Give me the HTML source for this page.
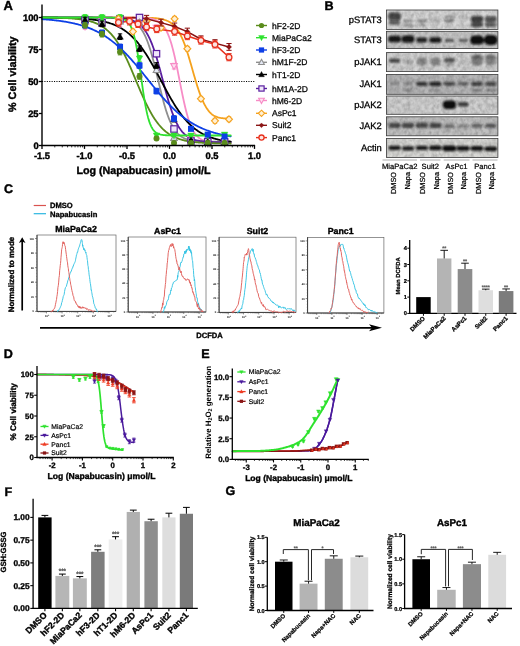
<!DOCTYPE html>
<html><head><meta charset="utf-8"><title>Figure</title>
<style>html,body{margin:0;padding:0;background:#fff}svg{display:block}text{font-family:"Liberation Sans", sans-serif;text-rendering:geometricPrecision}</style>
</head><body>
<svg width="520" height="646" viewBox="0 0 520 646">
<defs>
<filter id="bl1" x="-20%" y="-50%" width="140%" height="200%"><feGaussianBlur stdDeviation="1.0"/></filter>
<filter id="noise" x="0" y="0" width="100%" height="100%"><feTurbulence type="fractalNoise" baseFrequency="0.28 0.24" numOctaves="2" seed="7" result="n"/><feColorMatrix in="n" type="matrix" values="0 0 0 0 0  0 0 0 0 0  0 0 0 0 0  0.45 0.45 0.45 0 -0.52"/></filter>
<filter id="soft" x="0" y="0" width="520" height="646" filterUnits="userSpaceOnUse"><feGaussianBlur stdDeviation="0.32"/></filter>
<filter id="bl2" x="-20%" y="-50%" width="140%" height="200%"><feGaussianBlur stdDeviation="2"/></filter>
</defs>
<rect width="520" height="646" fill="#fff"/>
<g filter="url(#soft)">
<text x="3.60" y="9.80" font-size="13" text-anchor="start" font-weight="bold" stroke="#000" stroke-width="0.40" fill="#000">A</text>
<line x1="42.00" y1="81.50" x2="254.50" y2="81.50" stroke="#000" stroke-width="1.0" stroke-dasharray="1.1 1.3"/>
<path d="M42.00,17.50 L42.63,17.50 L43.26,17.50 L43.89,17.50 L44.52,17.50 L45.16,17.50 L45.79,17.50 L46.42,17.50 L47.05,17.50 L47.68,17.50 L48.31,17.50 L48.94,17.50 L49.57,17.50 L50.20,17.50 L50.84,17.50 L51.47,17.50 L52.10,17.50 L52.73,17.50 L53.36,17.50 L53.99,17.50 L54.62,17.50 L55.25,17.50 L55.88,17.50 L56.52,17.50 L57.15,17.50 L57.78,17.50 L58.41,17.50 L59.04,17.50 L59.67,17.50 L60.30,17.50 L60.93,17.50 L61.56,17.50 L62.20,17.50 L62.83,17.50 L63.46,17.50 L64.09,17.50 L64.72,17.50 L65.35,17.50 L65.98,17.50 L66.61,17.50 L67.24,17.50 L67.88,17.50 L68.51,17.50 L69.14,17.50 L69.77,17.50 L70.40,17.50 L71.03,17.50 L71.66,17.50 L72.29,17.50 L72.92,17.50 L73.56,17.50 L74.19,17.50 L74.82,17.50 L75.45,17.50 L76.08,17.50 L76.71,17.50 L77.34,17.50 L77.97,17.50 L78.60,17.50 L79.24,17.50 L79.87,17.50 L80.50,17.50 L81.13,17.50 L81.76,17.50 L82.39,17.50 L83.02,17.50 L83.65,17.50 L84.28,17.50 L84.92,17.50 L85.55,17.50 L86.18,17.50 L86.81,17.50 L87.44,17.50 L88.07,17.50 L88.70,17.50 L89.33,17.50 L89.96,17.50 L90.59,17.50 L91.23,17.50 L91.86,17.50 L92.49,17.50 L93.12,17.50 L93.75,17.50 L94.38,17.50 L95.01,17.50 L95.64,17.50 L96.27,17.50 L96.91,17.50 L97.54,17.50 L98.17,17.50 L98.80,17.50 L99.43,17.50 L100.06,17.50 L100.69,17.50 L101.32,17.50 L101.95,17.50 L102.59,17.50 L103.22,17.50 L103.85,17.50 L104.48,17.50 L105.11,17.50 L105.74,17.50 L106.37,17.50 L107.00,17.50 L107.63,17.50 L108.27,17.50 L108.90,17.50 L109.53,17.50 L110.16,17.50 L110.79,17.50 L111.42,17.50 L112.05,17.50 L112.68,17.50 L113.31,17.50 L113.95,17.50 L114.58,17.50 L115.21,17.50 L115.84,17.50 L116.47,17.50 L117.10,17.50 L117.73,17.50 L118.36,17.50 L118.99,17.51 L119.63,17.51 L120.26,17.51 L120.89,17.51 L121.52,17.51 L122.15,17.51 L122.78,17.51 L123.41,17.51 L124.04,17.51 L124.67,17.51 L125.31,17.51 L125.94,17.51 L126.57,17.51 L127.20,17.52 L127.83,17.52 L128.46,17.52 L129.09,17.52 L129.72,17.52 L130.35,17.52 L130.99,17.53 L131.62,17.53 L132.25,17.53 L132.88,17.53 L133.51,17.54 L134.14,17.54 L134.77,17.54 L135.40,17.55 L136.03,17.55 L136.67,17.55 L137.30,17.56 L137.93,17.57 L138.56,17.57 L139.19,17.58 L139.82,17.58 L140.45,17.59 L141.08,17.60 L141.71,17.61 L142.35,17.62 L142.98,17.63 L143.61,17.64 L144.24,17.65 L144.87,17.67 L145.50,17.68 L146.13,17.70 L146.76,17.71 L147.39,17.73 L148.03,17.75 L148.66,17.78 L149.29,17.80 L149.92,17.83 L150.55,17.86 L151.18,17.89 L151.81,17.93 L152.44,17.96 L153.07,18.00 L153.71,18.05 L154.34,18.10 L154.97,18.15 L155.60,18.21 L156.23,18.27 L156.86,18.34 L157.49,18.41 L158.12,18.49 L158.75,18.58 L159.39,18.68 L160.02,18.78 L160.65,18.89 L161.28,19.02 L161.91,19.15 L162.54,19.29 L163.17,19.45 L163.80,19.62 L164.43,19.81 L165.07,20.01 L165.70,20.23 L166.33,20.46 L166.96,20.72 L167.59,20.99 L168.22,21.30 L168.85,21.62 L169.48,21.97 L170.11,22.35 L170.75,22.76 L171.38,23.21 L172.01,23.69 L172.64,24.20 L173.27,24.76 L173.90,25.36 L174.53,26.00 L175.16,26.69 L175.79,27.44 L176.43,28.23 L177.06,29.08 L177.69,29.99 L178.32,30.96 L178.95,31.99 L179.58,33.09 L180.21,34.26 L180.84,35.49 L181.47,36.80 L182.11,38.18 L182.74,39.63 L183.37,41.16 L184.00,42.75 L184.63,44.42 L185.26,46.16 L185.89,47.97 L186.52,49.84 L187.15,51.77 L187.78,53.76 L188.42,55.80 L189.05,57.88 L189.68,60.01 L190.31,62.17 L190.94,64.35 L191.57,66.56 L192.20,68.77 L192.83,70.99 L193.46,73.19 L194.10,75.39 L194.73,77.56 L195.36,79.71 L195.99,81.81 L196.62,83.88 L197.25,85.90 L197.88,87.86 L198.51,89.76 L199.14,91.60 L199.78,93.37 L200.41,95.08 L201.04,96.71 L201.67,98.27 L202.30,99.76 L202.93,101.18 L203.56,102.52 L204.19,103.79 L204.82,105.00 L205.46,106.13 L206.09,107.20 L206.72,108.20 L207.35,109.14 L207.98,110.02 L208.61,110.84 L209.24,111.61 L209.87,112.33 L210.50,113.00 L211.14,113.62 L211.77,114.20 L212.40,114.68 L213.03,115.11 L213.66,115.49 L214.29,115.84 L214.92,116.16 L215.55,116.45 L216.18,116.72 L216.82,116.95 L217.45,117.17 L218.08,117.36 L218.71,117.53 L219.34,117.68 L219.97,117.81 L220.60,117.93 L221.23,118.03 L221.86,118.12 L222.50,118.19 L223.13,118.26 L223.76,118.31 L224.39,118.35 L225.02,118.38 L225.65,118.41 L226.28,118.42 L226.91,118.43 L227.54,118.43 L228.18,118.43 L228.81,118.42 L229.44,118.40 L230.07,118.38 L230.70,118.35" stroke="#f5a21e" stroke-width="1.8" fill="none" stroke-linejoin="round" stroke-linecap="round"/>
<path d="M42.00,17.50 L42.63,17.50 L43.26,17.50 L43.89,17.50 L44.52,17.50 L45.16,17.50 L45.79,17.50 L46.42,17.50 L47.05,17.50 L47.68,17.50 L48.31,17.50 L48.94,17.50 L49.57,17.50 L50.20,17.50 L50.84,17.50 L51.47,17.50 L52.10,17.50 L52.73,17.50 L53.36,17.50 L53.99,17.50 L54.62,17.50 L55.25,17.50 L55.88,17.50 L56.52,17.50 L57.15,17.50 L57.78,17.50 L58.41,17.50 L59.04,17.50 L59.67,17.50 L60.30,17.50 L60.93,17.50 L61.56,17.50 L62.20,17.50 L62.83,17.50 L63.46,17.50 L64.09,17.50 L64.72,17.50 L65.35,17.50 L65.98,17.50 L66.61,17.50 L67.24,17.50 L67.88,17.50 L68.51,17.50 L69.14,17.50 L69.77,17.50 L70.40,17.50 L71.03,17.50 L71.66,17.50 L72.29,17.50 L72.92,17.50 L73.56,17.50 L74.19,17.50 L74.82,17.50 L75.45,17.50 L76.08,17.50 L76.71,17.50 L77.34,17.50 L77.97,17.50 L78.60,17.50 L79.24,17.50 L79.87,17.50 L80.50,17.50 L81.13,17.50 L81.76,17.50 L82.39,17.50 L83.02,17.50 L83.65,17.50 L84.28,17.50 L84.92,17.50 L85.55,17.50 L86.18,17.50 L86.81,17.50 L87.44,17.50 L88.07,17.50 L88.70,17.50 L89.33,17.50 L89.96,17.50 L90.59,17.50 L91.23,17.50 L91.86,17.50 L92.49,17.50 L93.12,17.50 L93.75,17.50 L94.38,17.50 L95.01,17.50 L95.64,17.50 L96.27,17.50 L96.91,17.50 L97.54,17.50 L98.17,17.50 L98.80,17.50 L99.43,17.50 L100.06,17.50 L100.69,17.50 L101.32,17.50 L101.95,17.50 L102.59,17.50 L103.22,17.50 L103.85,17.50 L104.48,17.50 L105.11,17.50 L105.74,17.50 L106.37,17.50 L107.00,17.50 L107.63,17.50 L108.27,17.50 L108.90,17.50 L109.53,17.50 L110.16,17.50 L110.79,17.50 L111.42,17.50 L112.05,17.50 L112.68,17.50 L113.31,17.50 L113.95,17.50 L114.58,17.50 L115.21,17.50 L115.84,17.50 L116.47,17.50 L117.10,17.50 L117.73,17.51 L118.36,17.51 L118.99,17.51 L119.63,17.51 L120.26,17.51 L120.89,17.51 L121.52,17.51 L122.15,17.51 L122.78,17.51 L123.41,17.51 L124.04,17.52 L124.67,17.52 L125.31,17.52 L125.94,17.52 L126.57,17.52 L127.20,17.53 L127.83,17.53 L128.46,17.53 L129.09,17.53 L129.72,17.54 L130.35,17.54 L130.99,17.55 L131.62,17.55 L132.25,17.56 L132.88,17.56 L133.51,17.57 L134.14,17.58 L134.77,17.59 L135.40,17.60 L136.03,17.61 L136.67,17.62 L137.30,17.63 L137.93,17.64 L138.56,17.66 L139.19,17.68 L139.82,17.70 L140.45,17.72 L141.08,17.74 L141.71,17.77 L142.35,17.80 L142.98,17.83 L143.61,17.86 L144.24,17.90 L144.87,17.95 L145.50,18.00 L146.13,18.05 L146.76,18.11 L147.39,18.17 L148.03,18.24 L148.66,18.32 L149.29,18.41 L149.92,18.51 L150.55,18.62 L151.18,18.74 L151.81,18.87 L152.44,19.02 L153.07,19.18 L153.71,19.36 L154.34,19.56 L154.97,19.77 L155.60,20.01 L156.23,20.28 L156.86,20.57 L157.49,20.90 L158.12,21.25 L158.75,21.64 L159.39,22.07 L160.02,22.55 L160.65,23.07 L161.28,23.64 L161.91,24.27 L162.54,24.96 L163.17,25.71 L163.80,26.53 L164.43,27.43 L165.07,28.41 L165.70,29.48 L166.33,30.64 L166.96,31.89 L167.59,33.25 L168.22,34.72 L168.85,36.30 L169.48,38.00 L170.11,39.82 L170.75,41.76 L171.38,43.84 L172.01,46.03 L172.64,48.36 L173.27,50.81 L173.90,53.37 L174.53,56.06 L175.16,58.85 L175.79,61.74 L176.43,64.72 L177.06,67.78 L177.69,70.90 L178.32,74.06 L178.95,77.26 L179.58,80.48 L180.21,83.69 L180.84,86.89 L181.47,90.05 L182.11,93.16 L182.74,96.20 L183.37,99.17 L184.00,102.04 L184.63,104.82 L185.26,107.49 L185.89,110.04 L186.52,112.46 L187.15,114.77 L187.78,116.95 L188.42,119.00 L189.05,120.92 L189.68,122.72 L190.31,124.40 L190.94,125.96 L191.57,127.41 L192.20,128.76 L192.83,130.00 L193.46,131.14 L194.10,132.19 L194.73,133.16 L195.36,134.04 L195.99,134.86 L196.62,135.60 L197.25,136.28 L197.88,136.89 L198.51,137.46 L199.14,137.97 L199.78,138.44 L200.41,138.86 L201.04,139.25 L201.67,139.60 L202.30,139.92 L202.93,140.20 L203.56,140.47 L204.19,140.70 L204.82,140.92 L205.46,141.11 L206.09,141.29 L206.72,141.45 L207.35,141.59 L207.98,141.72 L208.61,141.84 L209.24,141.95 L209.87,142.04 L210.50,142.13 L211.14,142.21 L211.77,142.28 L212.40,142.34 L213.03,142.40 L213.66,142.45 L214.29,142.50 L214.92,142.54 L215.55,142.58 L216.18,142.62 L216.82,142.65 L217.45,142.68 L218.08,142.70 L218.71,142.73 L219.34,142.75 L219.97,142.76 L220.60,142.78 L221.23,142.80 L221.86,142.81 L222.50,142.82 L223.13,142.84 L223.76,142.85 L224.39,142.85 L225.02,142.86 L225.65,142.87 L226.28,142.88 L226.91,142.88 L227.54,142.89 L228.18,142.89 L228.81,142.90 L229.44,142.90 L230.07,142.91 L230.70,142.91" stroke="#f78cc6" stroke-width="1.8" fill="none" stroke-linejoin="round" stroke-linecap="round"/>
<path d="M42.00,17.50 L42.63,17.50 L43.26,17.50 L43.89,17.50 L44.52,17.50 L45.16,17.50 L45.79,17.50 L46.42,17.50 L47.05,17.50 L47.68,17.50 L48.31,17.50 L48.94,17.50 L49.57,17.50 L50.20,17.50 L50.84,17.50 L51.47,17.50 L52.10,17.50 L52.73,17.50 L53.36,17.50 L53.99,17.50 L54.62,17.50 L55.25,17.50 L55.88,17.50 L56.52,17.50 L57.15,17.50 L57.78,17.50 L58.41,17.50 L59.04,17.50 L59.67,17.50 L60.30,17.50 L60.93,17.50 L61.56,17.50 L62.20,17.50 L62.83,17.50 L63.46,17.50 L64.09,17.50 L64.72,17.50 L65.35,17.50 L65.98,17.50 L66.61,17.50 L67.24,17.50 L67.88,17.50 L68.51,17.50 L69.14,17.50 L69.77,17.50 L70.40,17.50 L71.03,17.50 L71.66,17.50 L72.29,17.50 L72.92,17.50 L73.56,17.50 L74.19,17.50 L74.82,17.50 L75.45,17.50 L76.08,17.50 L76.71,17.50 L77.34,17.50 L77.97,17.50 L78.60,17.50 L79.24,17.50 L79.87,17.50 L80.50,17.50 L81.13,17.50 L81.76,17.50 L82.39,17.50 L83.02,17.50 L83.65,17.51 L84.28,17.51 L84.92,17.51 L85.55,17.51 L86.18,17.51 L86.81,17.51 L87.44,17.51 L88.07,17.51 L88.70,17.51 L89.33,17.51 L89.96,17.51 L90.59,17.51 L91.23,17.51 L91.86,17.52 L92.49,17.52 L93.12,17.52 L93.75,17.52 L94.38,17.52 L95.01,17.52 L95.64,17.53 L96.27,17.53 L96.91,17.53 L97.54,17.53 L98.17,17.54 L98.80,17.54 L99.43,17.54 L100.06,17.55 L100.69,17.55 L101.32,17.56 L101.95,17.56 L102.59,17.57 L103.22,17.57 L103.85,17.58 L104.48,17.59 L105.11,17.60 L105.74,17.60 L106.37,17.61 L107.00,17.62 L107.63,17.63 L108.27,17.65 L108.90,17.66 L109.53,17.67 L110.16,17.69 L110.79,17.71 L111.42,17.72 L112.05,17.74 L112.68,17.77 L113.31,17.79 L113.95,17.82 L114.58,17.84 L115.21,17.87 L115.84,17.91 L116.47,17.94 L117.10,17.98 L117.73,18.03 L118.36,18.07 L118.99,18.13 L119.63,18.18 L120.26,18.24 L120.89,18.31 L121.52,18.38 L122.15,18.46 L122.78,18.54 L123.41,18.63 L124.04,18.73 L124.67,18.84 L125.31,18.96 L125.94,19.09 L126.57,19.23 L127.20,19.38 L127.83,19.54 L128.46,19.72 L129.09,19.92 L129.72,20.13 L130.35,20.36 L130.99,20.61 L131.62,20.88 L132.25,21.17 L132.88,21.49 L133.51,21.83 L134.14,22.20 L134.77,22.60 L135.40,23.04 L136.03,23.51 L136.67,24.02 L137.30,24.57 L137.93,25.16 L138.56,25.80 L139.19,26.48 L139.82,27.22 L140.45,28.02 L141.08,28.87 L141.71,29.78 L142.35,30.76 L142.98,31.81 L143.61,32.93 L144.24,34.12 L144.87,35.39 L145.50,36.74 L146.13,38.17 L146.76,39.68 L147.39,41.28 L148.03,42.97 L148.66,44.75 L149.29,46.61 L149.92,48.56 L150.55,50.59 L151.18,52.70 L151.81,54.90 L152.44,57.17 L153.07,59.51 L153.71,61.92 L154.34,64.39 L154.97,66.91 L155.60,69.47 L156.23,72.07 L156.86,74.70 L157.49,77.34 L158.12,79.99 L158.75,82.64 L159.39,85.28 L160.02,87.90 L160.65,90.49 L161.28,93.04 L161.91,95.55 L162.54,98.00 L163.17,100.38 L163.80,102.70 L164.43,104.95 L165.07,107.12 L165.70,109.21 L166.33,111.22 L166.96,113.14 L167.59,114.97 L168.22,116.72 L168.85,118.38 L169.48,119.96 L170.11,121.44 L170.75,122.85 L171.38,124.17 L172.01,125.42 L172.64,126.59 L173.27,127.68 L173.90,128.71 L174.53,129.67 L175.16,130.56 L175.79,131.40 L176.43,132.17 L177.06,132.90 L177.69,133.57 L178.32,134.19 L178.95,134.77 L179.58,135.30 L180.21,135.80 L180.84,136.26 L181.47,136.68 L182.11,137.08 L182.74,137.44 L183.37,137.77 L184.00,138.08 L184.63,138.37 L185.26,138.63 L185.89,138.87 L186.52,139.10 L187.15,139.30 L187.78,139.49 L188.42,139.67 L189.05,139.83 L189.68,139.98 L190.31,140.11 L190.94,140.24 L191.57,140.35 L192.20,140.46 L192.83,140.56 L193.46,140.65 L194.10,140.73 L194.73,140.80 L195.36,140.87 L195.99,140.94 L196.62,141.00 L197.25,141.05 L197.88,141.10 L198.51,141.15 L199.14,141.19 L199.78,141.23 L200.41,141.26 L201.04,141.29 L201.67,141.32 L202.30,141.35 L202.93,141.38 L203.56,141.40 L204.19,141.42 L204.82,141.44 L205.46,141.46 L206.09,141.48 L206.72,141.49 L207.35,141.50 L207.98,141.52 L208.61,141.53 L209.24,141.54 L209.87,141.55 L210.50,141.56 L211.14,141.57 L211.77,141.57 L212.40,141.58 L213.03,141.59 L213.66,141.59 L214.29,141.60 L214.92,141.60 L215.55,141.61 L216.18,141.61 L216.82,141.62 L217.45,141.62 L218.08,141.62 L218.71,141.63 L219.34,141.63 L219.97,141.63 L220.60,141.63 L221.23,141.64 L221.86,141.64 L222.50,141.64 L223.13,141.64 L223.76,141.64 L224.39,141.64 L225.02,141.65 L225.65,141.65 L226.28,141.65 L226.91,141.65 L227.54,141.65 L228.18,141.65 L228.81,141.65 L229.44,141.65 L230.07,141.65 L230.70,141.65" stroke="#8f8f8f" stroke-width="1.8" fill="none" stroke-linejoin="round" stroke-linecap="round"/>
<path d="M42.00,17.50 L42.63,17.50 L43.26,17.50 L43.89,17.50 L44.52,17.50 L45.16,17.50 L45.79,17.50 L46.42,17.50 L47.05,17.50 L47.68,17.50 L48.31,17.50 L48.94,17.50 L49.57,17.50 L50.20,17.50 L50.84,17.50 L51.47,17.50 L52.10,17.50 L52.73,17.50 L53.36,17.50 L53.99,17.50 L54.62,17.50 L55.25,17.50 L55.88,17.50 L56.52,17.50 L57.15,17.50 L57.78,17.50 L58.41,17.50 L59.04,17.50 L59.67,17.50 L60.30,17.50 L60.93,17.50 L61.56,17.50 L62.20,17.50 L62.83,17.50 L63.46,17.50 L64.09,17.50 L64.72,17.50 L65.35,17.50 L65.98,17.50 L66.61,17.50 L67.24,17.50 L67.88,17.50 L68.51,17.50 L69.14,17.50 L69.77,17.50 L70.40,17.50 L71.03,17.50 L71.66,17.50 L72.29,17.50 L72.92,17.50 L73.56,17.50 L74.19,17.50 L74.82,17.50 L75.45,17.50 L76.08,17.50 L76.71,17.50 L77.34,17.50 L77.97,17.50 L78.60,17.50 L79.24,17.50 L79.87,17.51 L80.50,17.51 L81.13,17.51 L81.76,17.51 L82.39,17.51 L83.02,17.51 L83.65,17.51 L84.28,17.51 L84.92,17.51 L85.55,17.51 L86.18,17.51 L86.81,17.51 L87.44,17.51 L88.07,17.51 L88.70,17.52 L89.33,17.52 L89.96,17.52 L90.59,17.52 L91.23,17.52 L91.86,17.52 L92.49,17.52 L93.12,17.53 L93.75,17.53 L94.38,17.53 L95.01,17.53 L95.64,17.54 L96.27,17.54 L96.91,17.54 L97.54,17.54 L98.17,17.55 L98.80,17.55 L99.43,17.56 L100.06,17.56 L100.69,17.57 L101.32,17.57 L101.95,17.58 L102.59,17.58 L103.22,17.59 L103.85,17.60 L104.48,17.60 L105.11,17.61 L105.74,17.62 L106.37,17.63 L107.00,17.64 L107.63,17.65 L108.27,17.66 L108.90,17.68 L109.53,17.69 L110.16,17.71 L110.79,17.72 L111.42,17.74 L112.05,17.76 L112.68,17.78 L113.31,17.80 L113.95,17.83 L114.58,17.85 L115.21,17.88 L115.84,17.91 L116.47,17.94 L117.10,17.98 L117.73,18.02 L118.36,18.06 L118.99,18.10 L119.63,18.15 L120.26,18.20 L120.89,18.26 L121.52,18.32 L122.15,18.38 L122.78,18.45 L123.41,18.53 L124.04,18.61 L124.67,18.70 L125.31,18.79 L125.94,18.90 L126.57,19.01 L127.20,19.13 L127.83,19.25 L128.46,19.39 L129.09,19.54 L129.72,19.70 L130.35,19.87 L130.99,20.06 L131.62,20.26 L132.25,20.48 L132.88,20.71 L133.51,20.96 L134.14,21.22 L134.77,21.51 L135.40,21.82 L136.03,22.16 L136.67,22.51 L137.30,22.90 L137.93,23.31 L138.56,23.75 L139.19,24.22 L139.82,24.73 L140.45,25.27 L141.08,25.85 L141.71,26.47 L142.35,27.13 L142.98,27.84 L143.61,28.59 L144.24,29.39 L144.87,30.25 L145.50,31.16 L146.13,32.12 L146.76,33.14 L147.39,34.23 L148.03,35.37 L148.66,36.58 L149.29,37.86 L149.92,39.21 L150.55,40.62 L151.18,42.10 L151.81,43.66 L152.44,45.29 L153.07,46.98 L153.71,48.75 L154.34,50.59 L154.97,52.49 L155.60,54.46 L156.23,56.49 L156.86,58.58 L157.49,60.73 L158.12,62.93 L158.75,65.18 L159.39,67.46 L160.02,69.78 L160.65,72.13 L161.28,74.51 L161.91,76.90 L162.54,79.29 L163.17,81.69 L163.80,84.09 L164.43,86.47 L165.07,88.83 L165.70,91.17 L166.33,93.48 L166.96,95.74 L167.59,97.97 L168.22,100.14 L168.85,102.26 L169.48,104.32 L170.11,106.32 L170.75,108.26 L171.38,110.13 L172.01,111.93 L172.64,113.67 L173.27,115.33 L173.90,116.92 L174.53,118.44 L175.16,119.89 L175.79,121.27 L176.43,122.58 L177.06,123.82 L177.69,125.00 L178.32,126.12 L178.95,127.17 L179.58,128.16 L180.21,129.10 L180.84,129.98 L181.47,130.81 L182.11,131.59 L182.74,132.32 L183.37,133.00 L184.00,133.64 L184.63,134.24 L185.26,134.80 L185.89,135.33 L186.52,135.82 L187.15,136.27 L187.78,136.70 L188.42,137.10 L189.05,137.47 L189.68,137.81 L190.31,138.13 L190.94,138.43 L191.57,138.71 L192.20,138.97 L192.83,139.21 L193.46,139.43 L194.10,139.64 L194.73,139.83 L195.36,140.01 L195.99,140.18 L196.62,140.33 L197.25,140.48 L197.88,140.61 L198.51,140.73 L199.14,140.85 L199.78,140.96 L200.41,141.05 L201.04,141.15 L201.67,141.23 L202.30,141.31 L202.93,141.38 L203.56,141.45 L204.19,141.51 L204.82,141.57 L205.46,141.62 L206.09,141.67 L206.72,141.72 L207.35,141.76 L207.98,141.80 L208.61,141.84 L209.24,141.87 L209.87,141.90 L210.50,141.93 L211.14,141.96 L211.77,141.99 L212.40,142.01 L213.03,142.03 L213.66,142.05 L214.29,142.07 L214.92,142.09 L215.55,142.10 L216.18,142.12 L216.82,142.13 L217.45,142.14 L218.08,142.15 L218.71,142.16 L219.34,142.17 L219.97,142.18 L220.60,142.19 L221.23,142.20 L221.86,142.21 L222.50,142.21 L223.13,142.22 L223.76,142.23 L224.39,142.23 L225.02,142.24 L225.65,142.24 L226.28,142.25 L226.91,142.25 L227.54,142.25 L228.18,142.26 L228.81,142.26 L229.44,142.26 L230.07,142.27 L230.70,142.27" stroke="#5a1fa0" stroke-width="1.8" fill="none" stroke-linejoin="round" stroke-linecap="round"/>
<path d="M42.00,17.60 L42.63,17.61 L43.26,17.61 L43.89,17.62 L44.52,17.62 L45.16,17.63 L45.79,17.63 L46.42,17.64 L47.05,17.64 L47.68,17.65 L48.31,17.65 L48.94,17.66 L49.57,17.66 L50.20,17.67 L50.84,17.68 L51.47,17.68 L52.10,17.69 L52.73,17.70 L53.36,17.71 L53.99,17.71 L54.62,17.72 L55.25,17.73 L55.88,17.74 L56.52,17.75 L57.15,17.76 L57.78,17.77 L58.41,17.78 L59.04,17.79 L59.67,17.80 L60.30,17.81 L60.93,17.82 L61.56,17.84 L62.20,17.85 L62.83,17.86 L63.46,17.88 L64.09,17.89 L64.72,17.90 L65.35,17.92 L65.98,17.94 L66.61,17.95 L67.24,17.97 L67.88,17.99 L68.51,18.01 L69.14,18.03 L69.77,18.05 L70.40,18.07 L71.03,18.09 L71.66,18.11 L72.29,18.13 L72.92,18.16 L73.56,18.18 L74.19,18.21 L74.82,18.24 L75.45,18.27 L76.08,18.29 L76.71,18.32 L77.34,18.36 L77.97,18.39 L78.60,18.42 L79.24,18.46 L79.87,18.49 L80.50,18.53 L81.13,18.57 L81.76,18.61 L82.39,18.65 L83.02,18.70 L83.65,18.74 L84.28,18.79 L84.92,18.84 L85.55,18.89 L86.18,18.94 L86.81,19.00 L87.44,19.05 L88.07,19.11 L88.70,19.17 L89.33,19.24 L89.96,19.30 L90.59,19.37 L91.23,19.44 L91.86,19.51 L92.49,19.59 L93.12,19.67 L93.75,19.75 L94.38,19.83 L95.01,19.92 L95.64,20.01 L96.27,20.11 L96.91,20.21 L97.54,20.31 L98.17,20.41 L98.80,20.52 L99.43,20.63 L100.06,20.75 L100.69,20.87 L101.32,21.00 L101.95,21.13 L102.59,21.26 L103.22,21.40 L103.85,21.55 L104.48,21.70 L105.11,21.85 L105.74,22.01 L106.37,22.18 L107.00,22.35 L107.63,22.53 L108.27,22.72 L108.90,22.91 L109.53,23.11 L110.16,23.31 L110.79,23.52 L111.42,23.74 L112.05,23.97 L112.68,24.20 L113.31,24.45 L113.95,24.70 L114.58,24.96 L115.21,25.23 L115.84,25.50 L116.47,25.79 L117.10,26.09 L117.73,26.39 L118.36,26.71 L118.99,27.03 L119.63,27.37 L120.26,27.72 L120.89,28.08 L121.52,28.45 L122.15,28.83 L122.78,29.22 L123.41,29.63 L124.04,30.05 L124.67,30.48 L125.31,30.92 L125.94,31.38 L126.57,31.85 L127.20,32.34 L127.83,32.84 L128.46,33.35 L129.09,33.88 L129.72,34.43 L130.35,34.98 L130.99,35.56 L131.62,36.15 L132.25,36.75 L132.88,37.37 L133.51,38.01 L134.14,38.67 L134.77,39.34 L135.40,40.03 L136.03,40.73 L136.67,41.45 L137.30,42.19 L137.93,42.94 L138.56,43.72 L139.19,44.51 L139.82,45.31 L140.45,46.14 L141.08,46.98 L141.71,47.84 L142.35,48.71 L142.98,49.60 L143.61,50.51 L144.24,51.44 L144.87,52.38 L145.50,53.33 L146.13,54.31 L146.76,55.29 L147.39,56.30 L148.03,57.31 L148.66,58.35 L149.29,59.39 L149.92,60.45 L150.55,61.52 L151.18,62.60 L151.81,63.70 L152.44,64.81 L153.07,65.92 L153.71,67.05 L154.34,68.18 L154.97,69.33 L155.60,70.48 L156.23,71.64 L156.86,72.80 L157.49,73.97 L158.12,75.15 L158.75,76.33 L159.39,77.51 L160.02,78.69 L160.65,79.88 L161.28,81.06 L161.91,82.25 L162.54,83.43 L163.17,84.61 L163.80,85.79 L164.43,86.97 L165.07,88.14 L165.70,89.30 L166.33,90.46 L166.96,91.62 L167.59,92.76 L168.22,93.90 L168.85,95.03 L169.48,96.14 L170.11,97.25 L170.75,98.35 L171.38,99.43 L172.01,100.51 L172.64,101.57 L173.27,102.61 L173.90,103.65 L174.53,104.67 L175.16,105.67 L175.79,106.66 L176.43,107.63 L177.06,108.59 L177.69,109.54 L178.32,110.46 L178.95,111.37 L179.58,112.27 L180.21,113.14 L180.84,114.00 L181.47,114.85 L182.11,115.67 L182.74,116.48 L183.37,117.27 L184.00,118.05 L184.63,118.80 L185.26,119.54 L185.89,120.27 L186.52,120.97 L187.15,121.66 L187.78,122.34 L188.42,122.99 L189.05,123.63 L189.68,124.25 L190.31,124.86 L190.94,125.45 L191.57,126.03 L192.20,126.59 L192.83,127.14 L193.46,127.67 L194.10,128.18 L194.73,128.68 L195.36,129.17 L195.99,129.64 L196.62,130.10 L197.25,130.55 L197.88,130.98 L198.51,131.40 L199.14,131.81 L199.78,132.20 L200.41,132.59 L201.04,132.96 L201.67,133.32 L202.30,133.67 L202.93,134.01 L203.56,134.33 L204.19,134.65 L204.82,134.96 L205.46,135.26 L206.09,135.54 L206.72,135.82 L207.35,136.09 L207.98,136.35 L208.61,136.60 L209.24,136.85 L209.87,137.08 L210.50,137.31 L211.14,137.53 L211.77,137.74 L212.40,137.95 L213.03,138.15 L213.66,138.34 L214.29,138.53 L214.92,138.71 L215.55,138.88 L216.18,139.05 L216.82,139.21 L217.45,139.36 L218.08,139.51 L218.71,139.66 L219.34,139.80 L219.97,139.94 L220.60,140.07 L221.23,140.19 L221.86,140.31 L222.50,140.43 L223.13,140.55 L223.76,140.65 L224.39,140.76 L225.02,140.86 L225.65,140.96 L226.28,141.06 L226.91,141.15 L227.54,141.23 L228.18,141.32 L228.81,141.40 L229.44,141.48 L230.07,141.56 L230.70,141.63" stroke="#000000" stroke-width="1.8" fill="none" stroke-linejoin="round" stroke-linecap="round"/>
<path d="M42.00,17.60 L42.63,17.61 L43.26,17.61 L43.89,17.62 L44.52,17.62 L45.16,17.63 L45.79,17.63 L46.42,17.64 L47.05,17.65 L47.68,17.66 L48.31,17.66 L48.94,17.67 L49.57,17.68 L50.20,17.69 L50.84,17.70 L51.47,17.71 L52.10,17.72 L52.73,17.73 L53.36,17.74 L53.99,17.75 L54.62,17.76 L55.25,17.78 L55.88,17.79 L56.52,17.80 L57.15,17.82 L57.78,17.83 L58.41,17.85 L59.04,17.87 L59.67,17.88 L60.30,17.90 L60.93,17.92 L61.56,17.94 L62.20,17.97 L62.83,17.99 L63.46,18.01 L64.09,18.04 L64.72,18.06 L65.35,18.09 L65.98,18.12 L66.61,18.15 L67.24,18.18 L67.88,18.21 L68.51,18.25 L69.14,18.29 L69.77,18.32 L70.40,18.36 L71.03,18.41 L71.66,18.45 L72.29,18.50 L72.92,18.54 L73.56,18.60 L74.19,18.65 L74.82,18.70 L75.45,18.76 L76.08,18.82 L76.71,18.89 L77.34,18.96 L77.97,19.03 L78.60,19.10 L79.24,19.18 L79.87,19.26 L80.50,19.34 L81.13,19.43 L81.76,19.53 L82.39,19.62 L83.02,19.73 L83.65,19.83 L84.28,19.94 L84.92,20.06 L85.55,20.19 L86.18,20.31 L86.81,20.45 L87.44,20.59 L88.07,20.74 L88.70,20.89 L89.33,21.05 L89.96,21.22 L90.59,21.40 L91.23,21.58 L91.86,21.78 L92.49,21.98 L93.12,22.19 L93.75,22.41 L94.38,22.64 L95.01,22.89 L95.64,23.14 L96.27,23.40 L96.91,23.68 L97.54,23.96 L98.17,24.26 L98.80,24.58 L99.43,24.90 L100.06,25.24 L100.69,25.60 L101.32,25.97 L101.95,26.36 L102.59,26.76 L103.22,27.18 L103.85,27.61 L104.48,28.07 L105.11,28.54 L105.74,29.03 L106.37,29.54 L107.00,30.08 L107.63,30.63 L108.27,31.20 L108.90,31.80 L109.53,32.41 L110.16,33.06 L110.79,33.72 L111.42,34.41 L112.05,35.12 L112.68,35.86 L113.31,36.62 L113.95,37.41 L114.58,38.23 L115.21,39.07 L115.84,39.94 L116.47,40.84 L117.10,41.76 L117.73,42.71 L118.36,43.69 L118.99,44.70 L119.63,45.74 L120.26,46.80 L120.89,47.89 L121.52,49.01 L122.15,50.15 L122.78,51.32 L123.41,52.52 L124.04,53.75 L124.67,54.99 L125.31,56.27 L125.94,57.56 L126.57,58.88 L127.20,60.23 L127.83,61.59 L128.46,62.97 L129.09,64.37 L129.72,65.79 L130.35,67.22 L130.99,68.67 L131.62,70.13 L132.25,71.61 L132.88,73.09 L133.51,74.58 L134.14,76.08 L134.77,77.58 L135.40,79.09 L136.03,80.60 L136.67,82.11 L137.30,83.61 L137.93,85.12 L138.56,86.61 L139.19,88.11 L139.82,89.59 L140.45,91.06 L141.08,92.52 L141.71,93.97 L142.35,95.40 L142.98,96.82 L143.61,98.22 L144.24,99.60 L144.87,100.96 L145.50,102.30 L146.13,103.62 L146.76,104.91 L147.39,106.18 L148.03,107.43 L148.66,108.65 L149.29,109.85 L149.92,111.02 L150.55,112.16 L151.18,113.28 L151.81,114.36 L152.44,115.42 L153.07,116.46 L153.71,117.46 L154.34,118.44 L154.97,119.39 L155.60,120.31 L156.23,121.21 L156.86,122.07 L157.49,122.91 L158.12,123.73 L158.75,124.52 L159.39,125.28 L160.02,126.01 L160.65,126.72 L161.28,127.41 L161.91,128.07 L162.54,128.71 L163.17,129.33 L163.80,129.92 L164.43,130.50 L165.07,131.05 L165.70,131.58 L166.33,132.09 L166.96,132.58 L167.59,133.05 L168.22,133.50 L168.85,133.94 L169.48,134.35 L170.11,134.76 L170.75,135.14 L171.38,135.51 L172.01,135.86 L172.64,136.20 L173.27,136.53 L173.90,136.84 L174.53,137.14 L175.16,137.43 L175.79,137.70 L176.43,137.96 L177.06,138.21 L177.69,138.45 L178.32,138.68 L178.95,138.91 L179.58,139.12 L180.21,139.32 L180.84,139.51 L181.47,139.69 L182.11,139.87 L182.74,140.04 L183.37,140.20 L184.00,140.35 L184.63,140.50 L185.26,140.64 L185.89,140.78 L186.52,140.90 L187.15,141.03 L187.78,141.14 L188.42,141.26 L189.05,141.36 L189.68,141.46 L190.31,141.56 L190.94,141.65 L191.57,141.74 L192.20,141.83 L192.83,141.91 L193.46,141.99 L194.10,142.06 L194.73,142.13 L195.36,142.20 L195.99,142.26 L196.62,142.32 L197.25,142.38 L197.88,142.44 L198.51,142.49 L199.14,142.54 L199.78,142.59 L200.41,142.63 L201.04,142.68 L201.67,142.72 L202.30,142.76 L202.93,142.80 L203.56,142.83 L204.19,142.87 L204.82,142.90 L205.46,142.93 L206.09,142.96 L206.72,142.99 L207.35,143.02 L207.98,143.05 L208.61,143.07 L209.24,143.09 L209.87,143.12 L210.50,143.14 L211.14,143.16 L211.77,143.18 L212.40,143.20 L213.03,143.22 L213.66,143.23 L214.29,143.25 L214.92,143.26 L215.55,143.28 L216.18,143.29 L216.82,143.31 L217.45,143.32 L218.08,143.33 L218.71,143.34 L219.34,143.35 L219.97,143.36 L220.60,143.37 L221.23,143.38 L221.86,143.39 L222.50,143.40 L223.13,143.41 L223.76,143.42 L224.39,143.43 L225.02,143.43 L225.65,143.44 L226.28,143.45 L226.91,143.45 L227.54,143.46 L228.18,143.46 L228.81,143.47 L229.44,143.47 L230.07,143.48 L230.70,143.48" stroke="#5a8c1c" stroke-width="1.8" fill="none" stroke-linejoin="round" stroke-linecap="round"/>
<path d="M42.00,19.17 L42.63,19.22 L43.26,19.26 L43.89,19.30 L44.52,19.35 L45.16,19.40 L45.79,19.45 L46.42,19.50 L47.05,19.55 L47.68,19.60 L48.31,19.65 L48.94,19.71 L49.57,19.76 L50.20,19.82 L50.84,19.88 L51.47,19.94 L52.10,20.00 L52.73,20.07 L53.36,20.13 L53.99,20.20 L54.62,20.27 L55.25,20.34 L55.88,20.41 L56.52,20.49 L57.15,20.56 L57.78,20.64 L58.41,20.72 L59.04,20.80 L59.67,20.88 L60.30,20.97 L60.93,21.06 L61.56,21.14 L62.20,21.24 L62.83,21.33 L63.46,21.43 L64.09,21.53 L64.72,21.63 L65.35,21.73 L65.98,21.84 L66.61,21.94 L67.24,22.06 L67.88,22.17 L68.51,22.29 L69.14,22.41 L69.77,22.53 L70.40,22.65 L71.03,22.78 L71.66,22.91 L72.29,23.05 L72.92,23.18 L73.56,23.32 L74.19,23.47 L74.82,23.62 L75.45,23.77 L76.08,23.92 L76.71,24.08 L77.34,24.24 L77.97,24.41 L78.60,24.57 L79.24,24.75 L79.87,24.92 L80.50,25.11 L81.13,25.29 L81.76,25.48 L82.39,25.67 L83.02,25.87 L83.65,26.07 L84.28,26.28 L84.92,26.49 L85.55,26.71 L86.18,26.93 L86.81,27.15 L87.44,27.38 L88.07,27.62 L88.70,27.86 L89.33,28.11 L89.96,28.36 L90.59,28.61 L91.23,28.88 L91.86,29.14 L92.49,29.42 L93.12,29.70 L93.75,29.98 L94.38,30.27 L95.01,30.57 L95.64,30.87 L96.27,31.18 L96.91,31.49 L97.54,31.81 L98.17,32.14 L98.80,32.48 L99.43,32.82 L100.06,33.16 L100.69,33.52 L101.32,33.88 L101.95,34.25 L102.59,34.62 L103.22,35.00 L103.85,35.39 L104.48,35.78 L105.11,36.19 L105.74,36.60 L106.37,37.01 L107.00,37.44 L107.63,37.87 L108.27,38.31 L108.90,38.76 L109.53,39.21 L110.16,39.67 L110.79,40.14 L111.42,40.62 L112.05,41.11 L112.68,41.60 L113.31,42.10 L113.95,42.61 L114.58,43.13 L115.21,43.65 L115.84,44.18 L116.47,44.72 L117.10,45.27 L117.73,45.82 L118.36,46.39 L118.99,46.96 L119.63,47.53 L120.26,48.12 L120.89,48.71 L121.52,49.31 L122.15,49.92 L122.78,50.54 L123.41,51.16 L124.04,51.79 L124.67,52.43 L125.31,53.07 L125.94,53.73 L126.57,54.38 L127.20,55.05 L127.83,55.72 L128.46,56.40 L129.09,57.09 L129.72,57.78 L130.35,58.47 L130.99,59.18 L131.62,59.89 L132.25,60.60 L132.88,61.32 L133.51,62.05 L134.14,62.78 L134.77,63.51 L135.40,64.25 L136.03,65.00 L136.67,65.75 L137.30,66.50 L137.93,67.26 L138.56,68.02 L139.19,68.79 L139.82,69.55 L140.45,70.32 L141.08,71.10 L141.71,71.87 L142.35,72.65 L142.98,73.43 L143.61,74.22 L144.24,75.00 L144.87,75.78 L145.50,76.57 L146.13,77.36 L146.76,78.15 L147.39,78.93 L148.03,79.72 L148.66,80.51 L149.29,81.30 L149.92,82.08 L150.55,82.87 L151.18,83.65 L151.81,84.43 L152.44,85.21 L153.07,85.99 L153.71,86.77 L154.34,87.54 L154.97,88.31 L155.60,89.08 L156.23,89.85 L156.86,90.61 L157.49,91.36 L158.12,92.12 L158.75,92.87 L159.39,93.61 L160.02,94.35 L160.65,95.09 L161.28,95.82 L161.91,96.55 L162.54,97.27 L163.17,97.98 L163.80,98.69 L164.43,99.39 L165.07,100.09 L165.70,100.78 L166.33,101.47 L166.96,102.15 L167.59,102.82 L168.22,103.48 L168.85,104.14 L169.48,104.79 L170.11,105.44 L170.75,106.08 L171.38,106.71 L172.01,107.33 L172.64,107.95 L173.27,108.55 L173.90,109.16 L174.53,109.75 L175.16,110.33 L175.79,110.91 L176.43,111.48 L177.06,112.05 L177.69,112.60 L178.32,113.15 L178.95,113.69 L179.58,114.22 L180.21,114.74 L180.84,115.26 L181.47,115.77 L182.11,116.27 L182.74,116.76 L183.37,117.25 L184.00,117.73 L184.63,118.20 L185.26,118.66 L185.89,119.11 L186.52,119.56 L187.15,120.00 L187.78,120.43 L188.42,120.86 L189.05,121.28 L189.68,121.69 L190.31,122.09 L190.94,122.48 L191.57,122.87 L192.20,123.25 L192.83,123.63 L193.46,124.00 L194.10,124.36 L194.73,124.71 L195.36,125.06 L195.99,125.40 L196.62,125.73 L197.25,126.06 L197.88,126.38 L198.51,126.70 L199.14,127.01 L199.78,127.31 L200.41,127.60 L201.04,127.89 L201.67,128.18 L202.30,128.46 L202.93,128.73 L203.56,129.00 L204.19,129.26 L204.82,129.52 L205.46,129.77 L206.09,130.02 L206.72,130.26 L207.35,130.49 L207.98,130.72 L208.61,130.95 L209.24,131.17 L209.87,131.39 L210.50,131.60 L211.14,131.80 L211.77,132.01 L212.40,132.20 L213.03,132.40 L213.66,132.59 L214.29,132.77 L214.92,132.95 L215.55,133.13 L216.18,133.30 L216.82,133.47 L217.45,133.64 L218.08,133.80 L218.71,133.96 L219.34,134.11 L219.97,134.26 L220.60,134.41 L221.23,134.55 L221.86,134.69 L222.50,134.83 L223.13,134.97 L223.76,135.10 L224.39,135.22 L225.02,135.35 L225.65,135.47 L226.28,135.59 L226.91,135.71 L227.54,135.82 L228.18,135.93 L228.81,136.04 L229.44,136.15 L230.07,136.25 L230.70,136.35" stroke="#0c3fe6" stroke-width="1.8" fill="none" stroke-linejoin="round" stroke-linecap="round"/>
<path d="M42.00,17.50 L42.63,17.50 L43.26,17.50 L43.89,17.50 L44.52,17.50 L45.16,17.50 L45.79,17.50 L46.42,17.50 L47.05,17.50 L47.68,17.50 L48.31,17.50 L48.94,17.50 L49.57,17.50 L50.20,17.50 L50.84,17.50 L51.47,17.50 L52.10,17.50 L52.73,17.50 L53.36,17.50 L53.99,17.50 L54.62,17.50 L55.25,17.50 L55.88,17.50 L56.52,17.50 L57.15,17.50 L57.78,17.50 L58.41,17.50 L59.04,17.50 L59.67,17.50 L60.30,17.50 L60.93,17.50 L61.56,17.50 L62.20,17.50 L62.83,17.50 L63.46,17.50 L64.09,17.50 L64.72,17.50 L65.35,17.50 L65.98,17.50 L66.61,17.50 L67.24,17.50 L67.88,17.50 L68.51,17.50 L69.14,17.50 L69.77,17.50 L70.40,17.50 L71.03,17.50 L71.66,17.50 L72.29,17.50 L72.92,17.50 L73.56,17.50 L74.19,17.50 L74.82,17.50 L75.45,17.50 L76.08,17.50 L76.71,17.50 L77.34,17.50 L77.97,17.50 L78.60,17.50 L79.24,17.50 L79.87,17.50 L80.50,17.50 L81.13,17.50 L81.76,17.50 L82.39,17.50 L83.02,17.50 L83.65,17.50 L84.28,17.50 L84.92,17.50 L85.55,17.50 L86.18,17.50 L86.81,17.50 L87.44,17.50 L88.07,17.50 L88.70,17.50 L89.33,17.50 L89.96,17.50 L90.59,17.50 L91.23,17.50 L91.86,17.50 L92.49,17.50 L93.12,17.50 L93.75,17.50 L94.38,17.50 L95.01,17.50 L95.64,17.50 L96.27,17.50 L96.91,17.50 L97.54,17.50 L98.17,17.50 L98.80,17.50 L99.43,17.50 L100.06,17.51 L100.69,17.51 L101.32,17.51 L101.95,17.51 L102.59,17.51 L103.22,17.51 L103.85,17.51 L104.48,17.52 L105.11,17.52 L105.74,17.52 L106.37,17.53 L107.00,17.53 L107.63,17.53 L108.27,17.54 L108.90,17.55 L109.53,17.55 L110.16,17.56 L110.79,17.57 L111.42,17.59 L112.05,17.60 L112.68,17.62 L113.31,17.64 L113.95,17.66 L114.58,17.69 L115.21,17.72 L115.84,17.75 L116.47,17.80 L117.10,17.84 L117.73,17.90 L118.36,17.97 L118.99,18.05 L119.63,18.14 L120.26,18.24 L120.89,18.36 L121.52,18.51 L122.15,18.67 L122.78,18.87 L123.41,19.09 L124.04,19.35 L124.67,19.65 L125.31,20.00 L125.94,20.41 L126.57,20.88 L127.20,21.42 L127.83,22.05 L128.46,22.77 L129.09,23.60 L129.72,24.56 L130.35,25.65 L130.99,26.90 L131.62,28.32 L132.25,29.92 L132.88,31.74 L133.51,33.78 L134.14,36.07 L134.77,38.60 L135.40,41.40 L136.03,44.47 L136.67,47.80 L137.30,51.40 L137.93,55.23 L138.56,59.28 L139.19,63.52 L139.82,67.91 L140.45,72.39 L141.08,76.93 L141.71,81.46 L142.35,85.93 L142.98,90.29 L143.61,94.50 L144.24,98.51 L144.87,102.30 L145.50,105.85 L146.13,109.13 L146.76,112.15 L147.39,114.90 L148.03,117.39 L148.66,119.63 L149.29,121.63 L149.92,123.40 L150.55,124.98 L151.18,126.36 L151.81,127.58 L152.44,128.65 L153.07,129.58 L153.71,130.39 L154.34,131.09 L154.97,131.70 L155.60,132.23 L156.23,132.69 L156.86,133.08 L157.49,133.42 L158.12,133.72 L158.75,133.97 L159.39,134.19 L160.02,134.38 L160.65,134.54 L161.28,134.68 L161.91,134.79 L162.54,134.90 L163.17,134.99 L163.80,135.06 L164.43,135.13 L165.07,135.18 L165.70,135.23 L166.33,135.27 L166.96,135.30 L167.59,135.33 L168.22,135.36 L168.85,135.38 L169.48,135.40 L170.11,135.42 L170.75,135.43 L171.38,135.44 L172.01,135.45 L172.64,135.46 L173.27,135.47 L173.90,135.48 L174.53,135.48 L175.16,135.49 L175.79,135.49 L176.43,135.49 L177.06,135.50 L177.69,135.50 L178.32,135.50 L178.95,135.50 L179.58,135.51 L180.21,135.51 L180.84,135.51 L181.47,135.51 L182.11,135.51 L182.74,135.51 L183.37,135.51 L184.00,135.51 L184.63,135.51 L185.26,135.51 L185.89,135.51 L186.52,135.51 L187.15,135.51 L187.78,135.51 L188.42,135.51 L189.05,135.52 L189.68,135.52 L190.31,135.52 L190.94,135.52 L191.57,135.52 L192.20,135.52 L192.83,135.52 L193.46,135.52 L194.10,135.52 L194.73,135.52 L195.36,135.52 L195.99,135.52 L196.62,135.52 L197.25,135.52 L197.88,135.52 L198.51,135.52 L199.14,135.52 L199.78,135.52 L200.41,135.52 L201.04,135.52 L201.67,135.52 L202.30,135.52 L202.93,135.52 L203.56,135.52 L204.19,135.52 L204.82,135.52 L205.46,135.52 L206.09,135.52 L206.72,135.52 L207.35,135.52 L207.98,135.52 L208.61,135.52 L209.24,135.52 L209.87,135.52 L210.50,135.52 L211.14,135.52 L211.77,135.52 L212.40,135.52 L213.03,135.52 L213.66,135.52 L214.29,135.52 L214.92,135.52 L215.55,135.52 L216.18,135.52 L216.82,135.52 L217.45,135.52 L218.08,135.52 L218.71,135.52 L219.34,135.52 L219.97,135.52 L220.60,135.52 L221.23,135.52 L221.86,135.52 L222.50,135.52 L223.13,135.52 L223.76,135.52 L224.39,135.52 L225.02,135.52 L225.65,135.52 L226.28,135.52 L226.91,135.52 L227.54,135.52 L228.18,135.52 L228.81,135.52 L229.44,135.52 L230.07,135.52 L230.70,135.52" stroke="#2fe22f" stroke-width="1.8" fill="none" stroke-linejoin="round" stroke-linecap="round"/>
<path d="M118.50,18.78 L132.95,17.50 L146.55,18.78 L161.00,22.62 L174.60,26.46 L187.35,31.58 L200.95,39.26 L214.98,43.10 L229.00,46.94" stroke="#8a1212" stroke-width="1.5" fill="none" stroke-linejoin="round" stroke-linecap="round"/>
<path d="M118.50,22.62 L129.55,21.34 L138.05,23.90 L146.55,27.10 L156.75,29.02 L174.60,31.58 L187.35,36.06 L200.95,40.54 L214.98,44.38 L229.00,57.18" stroke="#e8301e" stroke-width="1.5" fill="none" stroke-linejoin="round" stroke-linecap="round"/>
<line x1="85.01" y1="23.64" x2="85.01" y2="29.28" stroke="#f78cc6" stroke-width="1.0"/>
<line x1="82.81" y1="23.64" x2="87.21" y2="23.64" stroke="#f78cc6" stroke-width="1.0"/>
<line x1="82.81" y1="29.28" x2="87.21" y2="29.28" stroke="#f78cc6" stroke-width="1.0"/>
<polygon points="85.01,29.91 88.31,23.91 81.71,23.91" fill="#fde0f0" stroke="#f78cc6" stroke-width="1.1"/>
<line x1="102.01" y1="18.52" x2="102.01" y2="24.16" stroke="#f78cc6" stroke-width="1.0"/>
<line x1="99.81" y1="18.52" x2="104.21" y2="18.52" stroke="#f78cc6" stroke-width="1.0"/>
<line x1="99.81" y1="24.16" x2="104.21" y2="24.16" stroke="#f78cc6" stroke-width="1.0"/>
<polygon points="102.01,24.79 105.31,18.79 98.71,18.79" fill="#fde0f0" stroke="#f78cc6" stroke-width="1.1"/>
<line x1="120.03" y1="21.08" x2="120.03" y2="26.72" stroke="#f78cc6" stroke-width="1.0"/>
<line x1="117.83" y1="21.08" x2="122.23" y2="21.08" stroke="#f78cc6" stroke-width="1.0"/>
<line x1="117.83" y1="26.72" x2="122.23" y2="26.72" stroke="#f78cc6" stroke-width="1.0"/>
<polygon points="120.03,27.35 123.33,21.35 116.73,21.35" fill="#fde0f0" stroke="#f78cc6" stroke-width="1.1"/>
<line x1="139.50" y1="21.08" x2="139.50" y2="26.72" stroke="#f78cc6" stroke-width="1.0"/>
<line x1="137.30" y1="21.08" x2="141.69" y2="21.08" stroke="#f78cc6" stroke-width="1.0"/>
<line x1="137.30" y1="26.72" x2="141.69" y2="26.72" stroke="#f78cc6" stroke-width="1.0"/>
<polygon points="139.50,27.35 142.80,21.35 136.19,21.35" fill="#fde0f0" stroke="#f78cc6" stroke-width="1.1"/>
<line x1="156.50" y1="24.92" x2="156.50" y2="30.56" stroke="#f78cc6" stroke-width="1.0"/>
<line x1="154.30" y1="24.92" x2="158.69" y2="24.92" stroke="#f78cc6" stroke-width="1.0"/>
<line x1="154.30" y1="30.56" x2="158.69" y2="30.56" stroke="#f78cc6" stroke-width="1.0"/>
<polygon points="156.50,31.19 159.80,25.19 153.19,25.19" fill="#fde0f0" stroke="#f78cc6" stroke-width="1.1"/>
<line x1="174.00" y1="63.32" x2="174.00" y2="68.96" stroke="#f78cc6" stroke-width="1.0"/>
<line x1="171.81" y1="63.32" x2="176.20" y2="63.32" stroke="#f78cc6" stroke-width="1.0"/>
<line x1="171.81" y1="68.96" x2="176.20" y2="68.96" stroke="#f78cc6" stroke-width="1.0"/>
<polygon points="174.00,69.59 177.31,63.59 170.70,63.59" fill="#fde0f0" stroke="#f78cc6" stroke-width="1.1"/>
<line x1="191.00" y1="138.08" x2="191.00" y2="140.12" stroke="#f78cc6" stroke-width="1.0"/>
<line x1="188.81" y1="138.08" x2="193.20" y2="138.08" stroke="#f78cc6" stroke-width="1.0"/>
<line x1="188.81" y1="140.12" x2="193.20" y2="140.12" stroke="#f78cc6" stroke-width="1.0"/>
<polygon points="191.00,142.55 194.31,136.55 187.70,136.55" fill="#fde0f0" stroke="#f78cc6" stroke-width="1.1"/>
<line x1="207.75" y1="141.28" x2="207.75" y2="143.32" stroke="#f78cc6" stroke-width="1.0"/>
<line x1="205.55" y1="141.28" x2="209.95" y2="141.28" stroke="#f78cc6" stroke-width="1.0"/>
<line x1="205.55" y1="143.32" x2="209.95" y2="143.32" stroke="#f78cc6" stroke-width="1.0"/>
<polygon points="207.75,145.75 211.05,139.75 204.45,139.75" fill="#fde0f0" stroke="#f78cc6" stroke-width="1.1"/>
<line x1="224.58" y1="141.28" x2="224.58" y2="143.32" stroke="#f78cc6" stroke-width="1.0"/>
<line x1="222.38" y1="141.28" x2="226.78" y2="141.28" stroke="#f78cc6" stroke-width="1.0"/>
<line x1="222.38" y1="143.32" x2="226.78" y2="143.32" stroke="#f78cc6" stroke-width="1.0"/>
<polygon points="224.58,145.75 227.88,139.75 221.28,139.75" fill="#fde0f0" stroke="#f78cc6" stroke-width="1.1"/>
<line x1="85.01" y1="17.24" x2="85.01" y2="22.88" stroke="#5a1fa0" stroke-width="1.0"/>
<line x1="82.81" y1="17.24" x2="87.21" y2="17.24" stroke="#5a1fa0" stroke-width="1.0"/>
<line x1="82.81" y1="22.88" x2="87.21" y2="22.88" stroke="#5a1fa0" stroke-width="1.0"/>
<rect x="81.81" y="16.86" width="6.40" height="6.40" fill="#efe6fa" stroke="#5a1fa0" stroke-width="1.2"/>
<line x1="102.01" y1="19.80" x2="102.01" y2="25.44" stroke="#5a1fa0" stroke-width="1.0"/>
<line x1="99.81" y1="19.80" x2="104.21" y2="19.80" stroke="#5a1fa0" stroke-width="1.0"/>
<line x1="99.81" y1="25.44" x2="104.21" y2="25.44" stroke="#5a1fa0" stroke-width="1.0"/>
<rect x="98.81" y="19.42" width="6.40" height="6.40" fill="#efe6fa" stroke="#5a1fa0" stroke-width="1.2"/>
<line x1="120.03" y1="15.96" x2="120.03" y2="21.60" stroke="#5a1fa0" stroke-width="1.0"/>
<line x1="117.83" y1="15.96" x2="122.23" y2="15.96" stroke="#5a1fa0" stroke-width="1.0"/>
<line x1="117.83" y1="21.60" x2="122.23" y2="21.60" stroke="#5a1fa0" stroke-width="1.0"/>
<rect x="116.83" y="15.58" width="6.40" height="6.40" fill="#efe6fa" stroke="#5a1fa0" stroke-width="1.2"/>
<line x1="139.50" y1="14.68" x2="139.50" y2="20.32" stroke="#5a1fa0" stroke-width="1.0"/>
<line x1="137.30" y1="14.68" x2="141.69" y2="14.68" stroke="#5a1fa0" stroke-width="1.0"/>
<line x1="137.30" y1="20.32" x2="141.69" y2="20.32" stroke="#5a1fa0" stroke-width="1.0"/>
<rect x="136.30" y="14.30" width="6.40" height="6.40" fill="#efe6fa" stroke="#5a1fa0" stroke-width="1.2"/>
<line x1="156.50" y1="50.91" x2="156.50" y2="56.54" stroke="#5a1fa0" stroke-width="1.0"/>
<line x1="154.30" y1="50.91" x2="158.69" y2="50.91" stroke="#5a1fa0" stroke-width="1.0"/>
<line x1="154.30" y1="56.54" x2="158.69" y2="56.54" stroke="#5a1fa0" stroke-width="1.0"/>
<rect x="153.30" y="50.52" width="6.40" height="6.40" fill="#efe6fa" stroke="#5a1fa0" stroke-width="1.2"/>
<line x1="174.00" y1="127.96" x2="174.00" y2="130.01" stroke="#5a1fa0" stroke-width="1.0"/>
<line x1="171.81" y1="127.96" x2="176.20" y2="127.96" stroke="#5a1fa0" stroke-width="1.0"/>
<line x1="171.81" y1="130.01" x2="176.20" y2="130.01" stroke="#5a1fa0" stroke-width="1.0"/>
<rect x="170.81" y="125.79" width="6.40" height="6.40" fill="#efe6fa" stroke="#5a1fa0" stroke-width="1.2"/>
<line x1="191.00" y1="140.00" x2="191.00" y2="142.04" stroke="#5a1fa0" stroke-width="1.0"/>
<line x1="188.81" y1="140.00" x2="193.20" y2="140.00" stroke="#5a1fa0" stroke-width="1.0"/>
<line x1="188.81" y1="142.04" x2="193.20" y2="142.04" stroke="#5a1fa0" stroke-width="1.0"/>
<rect x="187.81" y="137.82" width="6.40" height="6.40" fill="#efe6fa" stroke="#5a1fa0" stroke-width="1.2"/>
<line x1="207.75" y1="140.64" x2="207.75" y2="142.68" stroke="#5a1fa0" stroke-width="1.0"/>
<line x1="205.55" y1="140.64" x2="209.95" y2="140.64" stroke="#5a1fa0" stroke-width="1.0"/>
<line x1="205.55" y1="142.68" x2="209.95" y2="142.68" stroke="#5a1fa0" stroke-width="1.0"/>
<rect x="204.55" y="138.46" width="6.40" height="6.40" fill="#efe6fa" stroke="#5a1fa0" stroke-width="1.2"/>
<line x1="224.58" y1="140.64" x2="224.58" y2="142.68" stroke="#5a1fa0" stroke-width="1.0"/>
<line x1="222.38" y1="140.64" x2="226.78" y2="140.64" stroke="#5a1fa0" stroke-width="1.0"/>
<line x1="222.38" y1="142.68" x2="226.78" y2="142.68" stroke="#5a1fa0" stroke-width="1.0"/>
<rect x="221.38" y="138.46" width="6.40" height="6.40" fill="#efe6fa" stroke="#5a1fa0" stroke-width="1.2"/>
<line x1="85.01" y1="18.52" x2="85.01" y2="24.16" stroke="#8f8f8f" stroke-width="1.0"/>
<line x1="82.81" y1="18.52" x2="87.21" y2="18.52" stroke="#8f8f8f" stroke-width="1.0"/>
<line x1="82.81" y1="24.16" x2="87.21" y2="24.16" stroke="#8f8f8f" stroke-width="1.0"/>
<polygon points="85.01,17.89 88.31,23.89 81.71,23.89" fill="#e4e8f4" stroke="#8f8f8f" stroke-width="1.1"/>
<line x1="102.01" y1="18.52" x2="102.01" y2="24.16" stroke="#8f8f8f" stroke-width="1.0"/>
<line x1="99.81" y1="18.52" x2="104.21" y2="18.52" stroke="#8f8f8f" stroke-width="1.0"/>
<line x1="99.81" y1="24.16" x2="104.21" y2="24.16" stroke="#8f8f8f" stroke-width="1.0"/>
<polygon points="102.01,17.89 105.31,23.89 98.71,23.89" fill="#e4e8f4" stroke="#8f8f8f" stroke-width="1.1"/>
<line x1="120.03" y1="18.52" x2="120.03" y2="24.16" stroke="#8f8f8f" stroke-width="1.0"/>
<line x1="117.83" y1="18.52" x2="122.23" y2="18.52" stroke="#8f8f8f" stroke-width="1.0"/>
<line x1="117.83" y1="24.16" x2="122.23" y2="24.16" stroke="#8f8f8f" stroke-width="1.0"/>
<polygon points="120.03,17.89 123.33,23.89 116.73,23.89" fill="#e4e8f4" stroke="#8f8f8f" stroke-width="1.1"/>
<line x1="139.50" y1="19.80" x2="139.50" y2="25.44" stroke="#8f8f8f" stroke-width="1.0"/>
<line x1="137.30" y1="19.80" x2="141.69" y2="19.80" stroke="#8f8f8f" stroke-width="1.0"/>
<line x1="137.30" y1="25.44" x2="141.69" y2="25.44" stroke="#8f8f8f" stroke-width="1.0"/>
<polygon points="139.50,19.17 142.80,25.17 136.19,25.17" fill="#e4e8f4" stroke="#8f8f8f" stroke-width="1.1"/>
<line x1="156.50" y1="67.16" x2="156.50" y2="72.80" stroke="#8f8f8f" stroke-width="1.0"/>
<line x1="154.30" y1="67.16" x2="158.69" y2="67.16" stroke="#8f8f8f" stroke-width="1.0"/>
<line x1="154.30" y1="72.80" x2="158.69" y2="72.80" stroke="#8f8f8f" stroke-width="1.0"/>
<polygon points="156.50,66.53 159.80,72.53 153.19,72.53" fill="#e4e8f4" stroke="#8f8f8f" stroke-width="1.1"/>
<line x1="174.00" y1="136.80" x2="174.00" y2="138.84" stroke="#8f8f8f" stroke-width="1.0"/>
<line x1="171.81" y1="136.80" x2="176.20" y2="136.80" stroke="#8f8f8f" stroke-width="1.0"/>
<line x1="171.81" y1="138.84" x2="176.20" y2="138.84" stroke="#8f8f8f" stroke-width="1.0"/>
<polygon points="174.00,134.37 177.31,140.37 170.70,140.37" fill="#e4e8f4" stroke="#8f8f8f" stroke-width="1.1"/>
<line x1="191.00" y1="140.64" x2="191.00" y2="142.68" stroke="#8f8f8f" stroke-width="1.0"/>
<line x1="188.81" y1="140.64" x2="193.20" y2="140.64" stroke="#8f8f8f" stroke-width="1.0"/>
<line x1="188.81" y1="142.68" x2="193.20" y2="142.68" stroke="#8f8f8f" stroke-width="1.0"/>
<polygon points="191.00,138.21 194.31,144.21 187.70,144.21" fill="#e4e8f4" stroke="#8f8f8f" stroke-width="1.1"/>
<line x1="207.75" y1="140.64" x2="207.75" y2="142.68" stroke="#8f8f8f" stroke-width="1.0"/>
<line x1="205.55" y1="140.64" x2="209.95" y2="140.64" stroke="#8f8f8f" stroke-width="1.0"/>
<line x1="205.55" y1="142.68" x2="209.95" y2="142.68" stroke="#8f8f8f" stroke-width="1.0"/>
<polygon points="207.75,138.21 211.05,144.21 204.45,144.21" fill="#e4e8f4" stroke="#8f8f8f" stroke-width="1.1"/>
<line x1="224.58" y1="140.64" x2="224.58" y2="142.68" stroke="#8f8f8f" stroke-width="1.0"/>
<line x1="222.38" y1="140.64" x2="226.78" y2="140.64" stroke="#8f8f8f" stroke-width="1.0"/>
<line x1="222.38" y1="142.68" x2="226.78" y2="142.68" stroke="#8f8f8f" stroke-width="1.0"/>
<polygon points="224.58,138.21 227.88,144.21 221.28,144.21" fill="#e4e8f4" stroke="#8f8f8f" stroke-width="1.1"/>
<line x1="85.01" y1="14.68" x2="85.01" y2="20.32" stroke="#2fe22f" stroke-width="1.0"/>
<line x1="82.81" y1="14.68" x2="87.21" y2="14.68" stroke="#2fe22f" stroke-width="1.0"/>
<line x1="82.81" y1="20.32" x2="87.21" y2="20.32" stroke="#2fe22f" stroke-width="1.0"/>
<polygon points="85.01,20.95 88.31,14.95 81.71,14.95" fill="#2fe22f" stroke="#2fe22f" stroke-width="0.4"/>
<line x1="102.01" y1="14.68" x2="102.01" y2="20.32" stroke="#2fe22f" stroke-width="1.0"/>
<line x1="99.81" y1="14.68" x2="104.21" y2="14.68" stroke="#2fe22f" stroke-width="1.0"/>
<line x1="99.81" y1="20.32" x2="104.21" y2="20.32" stroke="#2fe22f" stroke-width="1.0"/>
<polygon points="102.01,20.95 105.31,14.95 98.71,14.95" fill="#2fe22f" stroke="#2fe22f" stroke-width="0.4"/>
<line x1="120.03" y1="14.68" x2="120.03" y2="20.32" stroke="#2fe22f" stroke-width="1.0"/>
<line x1="117.83" y1="14.68" x2="122.23" y2="14.68" stroke="#2fe22f" stroke-width="1.0"/>
<line x1="117.83" y1="20.32" x2="122.23" y2="20.32" stroke="#2fe22f" stroke-width="1.0"/>
<polygon points="120.03,20.95 123.33,14.95 116.73,14.95" fill="#2fe22f" stroke="#2fe22f" stroke-width="0.4"/>
<line x1="139.50" y1="55.64" x2="139.50" y2="61.28" stroke="#2fe22f" stroke-width="1.0"/>
<line x1="137.30" y1="55.64" x2="141.69" y2="55.64" stroke="#2fe22f" stroke-width="1.0"/>
<line x1="137.30" y1="61.28" x2="141.69" y2="61.28" stroke="#2fe22f" stroke-width="1.0"/>
<polygon points="139.50,61.91 142.80,55.91 136.19,55.91" fill="#2fe22f" stroke="#2fe22f" stroke-width="0.4"/>
<line x1="156.50" y1="134.49" x2="156.50" y2="136.54" stroke="#2fe22f" stroke-width="1.0"/>
<line x1="154.30" y1="134.49" x2="158.69" y2="134.49" stroke="#2fe22f" stroke-width="1.0"/>
<line x1="154.30" y1="136.54" x2="158.69" y2="136.54" stroke="#2fe22f" stroke-width="1.0"/>
<polygon points="156.50,138.97 159.80,132.97 153.19,132.97" fill="#2fe22f" stroke="#2fe22f" stroke-width="0.4"/>
<line x1="174.00" y1="134.49" x2="174.00" y2="136.54" stroke="#2fe22f" stroke-width="1.0"/>
<line x1="171.81" y1="134.49" x2="176.20" y2="134.49" stroke="#2fe22f" stroke-width="1.0"/>
<line x1="171.81" y1="136.54" x2="176.20" y2="136.54" stroke="#2fe22f" stroke-width="1.0"/>
<polygon points="174.00,138.97 177.31,132.97 170.70,132.97" fill="#2fe22f" stroke="#2fe22f" stroke-width="0.4"/>
<line x1="191.00" y1="134.49" x2="191.00" y2="136.54" stroke="#2fe22f" stroke-width="1.0"/>
<line x1="188.81" y1="134.49" x2="193.20" y2="134.49" stroke="#2fe22f" stroke-width="1.0"/>
<line x1="188.81" y1="136.54" x2="193.20" y2="136.54" stroke="#2fe22f" stroke-width="1.0"/>
<polygon points="191.00,138.97 194.31,132.97 187.70,132.97" fill="#2fe22f" stroke="#2fe22f" stroke-width="0.4"/>
<line x1="207.75" y1="134.49" x2="207.75" y2="136.54" stroke="#2fe22f" stroke-width="1.0"/>
<line x1="205.55" y1="134.49" x2="209.95" y2="134.49" stroke="#2fe22f" stroke-width="1.0"/>
<line x1="205.55" y1="136.54" x2="209.95" y2="136.54" stroke="#2fe22f" stroke-width="1.0"/>
<polygon points="207.75,138.97 211.05,132.97 204.45,132.97" fill="#2fe22f" stroke="#2fe22f" stroke-width="0.4"/>
<line x1="224.58" y1="133.60" x2="224.58" y2="135.64" stroke="#2fe22f" stroke-width="1.0"/>
<line x1="222.38" y1="133.60" x2="226.78" y2="133.60" stroke="#2fe22f" stroke-width="1.0"/>
<line x1="222.38" y1="135.64" x2="226.78" y2="135.64" stroke="#2fe22f" stroke-width="1.0"/>
<polygon points="224.58,138.07 227.88,132.07 221.28,132.07" fill="#2fe22f" stroke="#2fe22f" stroke-width="0.4"/>
<line x1="85.01" y1="17.24" x2="85.01" y2="22.88" stroke="#000000" stroke-width="1.0"/>
<line x1="82.81" y1="17.24" x2="87.21" y2="17.24" stroke="#000000" stroke-width="1.0"/>
<line x1="82.81" y1="22.88" x2="87.21" y2="22.88" stroke="#000000" stroke-width="1.0"/>
<polygon points="85.01,16.61 88.31,22.61 81.71,22.61" fill="#000000" stroke="#000000" stroke-width="0.4"/>
<line x1="102.01" y1="21.08" x2="102.01" y2="26.72" stroke="#000000" stroke-width="1.0"/>
<line x1="99.81" y1="21.08" x2="104.21" y2="21.08" stroke="#000000" stroke-width="1.0"/>
<line x1="99.81" y1="26.72" x2="104.21" y2="26.72" stroke="#000000" stroke-width="1.0"/>
<polygon points="102.01,20.45 105.31,26.45 98.71,26.45" fill="#000000" stroke="#000000" stroke-width="0.4"/>
<line x1="120.03" y1="33.88" x2="120.03" y2="39.52" stroke="#000000" stroke-width="1.0"/>
<line x1="117.83" y1="33.88" x2="122.23" y2="33.88" stroke="#000000" stroke-width="1.0"/>
<line x1="117.83" y1="39.52" x2="122.23" y2="39.52" stroke="#000000" stroke-width="1.0"/>
<polygon points="120.03,33.25 123.33,39.25 116.73,39.25" fill="#000000" stroke="#000000" stroke-width="0.4"/>
<line x1="139.50" y1="45.92" x2="139.50" y2="51.55" stroke="#000000" stroke-width="1.0"/>
<line x1="137.30" y1="45.92" x2="141.69" y2="45.92" stroke="#000000" stroke-width="1.0"/>
<line x1="137.30" y1="51.55" x2="141.69" y2="51.55" stroke="#000000" stroke-width="1.0"/>
<polygon points="139.50,45.28 142.80,51.28 136.19,51.28" fill="#000000" stroke="#000000" stroke-width="0.4"/>
<line x1="156.50" y1="62.68" x2="156.50" y2="68.32" stroke="#000000" stroke-width="1.0"/>
<line x1="154.30" y1="62.68" x2="158.69" y2="62.68" stroke="#000000" stroke-width="1.0"/>
<line x1="154.30" y1="68.32" x2="158.69" y2="68.32" stroke="#000000" stroke-width="1.0"/>
<polygon points="156.50,62.05 159.80,68.05 153.19,68.05" fill="#000000" stroke="#000000" stroke-width="0.4"/>
<line x1="174.00" y1="116.32" x2="174.00" y2="121.95" stroke="#000000" stroke-width="1.0"/>
<line x1="171.81" y1="116.32" x2="176.20" y2="116.32" stroke="#000000" stroke-width="1.0"/>
<line x1="171.81" y1="121.95" x2="176.20" y2="121.95" stroke="#000000" stroke-width="1.0"/>
<polygon points="174.00,115.68 177.31,121.68 170.70,121.68" fill="#000000" stroke="#000000" stroke-width="0.4"/>
<line x1="191.00" y1="139.36" x2="191.00" y2="141.40" stroke="#000000" stroke-width="1.0"/>
<line x1="188.81" y1="139.36" x2="193.20" y2="139.36" stroke="#000000" stroke-width="1.0"/>
<line x1="188.81" y1="141.40" x2="193.20" y2="141.40" stroke="#000000" stroke-width="1.0"/>
<polygon points="191.00,136.93 194.31,142.93 187.70,142.93" fill="#000000" stroke="#000000" stroke-width="0.4"/>
<line x1="207.75" y1="141.28" x2="207.75" y2="143.32" stroke="#000000" stroke-width="1.0"/>
<line x1="205.55" y1="141.28" x2="209.95" y2="141.28" stroke="#000000" stroke-width="1.0"/>
<line x1="205.55" y1="143.32" x2="209.95" y2="143.32" stroke="#000000" stroke-width="1.0"/>
<polygon points="207.75,138.85 211.05,144.85 204.45,144.85" fill="#000000" stroke="#000000" stroke-width="0.4"/>
<line x1="224.58" y1="141.92" x2="224.58" y2="143.96" stroke="#000000" stroke-width="1.0"/>
<line x1="222.38" y1="141.92" x2="226.78" y2="141.92" stroke="#000000" stroke-width="1.0"/>
<line x1="222.38" y1="143.96" x2="226.78" y2="143.96" stroke="#000000" stroke-width="1.0"/>
<polygon points="224.58,139.49 227.88,145.49 221.28,145.49" fill="#000000" stroke="#000000" stroke-width="0.4"/>
<line x1="85.01" y1="22.36" x2="85.01" y2="28.00" stroke="#0c3fe6" stroke-width="1.0"/>
<line x1="82.81" y1="22.36" x2="87.21" y2="22.36" stroke="#0c3fe6" stroke-width="1.0"/>
<line x1="82.81" y1="28.00" x2="87.21" y2="28.00" stroke="#0c3fe6" stroke-width="1.0"/>
<rect x="82.01" y="22.18" width="6.00" height="6.00" fill="#0c3fe6" stroke="#0c3fe6" stroke-width="0"/>
<line x1="102.01" y1="30.04" x2="102.01" y2="35.68" stroke="#0c3fe6" stroke-width="1.0"/>
<line x1="99.81" y1="30.04" x2="104.21" y2="30.04" stroke="#0c3fe6" stroke-width="1.0"/>
<line x1="99.81" y1="35.68" x2="104.21" y2="35.68" stroke="#0c3fe6" stroke-width="1.0"/>
<rect x="99.01" y="29.86" width="6.00" height="6.00" fill="#0c3fe6" stroke="#0c3fe6" stroke-width="0"/>
<line x1="120.03" y1="44.12" x2="120.03" y2="49.76" stroke="#0c3fe6" stroke-width="1.0"/>
<line x1="117.83" y1="44.12" x2="122.23" y2="44.12" stroke="#0c3fe6" stroke-width="1.0"/>
<line x1="117.83" y1="49.76" x2="122.23" y2="49.76" stroke="#0c3fe6" stroke-width="1.0"/>
<rect x="117.03" y="43.94" width="6.00" height="6.00" fill="#0c3fe6" stroke="#0c3fe6" stroke-width="0"/>
<line x1="139.50" y1="62.68" x2="139.50" y2="68.32" stroke="#0c3fe6" stroke-width="1.0"/>
<line x1="137.30" y1="62.68" x2="141.69" y2="62.68" stroke="#0c3fe6" stroke-width="1.0"/>
<line x1="137.30" y1="68.32" x2="141.69" y2="68.32" stroke="#0c3fe6" stroke-width="1.0"/>
<rect x="136.50" y="62.50" width="6.00" height="6.00" fill="#0c3fe6" stroke="#0c3fe6" stroke-width="0"/>
<line x1="156.50" y1="88.28" x2="156.50" y2="93.92" stroke="#0c3fe6" stroke-width="1.0"/>
<line x1="154.30" y1="88.28" x2="158.69" y2="88.28" stroke="#0c3fe6" stroke-width="1.0"/>
<line x1="154.30" y1="93.92" x2="158.69" y2="93.92" stroke="#0c3fe6" stroke-width="1.0"/>
<rect x="153.50" y="88.10" width="6.00" height="6.00" fill="#0c3fe6" stroke="#0c3fe6" stroke-width="0"/>
<line x1="174.00" y1="115.80" x2="174.00" y2="121.44" stroke="#0c3fe6" stroke-width="1.0"/>
<line x1="171.81" y1="115.80" x2="176.20" y2="115.80" stroke="#0c3fe6" stroke-width="1.0"/>
<line x1="171.81" y1="121.44" x2="176.20" y2="121.44" stroke="#0c3fe6" stroke-width="1.0"/>
<rect x="171.00" y="115.62" width="6.00" height="6.00" fill="#0c3fe6" stroke="#0c3fe6" stroke-width="0"/>
<line x1="191.00" y1="127.84" x2="191.00" y2="129.88" stroke="#0c3fe6" stroke-width="1.0"/>
<line x1="188.81" y1="127.84" x2="193.20" y2="127.84" stroke="#0c3fe6" stroke-width="1.0"/>
<line x1="188.81" y1="129.88" x2="193.20" y2="129.88" stroke="#0c3fe6" stroke-width="1.0"/>
<rect x="188.00" y="125.86" width="6.00" height="6.00" fill="#0c3fe6" stroke="#0c3fe6" stroke-width="0"/>
<line x1="207.75" y1="133.60" x2="207.75" y2="135.64" stroke="#0c3fe6" stroke-width="1.0"/>
<line x1="205.55" y1="133.60" x2="209.95" y2="133.60" stroke="#0c3fe6" stroke-width="1.0"/>
<line x1="205.55" y1="135.64" x2="209.95" y2="135.64" stroke="#0c3fe6" stroke-width="1.0"/>
<rect x="204.75" y="131.62" width="6.00" height="6.00" fill="#0c3fe6" stroke="#0c3fe6" stroke-width="0"/>
<line x1="224.58" y1="135.52" x2="224.58" y2="137.56" stroke="#0c3fe6" stroke-width="1.0"/>
<line x1="222.38" y1="135.52" x2="226.78" y2="135.52" stroke="#0c3fe6" stroke-width="1.0"/>
<line x1="222.38" y1="137.56" x2="226.78" y2="137.56" stroke="#0c3fe6" stroke-width="1.0"/>
<rect x="221.58" y="133.54" width="6.00" height="6.00" fill="#0c3fe6" stroke="#0c3fe6" stroke-width="0"/>
<line x1="85.01" y1="22.36" x2="85.01" y2="28.00" stroke="#5a8c1c" stroke-width="1.0"/>
<line x1="82.81" y1="22.36" x2="87.21" y2="22.36" stroke="#5a8c1c" stroke-width="1.0"/>
<line x1="82.81" y1="28.00" x2="87.21" y2="28.00" stroke="#5a8c1c" stroke-width="1.0"/>
<circle cx="85.01" cy="25.18" r="3.00" fill="#5a8c1c"/>
<line x1="102.01" y1="31.32" x2="102.01" y2="36.96" stroke="#5a8c1c" stroke-width="1.0"/>
<line x1="99.81" y1="31.32" x2="104.21" y2="31.32" stroke="#5a8c1c" stroke-width="1.0"/>
<line x1="99.81" y1="36.96" x2="104.21" y2="36.96" stroke="#5a8c1c" stroke-width="1.0"/>
<circle cx="102.01" cy="34.14" r="3.00" fill="#5a8c1c"/>
<line x1="120.03" y1="49.24" x2="120.03" y2="54.88" stroke="#5a8c1c" stroke-width="1.0"/>
<line x1="117.83" y1="49.24" x2="122.23" y2="49.24" stroke="#5a8c1c" stroke-width="1.0"/>
<line x1="117.83" y1="54.88" x2="122.23" y2="54.88" stroke="#5a8c1c" stroke-width="1.0"/>
<circle cx="120.03" cy="52.06" r="3.00" fill="#5a8c1c"/>
<line x1="139.50" y1="73.56" x2="139.50" y2="79.20" stroke="#5a8c1c" stroke-width="1.0"/>
<line x1="137.30" y1="73.56" x2="141.69" y2="73.56" stroke="#5a8c1c" stroke-width="1.0"/>
<line x1="137.30" y1="79.20" x2="141.69" y2="79.20" stroke="#5a8c1c" stroke-width="1.0"/>
<circle cx="139.50" cy="76.38" r="3.00" fill="#5a8c1c"/>
<line x1="156.50" y1="137.56" x2="156.50" y2="139.61" stroke="#5a8c1c" stroke-width="1.0"/>
<line x1="154.30" y1="137.56" x2="158.69" y2="137.56" stroke="#5a8c1c" stroke-width="1.0"/>
<line x1="154.30" y1="139.61" x2="158.69" y2="139.61" stroke="#5a8c1c" stroke-width="1.0"/>
<circle cx="156.50" cy="138.59" r="3.00" fill="#5a8c1c"/>
<line x1="174.00" y1="141.92" x2="174.00" y2="143.96" stroke="#5a8c1c" stroke-width="1.0"/>
<line x1="171.81" y1="141.92" x2="176.20" y2="141.92" stroke="#5a8c1c" stroke-width="1.0"/>
<line x1="171.81" y1="143.96" x2="176.20" y2="143.96" stroke="#5a8c1c" stroke-width="1.0"/>
<circle cx="174.00" cy="142.94" r="3.00" fill="#5a8c1c"/>
<line x1="191.00" y1="141.92" x2="191.00" y2="143.96" stroke="#5a8c1c" stroke-width="1.0"/>
<line x1="188.81" y1="141.92" x2="193.20" y2="141.92" stroke="#5a8c1c" stroke-width="1.0"/>
<line x1="188.81" y1="143.96" x2="193.20" y2="143.96" stroke="#5a8c1c" stroke-width="1.0"/>
<circle cx="191.00" cy="142.94" r="3.00" fill="#5a8c1c"/>
<line x1="207.75" y1="141.92" x2="207.75" y2="143.96" stroke="#5a8c1c" stroke-width="1.0"/>
<line x1="205.55" y1="141.92" x2="209.95" y2="141.92" stroke="#5a8c1c" stroke-width="1.0"/>
<line x1="205.55" y1="143.96" x2="209.95" y2="143.96" stroke="#5a8c1c" stroke-width="1.0"/>
<circle cx="207.75" cy="142.94" r="3.00" fill="#5a8c1c"/>
<line x1="224.58" y1="141.92" x2="224.58" y2="143.96" stroke="#5a8c1c" stroke-width="1.0"/>
<line x1="222.38" y1="141.92" x2="226.78" y2="141.92" stroke="#5a8c1c" stroke-width="1.0"/>
<line x1="222.38" y1="143.96" x2="226.78" y2="143.96" stroke="#5a8c1c" stroke-width="1.0"/>
<circle cx="224.58" cy="142.94" r="3.00" fill="#5a8c1c"/>
<line x1="118.50" y1="16.38" x2="118.50" y2="21.18" stroke="#f5a21e" stroke-width="1.0"/>
<line x1="116.30" y1="16.38" x2="120.70" y2="16.38" stroke="#f5a21e" stroke-width="1.0"/>
<line x1="116.30" y1="21.18" x2="120.70" y2="21.18" stroke="#f5a21e" stroke-width="1.0"/>
<polygon points="118.50,15.30 121.98,18.78 118.50,22.26 115.02,18.78" fill="#fff0d4" stroke="#f5a21e" stroke-width="1.1"/>
<line x1="132.95" y1="29.18" x2="132.95" y2="33.98" stroke="#f5a21e" stroke-width="1.0"/>
<line x1="130.75" y1="29.18" x2="135.15" y2="29.18" stroke="#f5a21e" stroke-width="1.0"/>
<line x1="130.75" y1="33.98" x2="135.15" y2="33.98" stroke="#f5a21e" stroke-width="1.0"/>
<polygon points="132.95,28.10 136.43,31.58 132.95,35.06 129.47,31.58" fill="#fff0d4" stroke="#f5a21e" stroke-width="1.1"/>
<line x1="146.55" y1="18.94" x2="146.55" y2="23.74" stroke="#f5a21e" stroke-width="1.0"/>
<line x1="144.35" y1="18.94" x2="148.75" y2="18.94" stroke="#f5a21e" stroke-width="1.0"/>
<line x1="144.35" y1="23.74" x2="148.75" y2="23.74" stroke="#f5a21e" stroke-width="1.0"/>
<polygon points="146.55,17.86 150.03,21.34 146.55,24.82 143.07,21.34" fill="#fff0d4" stroke="#f5a21e" stroke-width="1.1"/>
<line x1="161.00" y1="25.34" x2="161.00" y2="30.14" stroke="#f5a21e" stroke-width="1.0"/>
<line x1="158.80" y1="25.34" x2="163.20" y2="25.34" stroke="#f5a21e" stroke-width="1.0"/>
<line x1="158.80" y1="30.14" x2="163.20" y2="30.14" stroke="#f5a21e" stroke-width="1.0"/>
<polygon points="161.00,24.26 164.48,27.74 161.00,31.22 157.52,27.74" fill="#fff0d4" stroke="#f5a21e" stroke-width="1.1"/>
<line x1="174.60" y1="16.38" x2="174.60" y2="21.18" stroke="#f5a21e" stroke-width="1.0"/>
<line x1="172.40" y1="16.38" x2="176.80" y2="16.38" stroke="#f5a21e" stroke-width="1.0"/>
<line x1="172.40" y1="21.18" x2="176.80" y2="21.18" stroke="#f5a21e" stroke-width="1.0"/>
<polygon points="174.60,15.30 178.08,18.78 174.60,22.26 171.12,18.78" fill="#fff0d4" stroke="#f5a21e" stroke-width="1.1"/>
<line x1="187.35" y1="46.33" x2="187.35" y2="51.13" stroke="#f5a21e" stroke-width="1.0"/>
<line x1="185.15" y1="46.33" x2="189.55" y2="46.33" stroke="#f5a21e" stroke-width="1.0"/>
<line x1="185.15" y1="51.13" x2="189.55" y2="51.13" stroke="#f5a21e" stroke-width="1.0"/>
<polygon points="187.35,45.25 190.83,48.73 187.35,52.21 183.87,48.73" fill="#fff0d4" stroke="#f5a21e" stroke-width="1.1"/>
<line x1="200.95" y1="96.38" x2="200.95" y2="101.18" stroke="#f5a21e" stroke-width="1.0"/>
<line x1="198.75" y1="96.38" x2="203.15" y2="96.38" stroke="#f5a21e" stroke-width="1.0"/>
<line x1="198.75" y1="101.18" x2="203.15" y2="101.18" stroke="#f5a21e" stroke-width="1.0"/>
<polygon points="200.95,95.30 204.43,98.78 200.95,102.26 197.47,98.78" fill="#fff0d4" stroke="#f5a21e" stroke-width="1.1"/>
<line x1="214.98" y1="118.40" x2="214.98" y2="123.20" stroke="#f5a21e" stroke-width="1.0"/>
<line x1="212.78" y1="118.40" x2="217.18" y2="118.40" stroke="#f5a21e" stroke-width="1.0"/>
<line x1="212.78" y1="123.20" x2="217.18" y2="123.20" stroke="#f5a21e" stroke-width="1.0"/>
<polygon points="214.98,117.32 218.46,120.80 214.98,124.28 211.50,120.80" fill="#fff0d4" stroke="#f5a21e" stroke-width="1.1"/>
<line x1="229.00" y1="116.86" x2="229.00" y2="121.66" stroke="#f5a21e" stroke-width="1.0"/>
<line x1="226.80" y1="116.86" x2="231.20" y2="116.86" stroke="#f5a21e" stroke-width="1.0"/>
<line x1="226.80" y1="121.66" x2="231.20" y2="121.66" stroke="#f5a21e" stroke-width="1.0"/>
<polygon points="229.00,115.78 232.48,119.26 229.00,122.74 225.52,119.26" fill="#fff0d4" stroke="#f5a21e" stroke-width="1.1"/>
<line x1="146.55" y1="15.38" x2="146.55" y2="22.18" stroke="#8a1212" stroke-width="1.0"/>
<line x1="143.95" y1="15.38" x2="149.15" y2="15.38" stroke="#8a1212" stroke-width="1.0"/>
<line x1="143.95" y1="22.18" x2="149.15" y2="22.18" stroke="#8a1212" stroke-width="1.0"/>
<polygon points="146.55,16.14 149.19,18.78 146.55,21.42 143.91,18.78" fill="#8a1212" stroke="#8a1212" stroke-width="0.3"/>
<line x1="161.00" y1="19.22" x2="161.00" y2="26.02" stroke="#8a1212" stroke-width="1.0"/>
<line x1="158.40" y1="19.22" x2="163.60" y2="19.22" stroke="#8a1212" stroke-width="1.0"/>
<line x1="158.40" y1="26.02" x2="163.60" y2="26.02" stroke="#8a1212" stroke-width="1.0"/>
<polygon points="161.00,19.98 163.64,22.62 161.00,25.26 158.36,22.62" fill="#8a1212" stroke="#8a1212" stroke-width="0.3"/>
<line x1="174.60" y1="23.06" x2="174.60" y2="29.86" stroke="#8a1212" stroke-width="1.0"/>
<line x1="172.00" y1="23.06" x2="177.20" y2="23.06" stroke="#8a1212" stroke-width="1.0"/>
<line x1="172.00" y1="29.86" x2="177.20" y2="29.86" stroke="#8a1212" stroke-width="1.0"/>
<polygon points="174.60,23.82 177.24,26.46 174.60,29.10 171.96,26.46" fill="#8a1212" stroke="#8a1212" stroke-width="0.3"/>
<line x1="187.35" y1="28.18" x2="187.35" y2="34.98" stroke="#8a1212" stroke-width="1.0"/>
<line x1="184.75" y1="28.18" x2="189.95" y2="28.18" stroke="#8a1212" stroke-width="1.0"/>
<line x1="184.75" y1="34.98" x2="189.95" y2="34.98" stroke="#8a1212" stroke-width="1.0"/>
<polygon points="187.35,28.94 189.99,31.58 187.35,34.22 184.71,31.58" fill="#8a1212" stroke="#8a1212" stroke-width="0.3"/>
<line x1="200.95" y1="35.86" x2="200.95" y2="42.66" stroke="#8a1212" stroke-width="1.0"/>
<line x1="198.35" y1="35.86" x2="203.55" y2="35.86" stroke="#8a1212" stroke-width="1.0"/>
<line x1="198.35" y1="42.66" x2="203.55" y2="42.66" stroke="#8a1212" stroke-width="1.0"/>
<polygon points="200.95,36.62 203.59,39.26 200.95,41.90 198.31,39.26" fill="#8a1212" stroke="#8a1212" stroke-width="0.3"/>
<line x1="214.98" y1="39.70" x2="214.98" y2="46.50" stroke="#8a1212" stroke-width="1.0"/>
<line x1="212.38" y1="39.70" x2="217.58" y2="39.70" stroke="#8a1212" stroke-width="1.0"/>
<line x1="212.38" y1="46.50" x2="217.58" y2="46.50" stroke="#8a1212" stroke-width="1.0"/>
<polygon points="214.98,40.46 217.62,43.10 214.98,45.74 212.34,43.10" fill="#8a1212" stroke="#8a1212" stroke-width="0.3"/>
<line x1="229.00" y1="43.54" x2="229.00" y2="50.34" stroke="#8a1212" stroke-width="1.0"/>
<line x1="226.40" y1="43.54" x2="231.60" y2="43.54" stroke="#8a1212" stroke-width="1.0"/>
<line x1="226.40" y1="50.34" x2="231.60" y2="50.34" stroke="#8a1212" stroke-width="1.0"/>
<polygon points="229.00,44.30 231.64,46.94 229.00,49.58 226.36,46.94" fill="#8a1212" stroke="#8a1212" stroke-width="0.3"/>
<line x1="118.50" y1="19.02" x2="118.50" y2="26.22" stroke="#e8301e" stroke-width="1.0"/>
<line x1="115.90" y1="19.02" x2="121.10" y2="19.02" stroke="#e8301e" stroke-width="1.0"/>
<line x1="115.90" y1="26.22" x2="121.10" y2="26.22" stroke="#e8301e" stroke-width="1.0"/>
<circle cx="118.50" cy="22.62" r="2.90" fill="#fde4e0" stroke="#e8301e" stroke-width="1.3"/>
<line x1="129.55" y1="17.74" x2="129.55" y2="24.94" stroke="#e8301e" stroke-width="1.0"/>
<line x1="126.95" y1="17.74" x2="132.15" y2="17.74" stroke="#e8301e" stroke-width="1.0"/>
<line x1="126.95" y1="24.94" x2="132.15" y2="24.94" stroke="#e8301e" stroke-width="1.0"/>
<circle cx="129.55" cy="21.34" r="2.90" fill="#fde4e0" stroke="#e8301e" stroke-width="1.3"/>
<line x1="138.05" y1="20.30" x2="138.05" y2="27.50" stroke="#e8301e" stroke-width="1.0"/>
<line x1="135.45" y1="20.30" x2="140.65" y2="20.30" stroke="#e8301e" stroke-width="1.0"/>
<line x1="135.45" y1="27.50" x2="140.65" y2="27.50" stroke="#e8301e" stroke-width="1.0"/>
<circle cx="138.05" cy="23.90" r="2.90" fill="#fde4e0" stroke="#e8301e" stroke-width="1.3"/>
<line x1="146.55" y1="23.50" x2="146.55" y2="30.70" stroke="#e8301e" stroke-width="1.0"/>
<line x1="143.95" y1="23.50" x2="149.15" y2="23.50" stroke="#e8301e" stroke-width="1.0"/>
<line x1="143.95" y1="30.70" x2="149.15" y2="30.70" stroke="#e8301e" stroke-width="1.0"/>
<circle cx="146.55" cy="27.10" r="2.90" fill="#fde4e0" stroke="#e8301e" stroke-width="1.3"/>
<line x1="156.75" y1="25.42" x2="156.75" y2="32.62" stroke="#e8301e" stroke-width="1.0"/>
<line x1="154.15" y1="25.42" x2="159.35" y2="25.42" stroke="#e8301e" stroke-width="1.0"/>
<line x1="154.15" y1="32.62" x2="159.35" y2="32.62" stroke="#e8301e" stroke-width="1.0"/>
<circle cx="156.75" cy="29.02" r="2.90" fill="#fde4e0" stroke="#e8301e" stroke-width="1.3"/>
<line x1="174.60" y1="27.98" x2="174.60" y2="35.18" stroke="#e8301e" stroke-width="1.0"/>
<line x1="172.00" y1="27.98" x2="177.20" y2="27.98" stroke="#e8301e" stroke-width="1.0"/>
<line x1="172.00" y1="35.18" x2="177.20" y2="35.18" stroke="#e8301e" stroke-width="1.0"/>
<circle cx="174.60" cy="31.58" r="2.90" fill="#fde4e0" stroke="#e8301e" stroke-width="1.3"/>
<line x1="187.35" y1="32.46" x2="187.35" y2="39.66" stroke="#e8301e" stroke-width="1.0"/>
<line x1="184.75" y1="32.46" x2="189.95" y2="32.46" stroke="#e8301e" stroke-width="1.0"/>
<line x1="184.75" y1="39.66" x2="189.95" y2="39.66" stroke="#e8301e" stroke-width="1.0"/>
<circle cx="187.35" cy="36.06" r="2.90" fill="#fde4e0" stroke="#e8301e" stroke-width="1.3"/>
<line x1="200.95" y1="36.94" x2="200.95" y2="44.14" stroke="#e8301e" stroke-width="1.0"/>
<line x1="198.35" y1="36.94" x2="203.55" y2="36.94" stroke="#e8301e" stroke-width="1.0"/>
<line x1="198.35" y1="44.14" x2="203.55" y2="44.14" stroke="#e8301e" stroke-width="1.0"/>
<circle cx="200.95" cy="40.54" r="2.90" fill="#fde4e0" stroke="#e8301e" stroke-width="1.3"/>
<line x1="214.98" y1="40.78" x2="214.98" y2="47.98" stroke="#e8301e" stroke-width="1.0"/>
<line x1="212.38" y1="40.78" x2="217.58" y2="40.78" stroke="#e8301e" stroke-width="1.0"/>
<line x1="212.38" y1="47.98" x2="217.58" y2="47.98" stroke="#e8301e" stroke-width="1.0"/>
<circle cx="214.98" cy="44.38" r="2.90" fill="#fde4e0" stroke="#e8301e" stroke-width="1.3"/>
<line x1="229.00" y1="53.58" x2="229.00" y2="60.78" stroke="#e8301e" stroke-width="1.0"/>
<line x1="226.40" y1="53.58" x2="231.60" y2="53.58" stroke="#e8301e" stroke-width="1.0"/>
<line x1="226.40" y1="60.78" x2="231.60" y2="60.78" stroke="#e8301e" stroke-width="1.0"/>
<circle cx="229.00" cy="57.18" r="2.90" fill="#fde4e0" stroke="#e8301e" stroke-width="1.3"/>
<line x1="42.00" y1="4.50" x2="42.00" y2="146.10" stroke="#000" stroke-width="1.4"/>
<line x1="41.40" y1="145.50" x2="255.10" y2="145.50" stroke="#000" stroke-width="1.4"/>
<line x1="38.80" y1="145.50" x2="42.00" y2="145.50" stroke="#000" stroke-width="1.3"/>
<text x="38.60" y="148.85" font-size="9.4" text-anchor="end" font-weight="bold" stroke="#000" stroke-width="0.39" fill="#000">0</text>
<line x1="38.80" y1="113.50" x2="42.00" y2="113.50" stroke="#000" stroke-width="1.3"/>
<text x="38.60" y="116.85" font-size="9.4" text-anchor="end" font-weight="bold" stroke="#000" stroke-width="0.39" fill="#000">25</text>
<line x1="38.80" y1="81.50" x2="42.00" y2="81.50" stroke="#000" stroke-width="1.3"/>
<text x="38.60" y="84.85" font-size="9.4" text-anchor="end" font-weight="bold" stroke="#000" stroke-width="0.39" fill="#000">50</text>
<line x1="38.80" y1="49.50" x2="42.00" y2="49.50" stroke="#000" stroke-width="1.3"/>
<text x="38.60" y="52.85" font-size="9.4" text-anchor="end" font-weight="bold" stroke="#000" stroke-width="0.39" fill="#000">75</text>
<line x1="38.80" y1="17.50" x2="42.00" y2="17.50" stroke="#000" stroke-width="1.3"/>
<text x="38.60" y="20.85" font-size="9.4" text-anchor="end" font-weight="bold" stroke="#000" stroke-width="0.39" fill="#000">100</text>
<line x1="42.00" y1="145.50" x2="42.00" y2="148.90" stroke="#000" stroke-width="1.3"/>
<text x="42.00" y="158.50" font-size="9.4" text-anchor="middle" font-weight="bold" stroke="#000" stroke-width="0.39" fill="#000">-1.5</text>
<line x1="84.50" y1="145.50" x2="84.50" y2="148.90" stroke="#000" stroke-width="1.3"/>
<text x="84.50" y="158.50" font-size="9.4" text-anchor="middle" font-weight="bold" stroke="#000" stroke-width="0.39" fill="#000">-1.0</text>
<line x1="127.00" y1="145.50" x2="127.00" y2="148.90" stroke="#000" stroke-width="1.3"/>
<text x="127.00" y="158.50" font-size="9.4" text-anchor="middle" font-weight="bold" stroke="#000" stroke-width="0.39" fill="#000">-0.5</text>
<line x1="169.50" y1="145.50" x2="169.50" y2="148.90" stroke="#000" stroke-width="1.3"/>
<text x="169.50" y="158.50" font-size="9.4" text-anchor="middle" font-weight="bold" stroke="#000" stroke-width="0.39" fill="#000">0.0</text>
<line x1="212.00" y1="145.50" x2="212.00" y2="148.90" stroke="#000" stroke-width="1.3"/>
<text x="212.00" y="158.50" font-size="9.4" text-anchor="middle" font-weight="bold" stroke="#000" stroke-width="0.39" fill="#000">0.5</text>
<line x1="254.50" y1="145.50" x2="254.50" y2="148.90" stroke="#000" stroke-width="1.3"/>
<text x="254.50" y="158.50" font-size="9.4" text-anchor="middle" font-weight="bold" stroke="#000" stroke-width="0.39" fill="#000">1.0</text>
<line x1="54.79" y1="145.50" x2="54.79" y2="147.40" stroke="#000" stroke-width="0.8"/>
<line x1="62.28" y1="145.50" x2="62.28" y2="147.40" stroke="#000" stroke-width="0.8"/>
<line x1="67.59" y1="145.50" x2="67.59" y2="147.40" stroke="#000" stroke-width="0.8"/>
<line x1="71.71" y1="145.50" x2="71.71" y2="147.40" stroke="#000" stroke-width="0.8"/>
<line x1="75.07" y1="145.50" x2="75.07" y2="147.40" stroke="#000" stroke-width="0.8"/>
<line x1="77.92" y1="145.50" x2="77.92" y2="147.40" stroke="#000" stroke-width="0.8"/>
<line x1="80.38" y1="145.50" x2="80.38" y2="147.40" stroke="#000" stroke-width="0.8"/>
<line x1="82.56" y1="145.50" x2="82.56" y2="147.40" stroke="#000" stroke-width="0.8"/>
<line x1="97.29" y1="145.50" x2="97.29" y2="147.40" stroke="#000" stroke-width="0.8"/>
<line x1="104.78" y1="145.50" x2="104.78" y2="147.40" stroke="#000" stroke-width="0.8"/>
<line x1="110.09" y1="145.50" x2="110.09" y2="147.40" stroke="#000" stroke-width="0.8"/>
<line x1="114.21" y1="145.50" x2="114.21" y2="147.40" stroke="#000" stroke-width="0.8"/>
<line x1="117.57" y1="145.50" x2="117.57" y2="147.40" stroke="#000" stroke-width="0.8"/>
<line x1="120.42" y1="145.50" x2="120.42" y2="147.40" stroke="#000" stroke-width="0.8"/>
<line x1="122.88" y1="145.50" x2="122.88" y2="147.40" stroke="#000" stroke-width="0.8"/>
<line x1="125.06" y1="145.50" x2="125.06" y2="147.40" stroke="#000" stroke-width="0.8"/>
<line x1="139.79" y1="145.50" x2="139.79" y2="147.40" stroke="#000" stroke-width="0.8"/>
<line x1="147.28" y1="145.50" x2="147.28" y2="147.40" stroke="#000" stroke-width="0.8"/>
<line x1="152.59" y1="145.50" x2="152.59" y2="147.40" stroke="#000" stroke-width="0.8"/>
<line x1="156.71" y1="145.50" x2="156.71" y2="147.40" stroke="#000" stroke-width="0.8"/>
<line x1="160.07" y1="145.50" x2="160.07" y2="147.40" stroke="#000" stroke-width="0.8"/>
<line x1="162.92" y1="145.50" x2="162.92" y2="147.40" stroke="#000" stroke-width="0.8"/>
<line x1="165.38" y1="145.50" x2="165.38" y2="147.40" stroke="#000" stroke-width="0.8"/>
<line x1="167.56" y1="145.50" x2="167.56" y2="147.40" stroke="#000" stroke-width="0.8"/>
<line x1="182.29" y1="145.50" x2="182.29" y2="147.40" stroke="#000" stroke-width="0.8"/>
<line x1="189.78" y1="145.50" x2="189.78" y2="147.40" stroke="#000" stroke-width="0.8"/>
<line x1="195.09" y1="145.50" x2="195.09" y2="147.40" stroke="#000" stroke-width="0.8"/>
<line x1="199.21" y1="145.50" x2="199.21" y2="147.40" stroke="#000" stroke-width="0.8"/>
<line x1="202.57" y1="145.50" x2="202.57" y2="147.40" stroke="#000" stroke-width="0.8"/>
<line x1="205.42" y1="145.50" x2="205.42" y2="147.40" stroke="#000" stroke-width="0.8"/>
<line x1="207.88" y1="145.50" x2="207.88" y2="147.40" stroke="#000" stroke-width="0.8"/>
<line x1="210.06" y1="145.50" x2="210.06" y2="147.40" stroke="#000" stroke-width="0.8"/>
<line x1="224.79" y1="145.50" x2="224.79" y2="147.40" stroke="#000" stroke-width="0.8"/>
<line x1="232.28" y1="145.50" x2="232.28" y2="147.40" stroke="#000" stroke-width="0.8"/>
<line x1="237.59" y1="145.50" x2="237.59" y2="147.40" stroke="#000" stroke-width="0.8"/>
<line x1="241.71" y1="145.50" x2="241.71" y2="147.40" stroke="#000" stroke-width="0.8"/>
<line x1="245.07" y1="145.50" x2="245.07" y2="147.40" stroke="#000" stroke-width="0.8"/>
<line x1="247.92" y1="145.50" x2="247.92" y2="147.40" stroke="#000" stroke-width="0.8"/>
<line x1="250.38" y1="145.50" x2="250.38" y2="147.40" stroke="#000" stroke-width="0.8"/>
<line x1="252.56" y1="145.50" x2="252.56" y2="147.40" stroke="#000" stroke-width="0.8"/>
<text x="15.70" y="74.20" font-size="10.8" text-anchor="middle" font-weight="bold" stroke="#000" stroke-width="0.40" transform="rotate(-90 15.70 74.20)" fill="#000">% Cell viability</text>
<text x="143.50" y="173.60" font-size="10.7" text-anchor="middle" font-weight="bold" stroke="#000" stroke-width="0.40" fill="#000">Log (Napabucasin) μmol/L</text>
<line x1="256.00" y1="25.50" x2="267.00" y2="25.50" stroke="#5a8c1c" stroke-width="1.4"/>
<circle cx="261.50" cy="25.50" r="2.60" fill="#5a8c1c"/>
<text x="272.00" y="28.50" font-size="8.5" text-anchor="start" stroke="#000" stroke-width="0.26" fill="#000">hF2-2D</text>
<line x1="256.00" y1="37.70" x2="267.00" y2="37.70" stroke="#2fe22f" stroke-width="1.4"/>
<polygon points="261.50,40.69 264.36,35.49 258.64,35.49" fill="#2fe22f" stroke="#2fe22f" stroke-width="0.4"/>
<text x="272.00" y="40.70" font-size="8.5" text-anchor="start" stroke="#000" stroke-width="0.26" fill="#000">MiaPaCa2</text>
<line x1="256.00" y1="50.00" x2="267.00" y2="50.00" stroke="#0c3fe6" stroke-width="1.4"/>
<rect x="258.90" y="47.40" width="5.20" height="5.20" fill="#0c3fe6" stroke="#0c3fe6" stroke-width="0"/>
<text x="272.00" y="53.00" font-size="8.5" text-anchor="start" stroke="#000" stroke-width="0.26" fill="#000">hF3-2D</text>
<line x1="256.00" y1="62.30" x2="267.00" y2="62.30" stroke="#8f8f8f" stroke-width="1.4"/>
<polygon points="261.50,59.31 264.36,64.51 258.64,64.51" fill="#e4e8f4" stroke="#8f8f8f" stroke-width="1.1"/>
<text x="272.00" y="65.30" font-size="8.5" text-anchor="start" stroke="#000" stroke-width="0.26" fill="#000">hM1F-2D</text>
<line x1="256.00" y1="74.50" x2="267.00" y2="74.50" stroke="#000000" stroke-width="1.4"/>
<polygon points="261.50,71.51 264.36,76.71 258.64,76.71" fill="#000000" stroke="#000000" stroke-width="0.4"/>
<text x="272.00" y="77.50" font-size="8.5" text-anchor="start" stroke="#000" stroke-width="0.26" fill="#000">hT1-2D</text>
<line x1="256.00" y1="88.50" x2="267.00" y2="88.50" stroke="#5a1fa0" stroke-width="1.4"/>
<rect x="258.90" y="85.90" width="5.20" height="5.20" fill="#efe6fa" stroke="#5a1fa0" stroke-width="1.2"/>
<text x="272.00" y="91.50" font-size="8.5" text-anchor="start" stroke="#000" stroke-width="0.26" fill="#000">hM1A-2D</text>
<line x1="256.00" y1="100.50" x2="267.00" y2="100.50" stroke="#f78cc6" stroke-width="1.4"/>
<polygon points="261.50,103.49 264.36,98.29 258.64,98.29" fill="#fde0f0" stroke="#f78cc6" stroke-width="1.1"/>
<text x="272.00" y="103.50" font-size="8.5" text-anchor="start" stroke="#000" stroke-width="0.26" fill="#000">hM6-2D</text>
<line x1="256.00" y1="113.30" x2="267.00" y2="113.30" stroke="#f5a21e" stroke-width="1.4"/>
<polygon points="261.50,110.18 264.62,113.30 261.50,116.42 258.38,113.30" fill="#fff0d4" stroke="#f5a21e" stroke-width="1.1"/>
<text x="272.00" y="116.30" font-size="8.5" text-anchor="start" stroke="#000" stroke-width="0.26" fill="#000">AsPc1</text>
<line x1="256.00" y1="125.30" x2="267.00" y2="125.30" stroke="#8a1212" stroke-width="1.4"/>
<polygon points="261.50,122.90 263.90,125.30 261.50,127.70 259.10,125.30" fill="#8a1212" stroke="#8a1212" stroke-width="0.3"/>
<text x="272.00" y="128.30" font-size="8.5" text-anchor="start" stroke="#000" stroke-width="0.26" fill="#000">Suit2</text>
<line x1="256.00" y1="137.60" x2="267.00" y2="137.60" stroke="#e8301e" stroke-width="1.4"/>
<circle cx="261.50" cy="137.60" r="2.60" fill="#fde4e0" stroke="#e8301e" stroke-width="1.3"/>
<text x="272.00" y="140.60" font-size="8.5" text-anchor="start" stroke="#000" stroke-width="0.26" fill="#000">Panc1</text>
<text x="324.40" y="9.70" font-size="12.6" text-anchor="start" font-weight="bold" stroke="#000" stroke-width="0.40" fill="#000">B</text>
<clipPath id="cb0"><rect x="386.4" y="10.0" width="111.5" height="19.4"/></clipPath>
<rect x="386.40" y="10.00" width="111.50" height="19.40" fill="#dcdcdc" stroke="none" stroke-width="0"/>
<g clip-path="url(#cb0)">
<g filter="url(#bl2)">
<rect x="389.60" y="10.00" width="10.00" height="19.40" fill="#000" stroke="none" stroke-width="0" opacity="0.05"/>
<rect x="403.00" y="10.00" width="10.00" height="19.40" fill="#000" stroke="none" stroke-width="0" opacity="0.05"/>
<rect x="416.80" y="10.00" width="10.00" height="19.40" fill="#000" stroke="none" stroke-width="0" opacity="0.05"/>
<rect x="430.40" y="10.00" width="10.00" height="19.40" fill="#000" stroke="none" stroke-width="0" opacity="0.05"/>
<rect x="444.40" y="10.00" width="10.00" height="19.40" fill="#000" stroke="none" stroke-width="0" opacity="0.05"/>
<rect x="458.20" y="10.00" width="10.00" height="19.40" fill="#000" stroke="none" stroke-width="0" opacity="0.05"/>
<rect x="472.00" y="10.00" width="10.00" height="19.40" fill="#000" stroke="none" stroke-width="0" opacity="0.05"/>
<rect x="485.80" y="10.00" width="10.00" height="19.40" fill="#000" stroke="none" stroke-width="0" opacity="0.05"/>
</g>
<g filter="url(#bl1)">
<rect x="388.2" y="12.4" width="12.8" height="7.6" rx="3.6" fill="#0c0c0c" opacity="0.72"/>
<rect x="388.6" y="20.2" width="12.0" height="4.6" rx="2.2" fill="#0c0c0c" opacity="0.5"/>
<rect x="403.4" y="19.2" width="9.2" height="3.0" rx="1.4" fill="#0c0c0c" opacity="0.25"/>
<rect x="403.4" y="23.9" width="9.2" height="2.6" rx="1.2" fill="#0c0c0c" opacity="0.3"/>
<rect x="417.2" y="19.2" width="9.2" height="3.0" rx="1.4" fill="#0c0c0c" opacity="0.35"/>
<rect x="417.2" y="23.5" width="9.2" height="2.4" rx="1.1" fill="#0c0c0c" opacity="0.2"/>
<rect x="430.8" y="19.2" width="9.2" height="3.0" rx="1.4" fill="#0c0c0c" opacity="0.18"/>
<rect x="444.8" y="15.4" width="9.2" height="2.6" rx="1.2" fill="#0c0c0c" opacity="0.3"/>
<rect x="444.6" y="19.2" width="9.6" height="3.0" rx="1.4" fill="#0c0c0c" opacity="0.4"/>
<rect x="458.6" y="14.4" width="9.2" height="2.6" rx="1.2" fill="#0c0c0c" opacity="0.12"/>
<rect x="470.9" y="16.0" width="12.2" height="6.4" rx="3.0" fill="#0c0c0c" opacity="0.75"/>
<rect x="470.9" y="22.2" width="12.2" height="5.0" rx="2.4" fill="#0c0c0c" opacity="0.7"/>
<rect x="485.0" y="16.2" width="11.6" height="6.0" rx="2.8" fill="#0c0c0c" opacity="0.65"/>
<rect x="485.0" y="22.4" width="11.6" height="4.6" rx="2.2" fill="#0c0c0c" opacity="0.6"/>
</g>
<rect x="386.40" y="10.00" width="111.50" height="19.40" fill="#000" stroke="none" stroke-width="0" filter="url(#noise)" opacity="0.42"/>
</g>
<rect x="386.40" y="10.00" width="111.50" height="19.40" fill="none" stroke="#3a3a3a" stroke-width="0.8"/>
<text x="381.80" y="22.50" font-size="9.4" text-anchor="end" stroke="#000" stroke-width="0.28" fill="#000">pSTAT3</text>
<clipPath id="cb1"><rect x="386.4" y="31.3" width="111.5" height="17.3"/></clipPath>
<rect x="386.40" y="31.30" width="111.50" height="17.30" fill="#c8c8c8" stroke="none" stroke-width="0"/>
<g clip-path="url(#cb1)">
<g filter="url(#bl2)">
</g>
<g filter="url(#bl1)">
<rect x="388.2" y="35.7" width="12.8" height="6.6" rx="3.1" fill="#0c0c0c" opacity="0.95"/>
<rect x="401.6" y="35.4" width="12.8" height="7.2" rx="3.4" fill="#0c0c0c" opacity="0.97"/>
<rect x="416.2" y="37.6" width="11.2" height="4.8" rx="2.3" fill="#0c0c0c" opacity="0.9"/>
<rect x="429.4" y="37.2" width="12.0" height="5.6" rx="2.7" fill="#0c0c0c" opacity="0.95"/>
<rect x="444.8" y="38.9" width="9.2" height="3.2" rx="1.5" fill="#0c0c0c" opacity="0.6"/>
<rect x="458.6" y="39.0" width="9.2" height="3.0" rx="1.4" fill="#0c0c0c" opacity="0.5"/>
<rect x="470.1" y="35.4" width="13.8" height="9.2" rx="4.4" fill="#0c0c0c" opacity="1"/>
<rect x="483.9" y="35.0" width="13.8" height="10.0" rx="4.8" fill="#0c0c0c" opacity="1"/>
</g>
<rect x="386.40" y="31.30" width="111.50" height="17.30" fill="#000" stroke="none" stroke-width="0" filter="url(#noise)" opacity="0.42"/>
</g>
<rect x="386.40" y="31.30" width="111.50" height="17.30" fill="none" stroke="#3a3a3a" stroke-width="0.8"/>
<text x="381.80" y="42.75" font-size="9.4" text-anchor="end" stroke="#000" stroke-width="0.28" fill="#000">STAT3</text>
<clipPath id="cb2"><rect x="386.4" y="52.6" width="111.5" height="18.999999999999993"/></clipPath>
<rect x="386.40" y="52.60" width="111.50" height="19.00" fill="#d8d8d8" stroke="none" stroke-width="0"/>
<g clip-path="url(#cb2)">
<g filter="url(#bl2)">
<rect x="389.60" y="52.60" width="10.00" height="19.00" fill="#000" stroke="none" stroke-width="0" opacity="0.05"/>
<rect x="403.00" y="52.60" width="10.00" height="19.00" fill="#000" stroke="none" stroke-width="0" opacity="0.05"/>
<rect x="416.80" y="52.60" width="10.00" height="19.00" fill="#000" stroke="none" stroke-width="0" opacity="0.05"/>
<rect x="430.40" y="52.60" width="10.00" height="19.00" fill="#000" stroke="none" stroke-width="0" opacity="0.05"/>
<rect x="444.40" y="52.60" width="10.00" height="19.00" fill="#000" stroke="none" stroke-width="0" opacity="0.05"/>
<rect x="458.20" y="52.60" width="10.00" height="19.00" fill="#000" stroke="none" stroke-width="0" opacity="0.05"/>
<rect x="472.00" y="52.60" width="10.00" height="19.00" fill="#000" stroke="none" stroke-width="0" opacity="0.05"/>
<rect x="485.80" y="52.60" width="10.00" height="19.00" fill="#000" stroke="none" stroke-width="0" opacity="0.05"/>
</g>
<g filter="url(#bl1)">
<rect x="389.0" y="58.8" width="11.2" height="3.6" rx="1.7" fill="#0c0c0c" opacity="0.75"/>
<rect x="402.9" y="59.6" width="10.2" height="5.0" rx="2.4" fill="#0c0c0c" opacity="0.15"/>
<rect x="416.7" y="57.6" width="10.2" height="8.0" rx="3.8" fill="#0c0c0c" opacity="0.33"/>
<rect x="430.3" y="57.6" width="10.2" height="8.0" rx="3.8" fill="#0c0c0c" opacity="0.33"/>
<rect x="444.0" y="58.1" width="10.8" height="4.0" rx="1.9" fill="#0c0c0c" opacity="0.5"/>
<rect x="444.3" y="57.6" width="10.2" height="9.0" rx="4.3" fill="#0c0c0c" opacity="0.18"/>
<rect x="458.6" y="60.1" width="9.2" height="4.0" rx="1.9" fill="#0c0c0c" opacity="0.06"/>
<rect x="471.2" y="54.6" width="11.6" height="11.0" rx="4.9" fill="#0c0c0c" opacity="0.38"/>
<rect x="471.4" y="55.6" width="11.2" height="3.0" rx="1.4" fill="#0c0c0c" opacity="0.25"/>
<rect x="485.2" y="54.6" width="11.2" height="11.0" rx="4.8" fill="#0c0c0c" opacity="0.34"/>
<rect x="485.4" y="55.6" width="10.8" height="3.0" rx="1.4" fill="#0c0c0c" opacity="0.22"/>
</g>
<rect x="386.40" y="52.60" width="111.50" height="19.00" fill="#000" stroke="none" stroke-width="0" filter="url(#noise)" opacity="0.42"/>
</g>
<rect x="386.40" y="52.60" width="111.50" height="19.00" fill="none" stroke="#3a3a3a" stroke-width="0.8"/>
<text x="381.80" y="64.90" font-size="9.4" text-anchor="end" stroke="#000" stroke-width="0.28" fill="#000">pJAK1</text>
<clipPath id="cb3"><rect x="386.4" y="74.4" width="111.5" height="19.89999999999999"/></clipPath>
<rect x="386.40" y="74.40" width="111.50" height="19.90" fill="#bcbcbd" stroke="none" stroke-width="0"/>
<g clip-path="url(#cb3)">
<g filter="url(#bl2)">
<rect x="389.60" y="74.40" width="10.00" height="19.90" fill="#000" stroke="none" stroke-width="0" opacity="0.05"/>
<rect x="403.00" y="74.40" width="10.00" height="19.90" fill="#000" stroke="none" stroke-width="0" opacity="0.05"/>
<rect x="416.80" y="74.40" width="10.00" height="19.90" fill="#000" stroke="none" stroke-width="0" opacity="0.05"/>
<rect x="430.40" y="74.40" width="10.00" height="19.90" fill="#000" stroke="none" stroke-width="0" opacity="0.05"/>
<rect x="444.40" y="74.40" width="10.00" height="19.90" fill="#000" stroke="none" stroke-width="0" opacity="0.05"/>
<rect x="458.20" y="74.40" width="10.00" height="19.90" fill="#000" stroke="none" stroke-width="0" opacity="0.05"/>
<rect x="472.00" y="74.40" width="10.00" height="19.90" fill="#000" stroke="none" stroke-width="0" opacity="0.05"/>
<rect x="485.80" y="74.40" width="10.00" height="19.90" fill="#000" stroke="none" stroke-width="0" opacity="0.05"/>
</g>
<g filter="url(#bl1)">
<rect x="390.0" y="82.5" width="9.2" height="2.6" rx="1.2" fill="#0c0c0c" opacity="0.3"/>
<rect x="403.4" y="82.5" width="9.2" height="2.6" rx="1.2" fill="#0c0c0c" opacity="0.3"/>
<rect x="403.4" y="89.1" width="9.2" height="2.4" rx="1.1" fill="#0c0c0c" opacity="0.25"/>
<rect x="416.0" y="81.9" width="11.6" height="3.8" rx="1.8" fill="#0c0c0c" opacity="0.8"/>
<rect x="429.4" y="81.8" width="12.0" height="4.2" rx="2.0" fill="#0c0c0c" opacity="0.85"/>
<rect x="430.8" y="89.3" width="9.2" height="2.0" rx="0.9" fill="#0c0c0c" opacity="0.25"/>
<rect x="443.8" y="82.0" width="11.2" height="3.6" rx="1.7" fill="#0c0c0c" opacity="0.7"/>
<rect x="458.0" y="82.3" width="10.4" height="3.0" rx="1.4" fill="#0c0c0c" opacity="0.5"/>
<rect x="471.2" y="81.9" width="11.6" height="3.8" rx="1.8" fill="#0c0c0c" opacity="0.75"/>
<rect x="471.9" y="89.1" width="10.2" height="2.4" rx="1.1" fill="#0c0c0c" opacity="0.3"/>
<rect x="485.2" y="81.9" width="11.2" height="3.8" rx="1.8" fill="#0c0c0c" opacity="0.7"/>
<rect x="485.7" y="89.1" width="10.2" height="2.4" rx="1.1" fill="#0c0c0c" opacity="0.3"/>
</g>
<rect x="386.40" y="74.40" width="111.50" height="19.90" fill="#000" stroke="none" stroke-width="0" filter="url(#noise)" opacity="0.42"/>
</g>
<rect x="386.40" y="74.40" width="111.50" height="19.90" fill="none" stroke="#3a3a3a" stroke-width="0.8"/>
<text x="381.80" y="87.15" font-size="9.4" text-anchor="end" stroke="#000" stroke-width="0.28" fill="#000">JAK1</text>
<clipPath id="cb4"><rect x="386.4" y="96" width="111.5" height="18.299999999999997"/></clipPath>
<rect x="386.40" y="96.00" width="111.50" height="18.30" fill="#d0d0d0" stroke="none" stroke-width="0"/>
<g clip-path="url(#cb4)">
<g filter="url(#bl2)">
</g>
<g filter="url(#bl1)">
<rect x="404.4" y="103.7" width="7.2" height="3.0" rx="1.4" fill="#0c0c0c" opacity="0.1"/>
<rect x="442.8" y="100.5" width="13.2" height="8.4" rx="4.0" fill="#0c0c0c" opacity="1"/>
<rect x="457.8" y="101.9" width="10.8" height="4.6" rx="2.2" fill="#0c0c0c" opacity="0.75"/>
<rect x="487.2" y="103.7" width="7.2" height="3.0" rx="1.4" fill="#0c0c0c" opacity="0.08"/>
</g>
<rect x="386.40" y="96.00" width="111.50" height="18.30" fill="#000" stroke="none" stroke-width="0" filter="url(#noise)" opacity="0.42"/>
</g>
<rect x="386.40" y="96.00" width="111.50" height="18.30" fill="none" stroke="#3a3a3a" stroke-width="0.8"/>
<text x="381.80" y="107.95" font-size="9.4" text-anchor="end" stroke="#000" stroke-width="0.28" fill="#000">pJAK2</text>
<clipPath id="cb5"><rect x="386.4" y="116.8" width="111.5" height="19.000000000000014"/></clipPath>
<rect x="386.40" y="116.80" width="111.50" height="19.00" fill="#c0c0c0" stroke="none" stroke-width="0"/>
<g clip-path="url(#cb5)">
<g filter="url(#bl2)">
</g>
<g filter="url(#bl1)">
<rect x="388.5" y="122.7" width="12.2" height="5.2" rx="2.5" fill="#1c1c1e" opacity="0.7"/>
<rect x="401.9" y="122.7" width="12.2" height="5.2" rx="2.5" fill="#1c1c1e" opacity="0.7"/>
<rect x="415.7" y="122.5" width="12.2" height="5.6" rx="2.7" fill="#1c1c1e" opacity="0.7"/>
<rect x="429.3" y="122.7" width="12.2" height="5.2" rx="2.5" fill="#1c1c1e" opacity="0.72"/>
<rect x="444.2" y="124.5" width="10.4" height="3.6" rx="1.7" fill="#1c1c1e" opacity="0.55"/>
<rect x="458.2" y="124.8" width="10.0" height="3.0" rx="1.4" fill="#1c1c1e" opacity="0.4"/>
<rect x="471.6" y="124.0" width="10.8" height="3.6" rx="1.7" fill="#1c1c1e" opacity="0.6"/>
<rect x="485.4" y="123.8" width="10.8" height="4.0" rx="1.9" fill="#1c1c1e" opacity="0.65"/>
</g>
<rect x="386.40" y="116.80" width="111.50" height="19.00" fill="#000" stroke="none" stroke-width="0" filter="url(#noise)" opacity="0.42"/>
</g>
<rect x="386.40" y="116.80" width="111.50" height="19.00" fill="none" stroke="#3a3a3a" stroke-width="0.8"/>
<text x="381.80" y="129.10" font-size="9.4" text-anchor="end" stroke="#000" stroke-width="0.28" fill="#000">JAK2</text>
<clipPath id="cb6"><rect x="386.4" y="138.5" width="111.5" height="18.900000000000006"/></clipPath>
<rect x="386.40" y="138.50" width="111.50" height="18.90" fill="#d8d8d5" stroke="none" stroke-width="0"/>
<g clip-path="url(#cb6)">
<g filter="url(#bl2)">
</g>
<g filter="url(#bl1)">
<rect x="388.4" y="145.8" width="12.4" height="4.2" rx="2.0" fill="#0c0c0c" opacity="0.95"/>
<rect x="402.0" y="146.2" width="12.0" height="4.4" rx="2.1" fill="#0c0c0c" opacity="0.92"/>
<rect x="415.8" y="145.8" width="12.0" height="4.2" rx="2.0" fill="#0c0c0c" opacity="0.95"/>
<rect x="429.0" y="145.6" width="12.8" height="4.6" rx="2.2" fill="#0c0c0c" opacity="0.97"/>
<rect x="442.5" y="145.6" width="13.8" height="5.6" rx="2.7" fill="#0c0c0c" opacity="1"/>
<rect x="456.6" y="146.0" width="13.2" height="4.8" rx="2.3" fill="#0c0c0c" opacity="0.97"/>
<rect x="470.6" y="146.1" width="12.8" height="4.6" rx="2.2" fill="#0c0c0c" opacity="0.97"/>
<rect x="484.4" y="146.5" width="12.8" height="4.8" rx="2.3" fill="#0c0c0c" opacity="0.97"/>
</g>
<rect x="386.40" y="138.50" width="111.50" height="18.90" fill="#000" stroke="none" stroke-width="0" filter="url(#noise)" opacity="0.42"/>
</g>
<rect x="386.40" y="138.50" width="111.50" height="18.90" fill="none" stroke="#3a3a3a" stroke-width="0.8"/>
<text x="381.80" y="150.75" font-size="9.4" text-anchor="end" stroke="#000" stroke-width="0.28" fill="#000">Actin</text>
<line x1="382.50" y1="160.00" x2="417.00" y2="160.00" stroke="#9a9a9a" stroke-width="0.8"/>
<text x="399.75" y="168.80" font-size="7.6" text-anchor="middle" stroke="#000" stroke-width="0.23" fill="#000">MiaPaCa2</text>
<line x1="420.00" y1="160.00" x2="440.50" y2="160.00" stroke="#9a9a9a" stroke-width="0.8"/>
<text x="430.25" y="168.80" font-size="7.6" text-anchor="middle" stroke="#000" stroke-width="0.23" fill="#000">Suit2</text>
<line x1="443.70" y1="160.00" x2="469.50" y2="160.00" stroke="#9a9a9a" stroke-width="0.8"/>
<text x="456.60" y="168.80" font-size="7.6" text-anchor="middle" stroke="#000" stroke-width="0.23" fill="#000">AsPc1</text>
<line x1="472.50" y1="160.00" x2="497.50" y2="160.00" stroke="#9a9a9a" stroke-width="0.8"/>
<text x="485.00" y="168.80" font-size="7.6" text-anchor="middle" stroke="#000" stroke-width="0.23" fill="#000">Panc1</text>
<text x="396.30" y="172.00" font-size="7.3" text-anchor="end" stroke="#000" stroke-width="0.22" transform="rotate(-90 396.30 172.00)" fill="#000">DMSO</text>
<text x="410.10" y="172.00" font-size="7.3" text-anchor="end" stroke="#000" stroke-width="0.22" transform="rotate(-90 410.10 172.00)" fill="#000">Napa</text>
<text x="424.90" y="172.00" font-size="7.3" text-anchor="end" stroke="#000" stroke-width="0.22" transform="rotate(-90 424.90 172.00)" fill="#000">DMSO</text>
<text x="438.60" y="172.00" font-size="7.3" text-anchor="end" stroke="#000" stroke-width="0.22" transform="rotate(-90 438.60 172.00)" fill="#000">Napa</text>
<text x="452.60" y="172.00" font-size="7.3" text-anchor="end" stroke="#000" stroke-width="0.22" transform="rotate(-90 452.60 172.00)" fill="#000">DMSO</text>
<text x="466.40" y="172.00" font-size="7.3" text-anchor="end" stroke="#000" stroke-width="0.22" transform="rotate(-90 466.40 172.00)" fill="#000">Napa</text>
<text x="481.30" y="172.00" font-size="7.3" text-anchor="end" stroke="#000" stroke-width="0.22" transform="rotate(-90 481.30 172.00)" fill="#000">DMSO</text>
<text x="493.90" y="172.00" font-size="7.3" text-anchor="end" stroke="#000" stroke-width="0.22" transform="rotate(-90 493.90 172.00)" fill="#000">Napa</text>
<text x="4.00" y="193.00" font-size="12.5" text-anchor="start" font-weight="bold" stroke="#000" stroke-width="0.40" fill="#000">C</text>
<line x1="33.70" y1="205.50" x2="46.00" y2="205.50" stroke="#d9534f" stroke-width="1.2"/>
<text x="50.00" y="208.30" font-size="7.6" text-anchor="start" font-weight="bold" stroke="#000" stroke-width="0.32" fill="#000">DMSO</text>
<line x1="33.70" y1="213.70" x2="46.00" y2="213.70" stroke="#2bb6e0" stroke-width="1.2"/>
<text x="50.00" y="216.50" font-size="7.6" text-anchor="start" font-weight="bold" stroke="#000" stroke-width="0.32" fill="#000">Napabucasin</text>
<rect x="37.00" y="235.00" width="79.00" height="76.40" fill="#fff" stroke="#666" stroke-width="0.7"/>
<line x1="37.00" y1="235.00" x2="37.00" y2="311.40" stroke="#333" stroke-width="0.9"/>
<line x1="37.00" y1="311.40" x2="116.00" y2="311.40" stroke="#333" stroke-width="0.9"/>
<text x="76.00" y="231.80" font-size="8.8" text-anchor="middle" font-weight="bold" stroke="#000" stroke-width="0.37" fill="#000">MiaPaCa2</text>
<line x1="35.00" y1="311.40" x2="37.00" y2="311.40" stroke="#444" stroke-width="0.6"/>
<text x="34.00" y="312.40" font-size="2.6" text-anchor="end" font-weight="bold" stroke="#333" stroke-width="0.11" fill="#333">0</text>
<line x1="35.00" y1="296.82" x2="37.00" y2="296.82" stroke="#444" stroke-width="0.6"/>
<text x="34.00" y="297.82" font-size="2.6" text-anchor="end" font-weight="bold" stroke="#333" stroke-width="0.11" fill="#333">20</text>
<line x1="35.00" y1="282.24" x2="37.00" y2="282.24" stroke="#444" stroke-width="0.6"/>
<text x="34.00" y="283.24" font-size="2.6" text-anchor="end" font-weight="bold" stroke="#333" stroke-width="0.11" fill="#333">40</text>
<line x1="35.00" y1="267.66" x2="37.00" y2="267.66" stroke="#444" stroke-width="0.6"/>
<text x="34.00" y="268.66" font-size="2.6" text-anchor="end" font-weight="bold" stroke="#333" stroke-width="0.11" fill="#333">60</text>
<line x1="35.00" y1="253.08" x2="37.00" y2="253.08" stroke="#444" stroke-width="0.6"/>
<text x="34.00" y="254.08" font-size="2.6" text-anchor="end" font-weight="bold" stroke="#333" stroke-width="0.11" fill="#333">80</text>
<line x1="35.00" y1="238.50" x2="37.00" y2="238.50" stroke="#444" stroke-width="0.6"/>
<text x="34.00" y="239.50" font-size="2.6" text-anchor="end" font-weight="bold" stroke="#333" stroke-width="0.11" fill="#333">100</text>
<line x1="46.48" y1="311.40" x2="46.48" y2="313.40" stroke="#444" stroke-width="0.6"/>
<text x="46.48" y="317.00" font-size="2.6" text-anchor="middle" font-weight="bold" stroke="#333" stroke-width="0.11" fill="#333">10</text>
<text x="48.68" y="315.60" font-size="1.8" text-anchor="middle" font-weight="bold" stroke="#333" stroke-width="0.08" fill="#333">1</text>
<line x1="62.12" y1="311.40" x2="62.12" y2="313.40" stroke="#444" stroke-width="0.6"/>
<text x="62.12" y="317.00" font-size="2.6" text-anchor="middle" font-weight="bold" stroke="#333" stroke-width="0.11" fill="#333">10</text>
<text x="64.32" y="315.60" font-size="1.8" text-anchor="middle" font-weight="bold" stroke="#333" stroke-width="0.08" fill="#333">2</text>
<line x1="77.76" y1="311.40" x2="77.76" y2="313.40" stroke="#444" stroke-width="0.6"/>
<text x="77.76" y="317.00" font-size="2.6" text-anchor="middle" font-weight="bold" stroke="#333" stroke-width="0.11" fill="#333">10</text>
<text x="79.96" y="315.60" font-size="1.8" text-anchor="middle" font-weight="bold" stroke="#333" stroke-width="0.08" fill="#333">3</text>
<line x1="93.41" y1="311.40" x2="93.41" y2="313.40" stroke="#444" stroke-width="0.6"/>
<text x="93.41" y="317.00" font-size="2.6" text-anchor="middle" font-weight="bold" stroke="#333" stroke-width="0.11" fill="#333">10</text>
<text x="95.61" y="315.60" font-size="1.8" text-anchor="middle" font-weight="bold" stroke="#333" stroke-width="0.08" fill="#333">4</text>
<line x1="109.05" y1="311.40" x2="109.05" y2="313.40" stroke="#444" stroke-width="0.6"/>
<text x="109.05" y="317.00" font-size="2.6" text-anchor="middle" font-weight="bold" stroke="#333" stroke-width="0.11" fill="#333">10</text>
<text x="111.25" y="315.60" font-size="1.8" text-anchor="middle" font-weight="bold" stroke="#333" stroke-width="0.08" fill="#333">5</text>
<line x1="38.30" y1="311.40" x2="38.30" y2="312.60" stroke="#444" stroke-width="0.4"/>
<line x1="40.26" y1="311.40" x2="40.26" y2="312.60" stroke="#444" stroke-width="0.4"/>
<line x1="41.77" y1="311.40" x2="41.77" y2="312.60" stroke="#444" stroke-width="0.4"/>
<line x1="43.01" y1="311.40" x2="43.01" y2="312.60" stroke="#444" stroke-width="0.4"/>
<line x1="44.06" y1="311.40" x2="44.06" y2="312.60" stroke="#444" stroke-width="0.4"/>
<line x1="44.96" y1="311.40" x2="44.96" y2="312.60" stroke="#444" stroke-width="0.4"/>
<line x1="45.76" y1="311.40" x2="45.76" y2="312.60" stroke="#444" stroke-width="0.4"/>
<line x1="51.19" y1="311.40" x2="51.19" y2="312.60" stroke="#444" stroke-width="0.4"/>
<line x1="53.94" y1="311.40" x2="53.94" y2="312.60" stroke="#444" stroke-width="0.4"/>
<line x1="55.90" y1="311.40" x2="55.90" y2="312.60" stroke="#444" stroke-width="0.4"/>
<line x1="57.41" y1="311.40" x2="57.41" y2="312.60" stroke="#444" stroke-width="0.4"/>
<line x1="58.65" y1="311.40" x2="58.65" y2="312.60" stroke="#444" stroke-width="0.4"/>
<line x1="59.70" y1="311.40" x2="59.70" y2="312.60" stroke="#444" stroke-width="0.4"/>
<line x1="60.61" y1="311.40" x2="60.61" y2="312.60" stroke="#444" stroke-width="0.4"/>
<line x1="61.41" y1="311.40" x2="61.41" y2="312.60" stroke="#444" stroke-width="0.4"/>
<line x1="66.83" y1="311.40" x2="66.83" y2="312.60" stroke="#444" stroke-width="0.4"/>
<line x1="69.59" y1="311.40" x2="69.59" y2="312.60" stroke="#444" stroke-width="0.4"/>
<line x1="71.54" y1="311.40" x2="71.54" y2="312.60" stroke="#444" stroke-width="0.4"/>
<line x1="73.06" y1="311.40" x2="73.06" y2="312.60" stroke="#444" stroke-width="0.4"/>
<line x1="74.29" y1="311.40" x2="74.29" y2="312.60" stroke="#444" stroke-width="0.4"/>
<line x1="75.34" y1="311.40" x2="75.34" y2="312.60" stroke="#444" stroke-width="0.4"/>
<line x1="76.25" y1="311.40" x2="76.25" y2="312.60" stroke="#444" stroke-width="0.4"/>
<line x1="77.05" y1="311.40" x2="77.05" y2="312.60" stroke="#444" stroke-width="0.4"/>
<line x1="82.47" y1="311.40" x2="82.47" y2="312.60" stroke="#444" stroke-width="0.4"/>
<line x1="85.23" y1="311.40" x2="85.23" y2="312.60" stroke="#444" stroke-width="0.4"/>
<line x1="87.18" y1="311.40" x2="87.18" y2="312.60" stroke="#444" stroke-width="0.4"/>
<line x1="88.70" y1="311.40" x2="88.70" y2="312.60" stroke="#444" stroke-width="0.4"/>
<line x1="89.94" y1="311.40" x2="89.94" y2="312.60" stroke="#444" stroke-width="0.4"/>
<line x1="90.98" y1="311.40" x2="90.98" y2="312.60" stroke="#444" stroke-width="0.4"/>
<line x1="91.89" y1="311.40" x2="91.89" y2="312.60" stroke="#444" stroke-width="0.4"/>
<line x1="92.69" y1="311.40" x2="92.69" y2="312.60" stroke="#444" stroke-width="0.4"/>
<line x1="98.11" y1="311.40" x2="98.11" y2="312.60" stroke="#444" stroke-width="0.4"/>
<line x1="100.87" y1="311.40" x2="100.87" y2="312.60" stroke="#444" stroke-width="0.4"/>
<line x1="102.82" y1="311.40" x2="102.82" y2="312.60" stroke="#444" stroke-width="0.4"/>
<line x1="104.34" y1="311.40" x2="104.34" y2="312.60" stroke="#444" stroke-width="0.4"/>
<line x1="105.58" y1="311.40" x2="105.58" y2="312.60" stroke="#444" stroke-width="0.4"/>
<line x1="106.63" y1="311.40" x2="106.63" y2="312.60" stroke="#444" stroke-width="0.4"/>
<line x1="107.53" y1="311.40" x2="107.53" y2="312.60" stroke="#444" stroke-width="0.4"/>
<line x1="108.33" y1="311.40" x2="108.33" y2="312.60" stroke="#444" stroke-width="0.4"/>
<line x1="113.76" y1="311.40" x2="113.76" y2="312.60" stroke="#444" stroke-width="0.4"/>
<line x1="36.00" y1="311.40" x2="37.00" y2="311.40" stroke="#555" stroke-width="0.35"/>
<line x1="36.00" y1="308.48" x2="37.00" y2="308.48" stroke="#555" stroke-width="0.35"/>
<line x1="36.00" y1="305.57" x2="37.00" y2="305.57" stroke="#555" stroke-width="0.35"/>
<line x1="36.00" y1="302.65" x2="37.00" y2="302.65" stroke="#555" stroke-width="0.35"/>
<line x1="36.00" y1="299.74" x2="37.00" y2="299.74" stroke="#555" stroke-width="0.35"/>
<line x1="36.00" y1="296.82" x2="37.00" y2="296.82" stroke="#555" stroke-width="0.35"/>
<line x1="36.00" y1="293.90" x2="37.00" y2="293.90" stroke="#555" stroke-width="0.35"/>
<line x1="36.00" y1="290.99" x2="37.00" y2="290.99" stroke="#555" stroke-width="0.35"/>
<line x1="36.00" y1="288.07" x2="37.00" y2="288.07" stroke="#555" stroke-width="0.35"/>
<line x1="36.00" y1="285.16" x2="37.00" y2="285.16" stroke="#555" stroke-width="0.35"/>
<line x1="36.00" y1="282.24" x2="37.00" y2="282.24" stroke="#555" stroke-width="0.35"/>
<line x1="36.00" y1="279.32" x2="37.00" y2="279.32" stroke="#555" stroke-width="0.35"/>
<line x1="36.00" y1="276.41" x2="37.00" y2="276.41" stroke="#555" stroke-width="0.35"/>
<line x1="36.00" y1="273.49" x2="37.00" y2="273.49" stroke="#555" stroke-width="0.35"/>
<line x1="36.00" y1="270.58" x2="37.00" y2="270.58" stroke="#555" stroke-width="0.35"/>
<line x1="36.00" y1="267.66" x2="37.00" y2="267.66" stroke="#555" stroke-width="0.35"/>
<line x1="36.00" y1="264.74" x2="37.00" y2="264.74" stroke="#555" stroke-width="0.35"/>
<line x1="36.00" y1="261.83" x2="37.00" y2="261.83" stroke="#555" stroke-width="0.35"/>
<line x1="36.00" y1="258.91" x2="37.00" y2="258.91" stroke="#555" stroke-width="0.35"/>
<line x1="36.00" y1="256.00" x2="37.00" y2="256.00" stroke="#555" stroke-width="0.35"/>
<line x1="36.00" y1="253.08" x2="37.00" y2="253.08" stroke="#555" stroke-width="0.35"/>
<line x1="36.00" y1="250.16" x2="37.00" y2="250.16" stroke="#555" stroke-width="0.35"/>
<line x1="36.00" y1="247.25" x2="37.00" y2="247.25" stroke="#555" stroke-width="0.35"/>
<line x1="36.00" y1="244.33" x2="37.00" y2="244.33" stroke="#555" stroke-width="0.35"/>
<line x1="36.00" y1="241.42" x2="37.00" y2="241.42" stroke="#555" stroke-width="0.35"/>
<rect x="128.20" y="237.00" width="77.80" height="75.00" fill="#fff" stroke="#666" stroke-width="0.7"/>
<line x1="128.20" y1="237.00" x2="128.20" y2="312.00" stroke="#333" stroke-width="0.9"/>
<line x1="128.20" y1="312.00" x2="206.00" y2="312.00" stroke="#333" stroke-width="0.9"/>
<text x="167.50" y="233.60" font-size="8.8" text-anchor="middle" font-weight="bold" stroke="#000" stroke-width="0.37" fill="#000">AsPc1</text>
<line x1="126.20" y1="312.00" x2="128.20" y2="312.00" stroke="#444" stroke-width="0.6"/>
<text x="125.20" y="313.00" font-size="2.6" text-anchor="end" font-weight="bold" stroke="#333" stroke-width="0.11" fill="#333">0</text>
<line x1="126.20" y1="297.70" x2="128.20" y2="297.70" stroke="#444" stroke-width="0.6"/>
<text x="125.20" y="298.70" font-size="2.6" text-anchor="end" font-weight="bold" stroke="#333" stroke-width="0.11" fill="#333">20</text>
<line x1="126.20" y1="283.40" x2="128.20" y2="283.40" stroke="#444" stroke-width="0.6"/>
<text x="125.20" y="284.40" font-size="2.6" text-anchor="end" font-weight="bold" stroke="#333" stroke-width="0.11" fill="#333">40</text>
<line x1="126.20" y1="269.10" x2="128.20" y2="269.10" stroke="#444" stroke-width="0.6"/>
<text x="125.20" y="270.10" font-size="2.6" text-anchor="end" font-weight="bold" stroke="#333" stroke-width="0.11" fill="#333">60</text>
<line x1="126.20" y1="254.80" x2="128.20" y2="254.80" stroke="#444" stroke-width="0.6"/>
<text x="125.20" y="255.80" font-size="2.6" text-anchor="end" font-weight="bold" stroke="#333" stroke-width="0.11" fill="#333">80</text>
<line x1="126.20" y1="240.50" x2="128.20" y2="240.50" stroke="#444" stroke-width="0.6"/>
<text x="125.20" y="241.50" font-size="2.6" text-anchor="end" font-weight="bold" stroke="#333" stroke-width="0.11" fill="#333">100</text>
<line x1="137.54" y1="312.00" x2="137.54" y2="314.00" stroke="#444" stroke-width="0.6"/>
<text x="137.54" y="317.60" font-size="2.6" text-anchor="middle" font-weight="bold" stroke="#333" stroke-width="0.11" fill="#333">10</text>
<text x="139.74" y="316.20" font-size="1.8" text-anchor="middle" font-weight="bold" stroke="#333" stroke-width="0.08" fill="#333">1</text>
<line x1="152.94" y1="312.00" x2="152.94" y2="314.00" stroke="#444" stroke-width="0.6"/>
<text x="152.94" y="317.60" font-size="2.6" text-anchor="middle" font-weight="bold" stroke="#333" stroke-width="0.11" fill="#333">10</text>
<text x="155.14" y="316.20" font-size="1.8" text-anchor="middle" font-weight="bold" stroke="#333" stroke-width="0.08" fill="#333">2</text>
<line x1="168.34" y1="312.00" x2="168.34" y2="314.00" stroke="#444" stroke-width="0.6"/>
<text x="168.34" y="317.60" font-size="2.6" text-anchor="middle" font-weight="bold" stroke="#333" stroke-width="0.11" fill="#333">10</text>
<text x="170.54" y="316.20" font-size="1.8" text-anchor="middle" font-weight="bold" stroke="#333" stroke-width="0.08" fill="#333">3</text>
<line x1="183.75" y1="312.00" x2="183.75" y2="314.00" stroke="#444" stroke-width="0.6"/>
<text x="183.75" y="317.60" font-size="2.6" text-anchor="middle" font-weight="bold" stroke="#333" stroke-width="0.11" fill="#333">10</text>
<text x="185.95" y="316.20" font-size="1.8" text-anchor="middle" font-weight="bold" stroke="#333" stroke-width="0.08" fill="#333">4</text>
<line x1="199.15" y1="312.00" x2="199.15" y2="314.00" stroke="#444" stroke-width="0.6"/>
<text x="199.15" y="317.60" font-size="2.6" text-anchor="middle" font-weight="bold" stroke="#333" stroke-width="0.11" fill="#333">10</text>
<text x="201.35" y="316.20" font-size="1.8" text-anchor="middle" font-weight="bold" stroke="#333" stroke-width="0.08" fill="#333">5</text>
<line x1="129.48" y1="312.00" x2="129.48" y2="313.20" stroke="#444" stroke-width="0.4"/>
<line x1="131.41" y1="312.00" x2="131.41" y2="313.20" stroke="#444" stroke-width="0.4"/>
<line x1="132.90" y1="312.00" x2="132.90" y2="313.20" stroke="#444" stroke-width="0.4"/>
<line x1="134.12" y1="312.00" x2="134.12" y2="313.20" stroke="#444" stroke-width="0.4"/>
<line x1="135.15" y1="312.00" x2="135.15" y2="313.20" stroke="#444" stroke-width="0.4"/>
<line x1="136.04" y1="312.00" x2="136.04" y2="313.20" stroke="#444" stroke-width="0.4"/>
<line x1="136.83" y1="312.00" x2="136.83" y2="313.20" stroke="#444" stroke-width="0.4"/>
<line x1="142.17" y1="312.00" x2="142.17" y2="313.20" stroke="#444" stroke-width="0.4"/>
<line x1="144.89" y1="312.00" x2="144.89" y2="313.20" stroke="#444" stroke-width="0.4"/>
<line x1="146.81" y1="312.00" x2="146.81" y2="313.20" stroke="#444" stroke-width="0.4"/>
<line x1="148.30" y1="312.00" x2="148.30" y2="313.20" stroke="#444" stroke-width="0.4"/>
<line x1="149.52" y1="312.00" x2="149.52" y2="313.20" stroke="#444" stroke-width="0.4"/>
<line x1="150.55" y1="312.00" x2="150.55" y2="313.20" stroke="#444" stroke-width="0.4"/>
<line x1="151.45" y1="312.00" x2="151.45" y2="313.20" stroke="#444" stroke-width="0.4"/>
<line x1="152.24" y1="312.00" x2="152.24" y2="313.20" stroke="#444" stroke-width="0.4"/>
<line x1="157.58" y1="312.00" x2="157.58" y2="313.20" stroke="#444" stroke-width="0.4"/>
<line x1="160.29" y1="312.00" x2="160.29" y2="313.20" stroke="#444" stroke-width="0.4"/>
<line x1="162.21" y1="312.00" x2="162.21" y2="313.20" stroke="#444" stroke-width="0.4"/>
<line x1="163.71" y1="312.00" x2="163.71" y2="313.20" stroke="#444" stroke-width="0.4"/>
<line x1="164.93" y1="312.00" x2="164.93" y2="313.20" stroke="#444" stroke-width="0.4"/>
<line x1="165.96" y1="312.00" x2="165.96" y2="313.20" stroke="#444" stroke-width="0.4"/>
<line x1="166.85" y1="312.00" x2="166.85" y2="313.20" stroke="#444" stroke-width="0.4"/>
<line x1="167.64" y1="312.00" x2="167.64" y2="313.20" stroke="#444" stroke-width="0.4"/>
<line x1="172.98" y1="312.00" x2="172.98" y2="313.20" stroke="#444" stroke-width="0.4"/>
<line x1="175.69" y1="312.00" x2="175.69" y2="313.20" stroke="#444" stroke-width="0.4"/>
<line x1="177.62" y1="312.00" x2="177.62" y2="313.20" stroke="#444" stroke-width="0.4"/>
<line x1="179.11" y1="312.00" x2="179.11" y2="313.20" stroke="#444" stroke-width="0.4"/>
<line x1="180.33" y1="312.00" x2="180.33" y2="313.20" stroke="#444" stroke-width="0.4"/>
<line x1="181.36" y1="312.00" x2="181.36" y2="313.20" stroke="#444" stroke-width="0.4"/>
<line x1="182.26" y1="312.00" x2="182.26" y2="313.20" stroke="#444" stroke-width="0.4"/>
<line x1="183.04" y1="312.00" x2="183.04" y2="313.20" stroke="#444" stroke-width="0.4"/>
<line x1="188.39" y1="312.00" x2="188.39" y2="313.20" stroke="#444" stroke-width="0.4"/>
<line x1="191.10" y1="312.00" x2="191.10" y2="313.20" stroke="#444" stroke-width="0.4"/>
<line x1="193.02" y1="312.00" x2="193.02" y2="313.20" stroke="#444" stroke-width="0.4"/>
<line x1="194.52" y1="312.00" x2="194.52" y2="313.20" stroke="#444" stroke-width="0.4"/>
<line x1="195.74" y1="312.00" x2="195.74" y2="313.20" stroke="#444" stroke-width="0.4"/>
<line x1="196.77" y1="312.00" x2="196.77" y2="313.20" stroke="#444" stroke-width="0.4"/>
<line x1="197.66" y1="312.00" x2="197.66" y2="313.20" stroke="#444" stroke-width="0.4"/>
<line x1="198.45" y1="312.00" x2="198.45" y2="313.20" stroke="#444" stroke-width="0.4"/>
<line x1="203.79" y1="312.00" x2="203.79" y2="313.20" stroke="#444" stroke-width="0.4"/>
<line x1="127.20" y1="312.00" x2="128.20" y2="312.00" stroke="#555" stroke-width="0.35"/>
<line x1="127.20" y1="309.14" x2="128.20" y2="309.14" stroke="#555" stroke-width="0.35"/>
<line x1="127.20" y1="306.28" x2="128.20" y2="306.28" stroke="#555" stroke-width="0.35"/>
<line x1="127.20" y1="303.42" x2="128.20" y2="303.42" stroke="#555" stroke-width="0.35"/>
<line x1="127.20" y1="300.56" x2="128.20" y2="300.56" stroke="#555" stroke-width="0.35"/>
<line x1="127.20" y1="297.70" x2="128.20" y2="297.70" stroke="#555" stroke-width="0.35"/>
<line x1="127.20" y1="294.84" x2="128.20" y2="294.84" stroke="#555" stroke-width="0.35"/>
<line x1="127.20" y1="291.98" x2="128.20" y2="291.98" stroke="#555" stroke-width="0.35"/>
<line x1="127.20" y1="289.12" x2="128.20" y2="289.12" stroke="#555" stroke-width="0.35"/>
<line x1="127.20" y1="286.26" x2="128.20" y2="286.26" stroke="#555" stroke-width="0.35"/>
<line x1="127.20" y1="283.40" x2="128.20" y2="283.40" stroke="#555" stroke-width="0.35"/>
<line x1="127.20" y1="280.54" x2="128.20" y2="280.54" stroke="#555" stroke-width="0.35"/>
<line x1="127.20" y1="277.68" x2="128.20" y2="277.68" stroke="#555" stroke-width="0.35"/>
<line x1="127.20" y1="274.82" x2="128.20" y2="274.82" stroke="#555" stroke-width="0.35"/>
<line x1="127.20" y1="271.96" x2="128.20" y2="271.96" stroke="#555" stroke-width="0.35"/>
<line x1="127.20" y1="269.10" x2="128.20" y2="269.10" stroke="#555" stroke-width="0.35"/>
<line x1="127.20" y1="266.24" x2="128.20" y2="266.24" stroke="#555" stroke-width="0.35"/>
<line x1="127.20" y1="263.38" x2="128.20" y2="263.38" stroke="#555" stroke-width="0.35"/>
<line x1="127.20" y1="260.52" x2="128.20" y2="260.52" stroke="#555" stroke-width="0.35"/>
<line x1="127.20" y1="257.66" x2="128.20" y2="257.66" stroke="#555" stroke-width="0.35"/>
<line x1="127.20" y1="254.80" x2="128.20" y2="254.80" stroke="#555" stroke-width="0.35"/>
<line x1="127.20" y1="251.94" x2="128.20" y2="251.94" stroke="#555" stroke-width="0.35"/>
<line x1="127.20" y1="249.08" x2="128.20" y2="249.08" stroke="#555" stroke-width="0.35"/>
<line x1="127.20" y1="246.22" x2="128.20" y2="246.22" stroke="#555" stroke-width="0.35"/>
<line x1="127.20" y1="243.36" x2="128.20" y2="243.36" stroke="#555" stroke-width="0.35"/>
<rect x="219.10" y="237.20" width="76.90" height="75.20" fill="#fff" stroke="#666" stroke-width="0.7"/>
<line x1="219.10" y1="237.20" x2="219.10" y2="312.40" stroke="#333" stroke-width="0.9"/>
<line x1="219.10" y1="312.40" x2="296.00" y2="312.40" stroke="#333" stroke-width="0.9"/>
<text x="257.50" y="233.60" font-size="8.8" text-anchor="middle" font-weight="bold" stroke="#000" stroke-width="0.37" fill="#000">Suit2</text>
<line x1="217.10" y1="312.40" x2="219.10" y2="312.40" stroke="#444" stroke-width="0.6"/>
<text x="216.10" y="313.40" font-size="2.6" text-anchor="end" font-weight="bold" stroke="#333" stroke-width="0.11" fill="#333">0</text>
<line x1="217.10" y1="298.06" x2="219.10" y2="298.06" stroke="#444" stroke-width="0.6"/>
<text x="216.10" y="299.06" font-size="2.6" text-anchor="end" font-weight="bold" stroke="#333" stroke-width="0.11" fill="#333">20</text>
<line x1="217.10" y1="283.72" x2="219.10" y2="283.72" stroke="#444" stroke-width="0.6"/>
<text x="216.10" y="284.72" font-size="2.6" text-anchor="end" font-weight="bold" stroke="#333" stroke-width="0.11" fill="#333">40</text>
<line x1="217.10" y1="269.38" x2="219.10" y2="269.38" stroke="#444" stroke-width="0.6"/>
<text x="216.10" y="270.38" font-size="2.6" text-anchor="end" font-weight="bold" stroke="#333" stroke-width="0.11" fill="#333">60</text>
<line x1="217.10" y1="255.04" x2="219.10" y2="255.04" stroke="#444" stroke-width="0.6"/>
<text x="216.10" y="256.04" font-size="2.6" text-anchor="end" font-weight="bold" stroke="#333" stroke-width="0.11" fill="#333">80</text>
<line x1="217.10" y1="240.70" x2="219.10" y2="240.70" stroke="#444" stroke-width="0.6"/>
<text x="216.10" y="241.70" font-size="2.6" text-anchor="end" font-weight="bold" stroke="#333" stroke-width="0.11" fill="#333">100</text>
<line x1="228.33" y1="312.40" x2="228.33" y2="314.40" stroke="#444" stroke-width="0.6"/>
<text x="228.33" y="318.00" font-size="2.6" text-anchor="middle" font-weight="bold" stroke="#333" stroke-width="0.11" fill="#333">10</text>
<text x="230.53" y="316.60" font-size="1.8" text-anchor="middle" font-weight="bold" stroke="#333" stroke-width="0.08" fill="#333">1</text>
<line x1="243.55" y1="312.40" x2="243.55" y2="314.40" stroke="#444" stroke-width="0.6"/>
<text x="243.55" y="318.00" font-size="2.6" text-anchor="middle" font-weight="bold" stroke="#333" stroke-width="0.11" fill="#333">10</text>
<text x="245.75" y="316.60" font-size="1.8" text-anchor="middle" font-weight="bold" stroke="#333" stroke-width="0.08" fill="#333">2</text>
<line x1="258.78" y1="312.40" x2="258.78" y2="314.40" stroke="#444" stroke-width="0.6"/>
<text x="258.78" y="318.00" font-size="2.6" text-anchor="middle" font-weight="bold" stroke="#333" stroke-width="0.11" fill="#333">10</text>
<text x="260.98" y="316.60" font-size="1.8" text-anchor="middle" font-weight="bold" stroke="#333" stroke-width="0.08" fill="#333">3</text>
<line x1="274.01" y1="312.40" x2="274.01" y2="314.40" stroke="#444" stroke-width="0.6"/>
<text x="274.01" y="318.00" font-size="2.6" text-anchor="middle" font-weight="bold" stroke="#333" stroke-width="0.11" fill="#333">10</text>
<text x="276.21" y="316.60" font-size="1.8" text-anchor="middle" font-weight="bold" stroke="#333" stroke-width="0.08" fill="#333">4</text>
<line x1="289.23" y1="312.40" x2="289.23" y2="314.40" stroke="#444" stroke-width="0.6"/>
<text x="289.23" y="318.00" font-size="2.6" text-anchor="middle" font-weight="bold" stroke="#333" stroke-width="0.11" fill="#333">10</text>
<text x="291.43" y="316.60" font-size="1.8" text-anchor="middle" font-weight="bold" stroke="#333" stroke-width="0.08" fill="#333">5</text>
<line x1="220.37" y1="312.40" x2="220.37" y2="313.60" stroke="#444" stroke-width="0.4"/>
<line x1="222.27" y1="312.40" x2="222.27" y2="313.60" stroke="#444" stroke-width="0.4"/>
<line x1="223.74" y1="312.40" x2="223.74" y2="313.60" stroke="#444" stroke-width="0.4"/>
<line x1="224.95" y1="312.40" x2="224.95" y2="313.60" stroke="#444" stroke-width="0.4"/>
<line x1="225.97" y1="312.40" x2="225.97" y2="313.60" stroke="#444" stroke-width="0.4"/>
<line x1="226.85" y1="312.40" x2="226.85" y2="313.60" stroke="#444" stroke-width="0.4"/>
<line x1="227.63" y1="312.40" x2="227.63" y2="313.60" stroke="#444" stroke-width="0.4"/>
<line x1="232.91" y1="312.40" x2="232.91" y2="313.60" stroke="#444" stroke-width="0.4"/>
<line x1="235.59" y1="312.40" x2="235.59" y2="313.60" stroke="#444" stroke-width="0.4"/>
<line x1="237.50" y1="312.40" x2="237.50" y2="313.60" stroke="#444" stroke-width="0.4"/>
<line x1="238.97" y1="312.40" x2="238.97" y2="313.60" stroke="#444" stroke-width="0.4"/>
<line x1="240.18" y1="312.40" x2="240.18" y2="313.60" stroke="#444" stroke-width="0.4"/>
<line x1="241.20" y1="312.40" x2="241.20" y2="313.60" stroke="#444" stroke-width="0.4"/>
<line x1="242.08" y1="312.40" x2="242.08" y2="313.60" stroke="#444" stroke-width="0.4"/>
<line x1="242.86" y1="312.40" x2="242.86" y2="313.60" stroke="#444" stroke-width="0.4"/>
<line x1="248.14" y1="312.40" x2="248.14" y2="313.60" stroke="#444" stroke-width="0.4"/>
<line x1="250.82" y1="312.40" x2="250.82" y2="313.60" stroke="#444" stroke-width="0.4"/>
<line x1="252.72" y1="312.40" x2="252.72" y2="313.60" stroke="#444" stroke-width="0.4"/>
<line x1="254.20" y1="312.40" x2="254.20" y2="313.60" stroke="#444" stroke-width="0.4"/>
<line x1="255.40" y1="312.40" x2="255.40" y2="313.60" stroke="#444" stroke-width="0.4"/>
<line x1="256.42" y1="312.40" x2="256.42" y2="313.60" stroke="#444" stroke-width="0.4"/>
<line x1="257.30" y1="312.40" x2="257.30" y2="313.60" stroke="#444" stroke-width="0.4"/>
<line x1="258.08" y1="312.40" x2="258.08" y2="313.60" stroke="#444" stroke-width="0.4"/>
<line x1="263.36" y1="312.40" x2="263.36" y2="313.60" stroke="#444" stroke-width="0.4"/>
<line x1="266.05" y1="312.40" x2="266.05" y2="313.60" stroke="#444" stroke-width="0.4"/>
<line x1="267.95" y1="312.40" x2="267.95" y2="313.60" stroke="#444" stroke-width="0.4"/>
<line x1="269.42" y1="312.40" x2="269.42" y2="313.60" stroke="#444" stroke-width="0.4"/>
<line x1="270.63" y1="312.40" x2="270.63" y2="313.60" stroke="#444" stroke-width="0.4"/>
<line x1="271.65" y1="312.40" x2="271.65" y2="313.60" stroke="#444" stroke-width="0.4"/>
<line x1="272.53" y1="312.40" x2="272.53" y2="313.60" stroke="#444" stroke-width="0.4"/>
<line x1="273.31" y1="312.40" x2="273.31" y2="313.60" stroke="#444" stroke-width="0.4"/>
<line x1="278.59" y1="312.40" x2="278.59" y2="313.60" stroke="#444" stroke-width="0.4"/>
<line x1="281.27" y1="312.40" x2="281.27" y2="313.60" stroke="#444" stroke-width="0.4"/>
<line x1="283.17" y1="312.40" x2="283.17" y2="313.60" stroke="#444" stroke-width="0.4"/>
<line x1="284.65" y1="312.40" x2="284.65" y2="313.60" stroke="#444" stroke-width="0.4"/>
<line x1="285.85" y1="312.40" x2="285.85" y2="313.60" stroke="#444" stroke-width="0.4"/>
<line x1="286.87" y1="312.40" x2="286.87" y2="313.60" stroke="#444" stroke-width="0.4"/>
<line x1="287.76" y1="312.40" x2="287.76" y2="313.60" stroke="#444" stroke-width="0.4"/>
<line x1="288.54" y1="312.40" x2="288.54" y2="313.60" stroke="#444" stroke-width="0.4"/>
<line x1="293.82" y1="312.40" x2="293.82" y2="313.60" stroke="#444" stroke-width="0.4"/>
<line x1="218.10" y1="312.40" x2="219.10" y2="312.40" stroke="#555" stroke-width="0.35"/>
<line x1="218.10" y1="309.53" x2="219.10" y2="309.53" stroke="#555" stroke-width="0.35"/>
<line x1="218.10" y1="306.66" x2="219.10" y2="306.66" stroke="#555" stroke-width="0.35"/>
<line x1="218.10" y1="303.80" x2="219.10" y2="303.80" stroke="#555" stroke-width="0.35"/>
<line x1="218.10" y1="300.93" x2="219.10" y2="300.93" stroke="#555" stroke-width="0.35"/>
<line x1="218.10" y1="298.06" x2="219.10" y2="298.06" stroke="#555" stroke-width="0.35"/>
<line x1="218.10" y1="295.19" x2="219.10" y2="295.19" stroke="#555" stroke-width="0.35"/>
<line x1="218.10" y1="292.32" x2="219.10" y2="292.32" stroke="#555" stroke-width="0.35"/>
<line x1="218.10" y1="289.46" x2="219.10" y2="289.46" stroke="#555" stroke-width="0.35"/>
<line x1="218.10" y1="286.59" x2="219.10" y2="286.59" stroke="#555" stroke-width="0.35"/>
<line x1="218.10" y1="283.72" x2="219.10" y2="283.72" stroke="#555" stroke-width="0.35"/>
<line x1="218.10" y1="280.85" x2="219.10" y2="280.85" stroke="#555" stroke-width="0.35"/>
<line x1="218.10" y1="277.98" x2="219.10" y2="277.98" stroke="#555" stroke-width="0.35"/>
<line x1="218.10" y1="275.12" x2="219.10" y2="275.12" stroke="#555" stroke-width="0.35"/>
<line x1="218.10" y1="272.25" x2="219.10" y2="272.25" stroke="#555" stroke-width="0.35"/>
<line x1="218.10" y1="269.38" x2="219.10" y2="269.38" stroke="#555" stroke-width="0.35"/>
<line x1="218.10" y1="266.51" x2="219.10" y2="266.51" stroke="#555" stroke-width="0.35"/>
<line x1="218.10" y1="263.64" x2="219.10" y2="263.64" stroke="#555" stroke-width="0.35"/>
<line x1="218.10" y1="260.78" x2="219.10" y2="260.78" stroke="#555" stroke-width="0.35"/>
<line x1="218.10" y1="257.91" x2="219.10" y2="257.91" stroke="#555" stroke-width="0.35"/>
<line x1="218.10" y1="255.04" x2="219.10" y2="255.04" stroke="#555" stroke-width="0.35"/>
<line x1="218.10" y1="252.17" x2="219.10" y2="252.17" stroke="#555" stroke-width="0.35"/>
<line x1="218.10" y1="249.30" x2="219.10" y2="249.30" stroke="#555" stroke-width="0.35"/>
<line x1="218.10" y1="246.44" x2="219.10" y2="246.44" stroke="#555" stroke-width="0.35"/>
<line x1="218.10" y1="243.57" x2="219.10" y2="243.57" stroke="#555" stroke-width="0.35"/>
<rect x="307.60" y="237.40" width="76.30" height="75.60" fill="#fff" stroke="#666" stroke-width="0.7"/>
<line x1="307.60" y1="237.40" x2="307.60" y2="313.00" stroke="#333" stroke-width="0.9"/>
<line x1="307.60" y1="313.00" x2="383.90" y2="313.00" stroke="#333" stroke-width="0.9"/>
<text x="340.70" y="233.60" font-size="8.8" text-anchor="middle" font-weight="bold" stroke="#000" stroke-width="0.37" fill="#000">Panc1</text>
<line x1="305.60" y1="313.00" x2="307.60" y2="313.00" stroke="#444" stroke-width="0.6"/>
<text x="304.60" y="314.00" font-size="2.6" text-anchor="end" font-weight="bold" stroke="#333" stroke-width="0.11" fill="#333">0</text>
<line x1="305.60" y1="298.58" x2="307.60" y2="298.58" stroke="#444" stroke-width="0.6"/>
<text x="304.60" y="299.58" font-size="2.6" text-anchor="end" font-weight="bold" stroke="#333" stroke-width="0.11" fill="#333">20</text>
<line x1="305.60" y1="284.16" x2="307.60" y2="284.16" stroke="#444" stroke-width="0.6"/>
<text x="304.60" y="285.16" font-size="2.6" text-anchor="end" font-weight="bold" stroke="#333" stroke-width="0.11" fill="#333">40</text>
<line x1="305.60" y1="269.74" x2="307.60" y2="269.74" stroke="#444" stroke-width="0.6"/>
<text x="304.60" y="270.74" font-size="2.6" text-anchor="end" font-weight="bold" stroke="#333" stroke-width="0.11" fill="#333">60</text>
<line x1="305.60" y1="255.32" x2="307.60" y2="255.32" stroke="#444" stroke-width="0.6"/>
<text x="304.60" y="256.32" font-size="2.6" text-anchor="end" font-weight="bold" stroke="#333" stroke-width="0.11" fill="#333">80</text>
<line x1="305.60" y1="240.90" x2="307.60" y2="240.90" stroke="#444" stroke-width="0.6"/>
<text x="304.60" y="241.90" font-size="2.6" text-anchor="end" font-weight="bold" stroke="#333" stroke-width="0.11" fill="#333">100</text>
<line x1="316.76" y1="313.00" x2="316.76" y2="315.00" stroke="#444" stroke-width="0.6"/>
<text x="316.76" y="318.60" font-size="2.6" text-anchor="middle" font-weight="bold" stroke="#333" stroke-width="0.11" fill="#333">10</text>
<text x="318.96" y="317.20" font-size="1.8" text-anchor="middle" font-weight="bold" stroke="#333" stroke-width="0.08" fill="#333">1</text>
<line x1="331.86" y1="313.00" x2="331.86" y2="315.00" stroke="#444" stroke-width="0.6"/>
<text x="331.86" y="318.60" font-size="2.6" text-anchor="middle" font-weight="bold" stroke="#333" stroke-width="0.11" fill="#333">10</text>
<text x="334.06" y="317.20" font-size="1.8" text-anchor="middle" font-weight="bold" stroke="#333" stroke-width="0.08" fill="#333">2</text>
<line x1="346.97" y1="313.00" x2="346.97" y2="315.00" stroke="#444" stroke-width="0.6"/>
<text x="346.97" y="318.60" font-size="2.6" text-anchor="middle" font-weight="bold" stroke="#333" stroke-width="0.11" fill="#333">10</text>
<text x="349.17" y="317.20" font-size="1.8" text-anchor="middle" font-weight="bold" stroke="#333" stroke-width="0.08" fill="#333">3</text>
<line x1="362.08" y1="313.00" x2="362.08" y2="315.00" stroke="#444" stroke-width="0.6"/>
<text x="362.08" y="318.60" font-size="2.6" text-anchor="middle" font-weight="bold" stroke="#333" stroke-width="0.11" fill="#333">10</text>
<text x="364.28" y="317.20" font-size="1.8" text-anchor="middle" font-weight="bold" stroke="#333" stroke-width="0.08" fill="#333">4</text>
<line x1="377.19" y1="313.00" x2="377.19" y2="315.00" stroke="#444" stroke-width="0.6"/>
<text x="377.19" y="318.60" font-size="2.6" text-anchor="middle" font-weight="bold" stroke="#333" stroke-width="0.11" fill="#333">10</text>
<text x="379.39" y="317.20" font-size="1.8" text-anchor="middle" font-weight="bold" stroke="#333" stroke-width="0.08" fill="#333">5</text>
<line x1="308.86" y1="313.00" x2="308.86" y2="314.20" stroke="#444" stroke-width="0.4"/>
<line x1="310.74" y1="313.00" x2="310.74" y2="314.20" stroke="#444" stroke-width="0.4"/>
<line x1="312.21" y1="313.00" x2="312.21" y2="314.20" stroke="#444" stroke-width="0.4"/>
<line x1="313.40" y1="313.00" x2="313.40" y2="314.20" stroke="#444" stroke-width="0.4"/>
<line x1="314.42" y1="313.00" x2="314.42" y2="314.20" stroke="#444" stroke-width="0.4"/>
<line x1="315.29" y1="313.00" x2="315.29" y2="314.20" stroke="#444" stroke-width="0.4"/>
<line x1="316.06" y1="313.00" x2="316.06" y2="314.20" stroke="#444" stroke-width="0.4"/>
<line x1="321.30" y1="313.00" x2="321.30" y2="314.20" stroke="#444" stroke-width="0.4"/>
<line x1="323.96" y1="313.00" x2="323.96" y2="314.20" stroke="#444" stroke-width="0.4"/>
<line x1="325.85" y1="313.00" x2="325.85" y2="314.20" stroke="#444" stroke-width="0.4"/>
<line x1="327.32" y1="313.00" x2="327.32" y2="314.20" stroke="#444" stroke-width="0.4"/>
<line x1="328.51" y1="313.00" x2="328.51" y2="314.20" stroke="#444" stroke-width="0.4"/>
<line x1="329.52" y1="313.00" x2="329.52" y2="314.20" stroke="#444" stroke-width="0.4"/>
<line x1="330.40" y1="313.00" x2="330.40" y2="314.20" stroke="#444" stroke-width="0.4"/>
<line x1="331.17" y1="313.00" x2="331.17" y2="314.20" stroke="#444" stroke-width="0.4"/>
<line x1="336.41" y1="313.00" x2="336.41" y2="314.20" stroke="#444" stroke-width="0.4"/>
<line x1="339.07" y1="313.00" x2="339.07" y2="314.20" stroke="#444" stroke-width="0.4"/>
<line x1="340.96" y1="313.00" x2="340.96" y2="314.20" stroke="#444" stroke-width="0.4"/>
<line x1="342.42" y1="313.00" x2="342.42" y2="314.20" stroke="#444" stroke-width="0.4"/>
<line x1="343.62" y1="313.00" x2="343.62" y2="314.20" stroke="#444" stroke-width="0.4"/>
<line x1="344.63" y1="313.00" x2="344.63" y2="314.20" stroke="#444" stroke-width="0.4"/>
<line x1="345.51" y1="313.00" x2="345.51" y2="314.20" stroke="#444" stroke-width="0.4"/>
<line x1="346.28" y1="313.00" x2="346.28" y2="314.20" stroke="#444" stroke-width="0.4"/>
<line x1="351.52" y1="313.00" x2="351.52" y2="314.20" stroke="#444" stroke-width="0.4"/>
<line x1="354.18" y1="313.00" x2="354.18" y2="314.20" stroke="#444" stroke-width="0.4"/>
<line x1="356.07" y1="313.00" x2="356.07" y2="314.20" stroke="#444" stroke-width="0.4"/>
<line x1="357.53" y1="313.00" x2="357.53" y2="314.20" stroke="#444" stroke-width="0.4"/>
<line x1="358.73" y1="313.00" x2="358.73" y2="314.20" stroke="#444" stroke-width="0.4"/>
<line x1="359.74" y1="313.00" x2="359.74" y2="314.20" stroke="#444" stroke-width="0.4"/>
<line x1="360.61" y1="313.00" x2="360.61" y2="314.20" stroke="#444" stroke-width="0.4"/>
<line x1="361.39" y1="313.00" x2="361.39" y2="314.20" stroke="#444" stroke-width="0.4"/>
<line x1="366.63" y1="313.00" x2="366.63" y2="314.20" stroke="#444" stroke-width="0.4"/>
<line x1="369.29" y1="313.00" x2="369.29" y2="314.20" stroke="#444" stroke-width="0.4"/>
<line x1="371.17" y1="313.00" x2="371.17" y2="314.20" stroke="#444" stroke-width="0.4"/>
<line x1="372.64" y1="313.00" x2="372.64" y2="314.20" stroke="#444" stroke-width="0.4"/>
<line x1="373.83" y1="313.00" x2="373.83" y2="314.20" stroke="#444" stroke-width="0.4"/>
<line x1="374.85" y1="313.00" x2="374.85" y2="314.20" stroke="#444" stroke-width="0.4"/>
<line x1="375.72" y1="313.00" x2="375.72" y2="314.20" stroke="#444" stroke-width="0.4"/>
<line x1="376.49" y1="313.00" x2="376.49" y2="314.20" stroke="#444" stroke-width="0.4"/>
<line x1="381.73" y1="313.00" x2="381.73" y2="314.20" stroke="#444" stroke-width="0.4"/>
<line x1="306.60" y1="313.00" x2="307.60" y2="313.00" stroke="#555" stroke-width="0.35"/>
<line x1="306.60" y1="310.12" x2="307.60" y2="310.12" stroke="#555" stroke-width="0.35"/>
<line x1="306.60" y1="307.23" x2="307.60" y2="307.23" stroke="#555" stroke-width="0.35"/>
<line x1="306.60" y1="304.35" x2="307.60" y2="304.35" stroke="#555" stroke-width="0.35"/>
<line x1="306.60" y1="301.46" x2="307.60" y2="301.46" stroke="#555" stroke-width="0.35"/>
<line x1="306.60" y1="298.58" x2="307.60" y2="298.58" stroke="#555" stroke-width="0.35"/>
<line x1="306.60" y1="295.70" x2="307.60" y2="295.70" stroke="#555" stroke-width="0.35"/>
<line x1="306.60" y1="292.81" x2="307.60" y2="292.81" stroke="#555" stroke-width="0.35"/>
<line x1="306.60" y1="289.93" x2="307.60" y2="289.93" stroke="#555" stroke-width="0.35"/>
<line x1="306.60" y1="287.04" x2="307.60" y2="287.04" stroke="#555" stroke-width="0.35"/>
<line x1="306.60" y1="284.16" x2="307.60" y2="284.16" stroke="#555" stroke-width="0.35"/>
<line x1="306.60" y1="281.28" x2="307.60" y2="281.28" stroke="#555" stroke-width="0.35"/>
<line x1="306.60" y1="278.39" x2="307.60" y2="278.39" stroke="#555" stroke-width="0.35"/>
<line x1="306.60" y1="275.51" x2="307.60" y2="275.51" stroke="#555" stroke-width="0.35"/>
<line x1="306.60" y1="272.62" x2="307.60" y2="272.62" stroke="#555" stroke-width="0.35"/>
<line x1="306.60" y1="269.74" x2="307.60" y2="269.74" stroke="#555" stroke-width="0.35"/>
<line x1="306.60" y1="266.86" x2="307.60" y2="266.86" stroke="#555" stroke-width="0.35"/>
<line x1="306.60" y1="263.97" x2="307.60" y2="263.97" stroke="#555" stroke-width="0.35"/>
<line x1="306.60" y1="261.09" x2="307.60" y2="261.09" stroke="#555" stroke-width="0.35"/>
<line x1="306.60" y1="258.20" x2="307.60" y2="258.20" stroke="#555" stroke-width="0.35"/>
<line x1="306.60" y1="255.32" x2="307.60" y2="255.32" stroke="#555" stroke-width="0.35"/>
<line x1="306.60" y1="252.44" x2="307.60" y2="252.44" stroke="#555" stroke-width="0.35"/>
<line x1="306.60" y1="249.55" x2="307.60" y2="249.55" stroke="#555" stroke-width="0.35"/>
<line x1="306.60" y1="246.67" x2="307.60" y2="246.67" stroke="#555" stroke-width="0.35"/>
<line x1="306.60" y1="243.78" x2="307.60" y2="243.78" stroke="#555" stroke-width="0.35"/>
<path d="M57.40,311.40 L57.71,311.40 L58.04,310.22 L58.36,310.71 L58.70,310.59 L59.04,309.32 L59.39,309.26 L59.74,308.53 L60.10,307.81 L60.47,306.85 L60.84,306.10 L61.22,305.25 L61.61,302.66 L62.00,302.27 L62.40,300.31 L62.81,298.91 L63.24,296.53 L63.67,295.61 L64.12,294.62 L64.58,291.42 L65.04,289.12 L65.50,287.46 L65.97,286.83 L66.42,286.37 L66.88,284.14 L67.34,282.92 L67.81,280.57 L68.27,279.83 L68.73,277.51 L69.18,276.66 L69.62,274.91 L70.05,273.57 L70.47,272.82 L70.89,271.39 L71.30,271.32 L71.70,269.71 L72.09,268.88 L72.46,267.59 L72.80,267.65 L73.12,265.82 L73.41,265.96 L73.68,264.85 L73.93,264.02 L74.18,263.76 L74.42,263.07 L74.66,262.81 L74.91,262.06 L75.17,261.60 L75.42,260.73 L75.67,259.17 L75.92,257.97 L76.18,256.84 L76.44,255.09 L76.70,254.55 L76.98,253.52 L77.28,252.17 L77.60,252.42 L77.93,250.68 L78.26,249.22 L78.60,248.21 L78.93,247.41 L79.26,246.40 L79.57,246.42 L79.88,244.42 L80.19,243.67 L80.50,242.30 L80.80,242.11 L81.08,239.84 L81.35,239.74 L81.59,239.48 L81.80,239.75 L81.99,240.33 L82.15,240.86 L82.30,242.68 L82.45,243.61 L82.61,246.09 L82.77,245.08 L82.96,247.18 L83.17,246.92 L83.41,247.64 L83.67,249.69 L83.94,250.04 L84.22,248.52 L84.50,249.89 L84.77,250.46 L85.01,249.86 L85.25,251.53 L85.47,252.27 L85.69,252.67 L85.90,251.97 L86.12,254.24 L86.33,254.42 L86.55,255.00 L86.78,255.51 L87.00,257.62 L87.24,259.41 L87.47,260.59 L87.70,263.03 L87.94,265.62 L88.17,266.23 L88.41,269.35 L88.64,270.03 L88.88,272.33 L89.11,274.83 L89.35,276.21 L89.58,277.76 L89.82,279.48 L90.05,281.72 L90.27,283.22 L90.50,283.93 L90.72,286.03 L90.93,287.09 L91.14,290.11 L91.36,289.80 L91.58,291.41 L91.81,292.73 L92.04,293.97 L92.28,295.57 L92.54,296.91 L92.80,297.11 L93.06,298.89 L93.33,299.63 L93.59,302.13 L93.86,303.82 L94.12,304.18 L94.38,304.53 L94.65,305.82 L94.92,306.22 L95.18,307.85 L95.44,308.05 L95.69,308.20 L95.94,308.25 L96.16,308.97 L96.39,309.92 L96.61,309.47 L96.82,310.38 L97.02,311.40 L97.22,311.10 L97.42,311.40 L97.60,311.40" stroke="#38c4e4" stroke-width="0.95" fill="none" stroke-linejoin="round" stroke-linecap="round"/>
<path d="M51.00,311.40 L51.35,311.40 L51.69,311.40 L52.04,311.40 L52.38,311.40 L52.73,309.96 L53.07,310.67 L53.42,309.66 L53.76,309.26 L54.11,309.06 L54.45,308.18 L54.80,307.87 L55.14,306.20 L55.49,304.33 L55.83,302.81 L56.18,300.91 L56.53,299.60 L56.87,296.65 L57.22,294.77 L57.58,291.43 L57.94,287.35 L58.31,285.65 L58.68,282.14 L59.03,277.60 L59.37,275.69 L59.69,270.32 L59.98,268.19 L60.25,265.34 L60.52,263.50 L60.77,260.70 L61.01,257.31 L61.24,254.92 L61.46,251.95 L61.66,249.39 L61.86,248.70 L62.04,247.83 L62.21,247.44 L62.37,246.48 L62.51,244.74 L62.65,244.01 L62.79,242.93 L62.93,242.20 L63.07,241.67 L63.23,243.49 L63.40,242.14 L63.57,242.31 L63.76,242.11 L63.95,243.58 L64.15,242.70 L64.35,243.98 L64.55,244.17 L64.76,245.49 L64.97,245.64 L65.19,246.08 L65.41,247.88 L65.63,249.58 L65.85,251.06 L66.09,253.02 L66.32,254.41 L66.56,256.49 L66.80,258.19 L67.05,260.12 L67.30,261.61 L67.55,262.89 L67.80,265.74 L68.07,267.25 L68.33,268.42 L68.60,271.41 L68.88,272.49 L69.16,274.83 L69.44,277.00 L69.74,278.52 L70.04,280.95 L70.34,281.52 L70.65,284.28 L70.97,285.50 L71.29,287.13 L71.61,288.92 L71.94,290.56 L72.27,292.16 L72.61,292.87 L72.97,295.35 L73.32,296.40 L73.68,296.51 L74.04,299.30 L74.38,300.53 L74.72,301.01 L75.04,300.98 L75.35,301.11 L75.64,302.85 L75.93,302.56 L76.22,303.92 L76.50,303.80 L76.78,304.62 L77.06,304.65 L77.34,305.20 L77.63,305.16 L77.91,306.49 L78.19,305.94 L78.47,306.44 L78.75,307.58 L79.03,306.09 L79.32,306.36 L79.62,307.76 L79.92,306.65 L80.24,308.37 L80.57,307.06 L80.91,306.87 L81.26,308.32 L81.61,308.06 L81.96,308.25 L82.32,307.71 L82.67,306.73 L83.02,308.25 L83.36,307.09 L83.69,307.77 L84.02,307.98 L84.35,307.54 L84.69,308.15 L85.03,308.52 L85.39,308.42 L85.76,307.79 L86.15,308.72 L86.57,309.46 L87.01,308.52 L87.47,308.99 L87.94,309.01 L88.42,310.44 L88.91,309.97 L89.38,310.00 L89.86,309.52 L90.32,310.41 L90.78,309.91 L91.24,310.46 L91.70,310.26 L92.16,311.14 L92.62,311.24 L93.08,310.97 L93.54,311.40 L94.00,310.80" stroke="#e0605c" stroke-width="0.95" fill="none" stroke-linejoin="round" stroke-linecap="round"/>
<path d="M163.30,312.00 L163.66,310.88 L164.02,309.80 L164.40,306.73 L164.77,308.43 L165.15,307.14 L165.54,305.91 L165.93,305.73 L166.33,304.77 L166.73,302.19 L167.15,301.19 L167.58,300.35 L168.03,300.22 L168.48,298.76 L168.93,295.55 L169.36,294.42 L169.77,294.99 L170.16,294.61 L170.52,291.84 L170.85,290.00 L171.15,290.57 L171.44,287.98 L171.73,287.87 L172.02,287.62 L172.32,285.72 L172.64,284.31 L172.98,284.27 L173.36,282.34 L173.78,282.35 L174.24,281.56 L174.70,281.58 L175.17,280.96 L175.63,280.91 L176.06,280.31 L176.44,280.31 L176.78,279.71 L177.07,279.21 L177.33,279.43 L177.57,275.49 L177.79,277.24 L178.02,274.55 L178.25,272.36 L178.50,272.22 L178.77,271.30 L179.08,271.11 L179.42,267.73 L179.80,267.69 L180.19,266.23 L180.60,263.07 L181.01,262.23 L181.41,262.73 L181.80,261.62 L182.16,260.92 L182.50,259.34 L182.83,258.19 L183.16,256.92 L183.48,257.04 L183.79,254.09 L184.10,253.97 L184.39,253.78 L184.68,251.21 L184.95,253.63 L185.22,251.15 L185.48,251.55 L185.73,253.48 L185.98,250.24 L186.22,250.30 L186.45,252.16 L186.68,249.29 L186.89,249.69 L187.10,250.38 L187.30,250.02 L187.50,249.85 L187.69,249.30 L187.87,249.97 L188.05,249.37 L188.22,248.72 L188.40,247.29 L188.57,247.19 L188.74,246.03 L188.91,248.75 L189.07,246.44 L189.23,249.40 L189.39,250.66 L189.55,248.07 L189.71,248.77 L189.86,249.28 L190.02,250.86 L190.17,249.41 L190.32,250.36 L190.46,250.17 L190.60,250.66 L190.74,252.45 L190.89,250.47 L191.04,251.83 L191.20,252.42 L191.38,253.51 L191.56,252.31 L191.76,256.00 L191.97,256.94 L192.18,259.24 L192.39,260.45 L192.61,260.83 L192.83,263.89 L193.05,267.34 L193.26,268.47 L193.47,270.40 L193.67,274.34 L193.88,276.91 L194.09,276.87 L194.30,281.03 L194.53,279.27 L194.77,281.34 L195.02,286.29 L195.29,287.22 L195.58,290.19 L195.88,292.28 L196.20,293.79 L196.53,296.60 L196.85,297.97 L197.18,298.01 L197.50,301.24 L197.82,302.41 L198.13,305.15 L198.44,303.21 L198.74,305.30 L199.05,305.73 L199.36,306.81 L199.67,309.31 L199.99,308.67 L200.30,308.38 L200.62,309.49 L200.94,310.57 L201.26,309.26 L201.58,310.40 L201.90,312.00 L202.22,312.00 L202.55,311.60 L202.87,311.38 L203.20,311.85" stroke="#38c4e4" stroke-width="0.95" fill="none" stroke-linejoin="round" stroke-linecap="round"/>
<path d="M160.60,312.00 L161.01,310.43 L161.41,309.34 L161.81,307.43 L162.20,307.83 L162.58,302.96 L162.95,305.18 L163.31,300.73 L163.66,299.77 L164.01,297.06 L164.35,296.19 L164.69,289.65 L165.02,288.07 L165.34,284.50 L165.65,282.47 L165.95,276.76 L166.24,274.43 L166.51,270.80 L166.75,269.16 L166.98,267.16 L167.19,262.98 L167.40,262.80 L167.59,260.27 L167.79,257.76 L167.98,256.27 L168.18,253.08 L168.39,252.35 L168.60,250.47 L168.81,250.15 L169.02,250.04 L169.23,247.99 L169.45,247.54 L169.67,246.60 L169.89,245.88 L170.12,245.60 L170.36,245.91 L170.61,244.49 L170.87,245.54 L171.13,246.68 L171.40,245.51 L171.68,244.36 L171.95,243.50 L172.22,243.52 L172.49,245.90 L172.75,244.30 L173.00,243.89 L173.26,245.22 L173.51,247.82 L173.76,246.67 L174.01,248.10 L174.26,248.78 L174.52,249.14 L174.77,249.34 L175.02,251.19 L175.27,252.62 L175.52,254.86 L175.77,256.65 L176.02,258.32 L176.27,259.21 L176.53,261.25 L176.79,260.88 L177.05,263.93 L177.31,264.08 L177.58,264.08 L177.85,265.62 L178.12,265.76 L178.40,267.64 L178.68,268.69 L178.96,270.03 L179.25,267.14 L179.55,267.83 L179.86,269.54 L180.18,271.01 L180.50,272.53 L180.83,272.76 L181.16,271.19 L181.49,273.63 L181.82,275.44 L182.14,275.43 L182.45,276.49 L182.76,276.03 L183.05,276.57 L183.35,277.44 L183.64,278.11 L183.95,278.30 L184.26,278.57 L184.59,278.05 L184.95,279.30 L185.34,279.18 L185.78,280.30 L186.25,280.46 L186.73,279.52 L187.21,279.03 L187.66,278.85 L188.07,280.01 L188.43,279.79 L188.72,279.54 L188.96,280.16 L189.17,279.80 L189.37,281.49 L189.55,280.77 L189.73,282.91 L189.91,282.61 L190.11,283.36 L190.34,282.25 L190.59,284.17 L190.86,285.55 L191.15,284.80 L191.45,286.54 L191.76,287.96 L192.08,287.73 L192.42,290.62 L192.77,292.35 L193.12,291.81 L193.50,294.24 L193.90,293.88 L194.32,296.52 L194.76,296.33 L195.20,300.44 L195.65,301.05 L196.10,301.85 L196.53,302.21 L196.96,305.22 L197.38,306.84 L197.82,303.92 L198.25,307.88 L198.68,309.08 L199.10,308.54 L199.51,307.67 L199.91,310.29 L200.29,309.70 L200.65,309.64 L201.00,309.35 L201.34,311.46 L201.68,312.00 L202.00,310.84 L202.32,312.00 L202.62,310.71 L202.92,312.00 L203.20,312.00" stroke="#e0605c" stroke-width="0.95" fill="none" stroke-linejoin="round" stroke-linecap="round"/>
<path d="M237.40,312.40 L237.94,311.94 L238.47,312.19 L238.98,310.73 L239.47,311.58 L239.95,309.73 L240.42,309.92 L240.86,309.16 L241.29,307.99 L241.71,308.95 L242.11,305.72 L242.50,304.77 L242.87,303.43 L243.23,300.37 L243.58,299.92 L243.92,297.22 L244.26,295.68 L244.58,292.19 L244.90,289.53 L245.20,288.09 L245.49,285.04 L245.76,282.30 L246.01,280.24 L246.24,277.96 L246.45,274.85 L246.64,272.13 L246.83,270.34 L247.02,268.30 L247.22,266.18 L247.44,265.28 L247.68,263.71 L247.93,262.39 L248.19,261.01 L248.46,259.23 L248.74,257.94 L249.03,256.84 L249.33,255.08 L249.63,254.15 L249.96,253.44 L250.31,251.90 L250.66,250.86 L251.02,250.16 L251.38,250.18 L251.72,249.13 L252.03,248.62 L252.32,248.68 L252.59,249.41 L252.86,251.39 L253.12,249.27 L253.38,252.23 L253.65,253.02 L253.94,254.29 L254.24,254.08 L254.56,256.87 L254.90,257.32 L255.24,257.87 L255.59,259.14 L255.94,259.83 L256.31,261.42 L256.68,262.46 L257.06,264.20 L257.46,265.03 L257.87,265.95 L258.28,267.55 L258.68,268.69 L259.08,269.75 L259.46,270.06 L259.83,272.80 L260.18,272.99 L260.53,274.50 L260.88,276.44 L261.23,278.23 L261.58,280.15 L261.94,279.85 L262.31,282.99 L262.68,284.51 L263.06,284.79 L263.43,286.35 L263.82,287.52 L264.21,288.79 L264.61,289.55 L265.01,290.41 L265.42,292.19 L265.84,293.35 L266.26,295.07 L266.70,294.33 L267.15,294.51 L267.62,296.49 L268.11,296.90 L268.63,298.08 L269.20,298.38 L269.79,298.60 L270.39,299.58 L270.99,301.04 L271.58,301.34 L272.14,301.21 L272.68,302.75 L273.22,301.99 L273.75,302.98 L274.27,303.85 L274.78,303.42 L275.29,303.90 L275.79,304.89 L276.28,305.10 L276.76,305.23 L277.22,305.26 L277.68,305.14 L278.14,305.48 L278.61,307.75 L279.11,305.91 L279.64,307.28 L280.21,306.35 L280.81,307.65 L281.42,307.82 L282.06,307.62 L282.70,307.25 L283.34,307.05 L283.97,308.52 L284.60,307.45 L285.25,307.62 L285.91,309.31 L286.57,309.41 L287.21,308.76 L287.82,308.73 L288.40,308.60 L288.93,309.25 L289.44,308.86 L289.92,308.35 L290.38,308.82 L290.83,309.43 L291.27,308.48 L291.70,308.90 L292.14,309.60 L292.57,310.59 L292.99,309.93 L293.41,310.04 L293.82,311.30 L294.22,309.89 L294.61,310.33 L295.00,311.46" stroke="#38c4e4" stroke-width="0.95" fill="none" stroke-linejoin="round" stroke-linecap="round"/>
<path d="M232.00,312.17 L232.54,312.28 L233.07,310.90 L233.62,312.40 L234.16,310.22 L234.71,310.16 L235.27,310.23 L235.82,308.55 L236.39,307.77 L237.00,306.48 L237.63,305.49 L238.26,304.34 L238.86,300.80 L239.42,297.75 L239.93,296.26 L240.35,293.31 L240.73,291.09 L241.09,289.00 L241.42,285.08 L241.73,282.62 L242.01,279.34 L242.27,277.13 L242.51,275.03 L242.73,272.19 L242.92,270.44 L243.10,268.46 L243.27,266.33 L243.43,264.26 L243.59,262.53 L243.76,261.84 L243.92,260.56 L244.08,260.74 L244.23,257.04 L244.38,257.40 L244.54,256.63 L244.70,256.44 L244.89,255.46 L245.09,254.44 L245.34,254.73 L245.61,254.91 L245.91,254.34 L246.21,254.85 L246.51,253.29 L246.78,255.13 L247.02,254.78 L247.24,253.31 L247.45,253.05 L247.65,251.78 L247.84,250.29 L248.02,249.88 L248.19,249.69 L248.36,248.60 L248.53,248.74 L248.67,249.48 L248.81,250.66 L248.94,252.26 L249.08,252.48 L249.23,254.42 L249.40,255.52 L249.60,255.50 L249.82,257.42 L250.08,258.75 L250.35,260.00 L250.64,261.45 L250.94,261.43 L251.25,263.89 L251.55,264.84 L251.85,265.84 L252.17,268.40 L252.50,270.04 L252.83,270.84 L253.16,273.24 L253.50,274.16 L253.85,275.99 L254.19,276.94 L254.53,280.05 L254.88,279.37 L255.23,282.44 L255.59,284.51 L255.95,284.62 L256.32,287.19 L256.70,288.74 L257.09,290.73 L257.49,292.46 L257.90,293.01 L258.30,293.86 L258.71,296.69 L259.10,297.81 L259.48,297.96 L259.84,299.40 L260.20,300.35 L260.55,301.34 L260.90,301.97 L261.25,303.39 L261.60,302.36 L261.96,304.51 L262.33,304.71 L262.70,304.89 L263.08,306.12 L263.45,304.62 L263.84,306.97 L264.23,306.94 L264.63,306.51 L265.04,307.77 L265.45,307.78 L265.87,309.78 L266.29,309.76 L266.73,309.37 L267.18,309.08 L267.65,309.47 L268.13,309.89 L268.61,310.02 L269.08,310.08 L269.58,310.49 L270.10,310.87 L270.66,310.93 L271.28,310.99 L271.96,310.98 L272.76,312.40 L273.70,310.88 L274.75,311.22 L275.89,312.10 L277.09,311.75 L278.32,312.21 L279.55,312.40 L280.81,312.40 L282.21,312.35 L283.71,311.31 L285.24,312.36 L286.73,310.68 L288.11,311.50 L289.31,311.24 L290.29,310.92 L291.17,311.86 L292.00,311.50 L292.77,312.27 L293.47,311.03 L294.08,312.40 L294.60,312.40 L295.00,312.40" stroke="#e0605c" stroke-width="0.95" fill="none" stroke-linejoin="round" stroke-linecap="round"/>
<path d="M328.80,312.61 L329.07,313.00 L329.34,312.74 L329.61,312.73 L329.88,312.84 L330.15,311.93 L330.42,311.84 L330.69,310.98 L330.97,310.67 L331.24,308.59 L331.52,308.01 L331.80,306.81 L332.09,306.53 L332.38,304.51 L332.67,303.33 L332.97,301.00 L333.26,298.75 L333.54,297.63 L333.82,294.50 L334.08,291.88 L334.34,289.14 L334.58,287.99 L334.80,285.30 L335.03,281.45 L335.24,279.14 L335.45,276.49 L335.66,272.61 L335.88,270.60 L336.09,268.90 L336.32,264.83 L336.55,263.82 L336.79,262.47 L337.02,258.92 L337.26,256.86 L337.51,255.14 L337.75,253.34 L338.01,251.48 L338.26,248.86 L338.53,247.99 L338.80,247.51 L339.08,246.69 L339.38,247.03 L339.69,245.79 L340.02,245.37 L340.35,246.23 L340.69,244.86 L341.02,244.11 L341.36,244.44 L341.69,244.17 L342.00,244.61 L342.31,244.47 L342.59,244.24 L342.86,244.63 L343.12,245.15 L343.37,246.94 L343.63,248.19 L343.90,248.04 L344.18,249.45 L344.48,250.44 L344.80,251.08 L345.16,252.22 L345.57,253.68 L346.03,254.62 L346.52,257.20 L347.04,259.96 L347.57,262.39 L348.10,263.95 L348.62,265.96 L349.12,268.50 L349.58,271.04 L350.01,270.93 L350.41,272.42 L350.80,273.93 L351.18,275.75 L351.54,276.20 L351.90,278.11 L352.26,278.62 L352.62,280.47 L352.98,281.15 L353.34,282.25 L353.71,284.14 L354.08,284.28 L354.46,285.77 L354.83,287.86 L355.20,289.13 L355.57,290.05 L355.94,289.91 L356.31,292.62 L356.69,293.45 L357.07,294.01 L357.44,293.96 L357.83,296.27 L358.21,297.52 L358.60,297.53 L358.99,298.66 L359.38,298.20 L359.76,299.27 L360.14,299.39 L360.52,299.69 L360.89,300.66 L361.26,300.87 L361.62,301.46 L361.98,301.93 L362.33,302.58 L362.68,303.09 L363.03,303.75 L363.38,303.41 L363.72,304.69 L364.07,303.91 L364.42,305.35 L364.78,305.76 L365.13,304.84 L365.47,306.33 L365.82,307.52 L366.17,307.55 L366.52,307.41 L366.87,307.74 L367.23,308.53 L367.58,308.77 L367.95,309.41 L368.31,309.29 L368.67,309.94 L369.04,309.88 L369.40,309.44 L369.77,309.49 L370.14,309.95 L370.53,310.64 L370.92,310.13 L371.34,311.28 L371.77,310.14 L372.22,311.04 L372.69,310.88 L373.17,311.76 L373.67,311.87 L374.19,311.91 L374.73,311.51 L375.27,311.91 L375.84,312.23 L376.41,313.00 L377.00,312.65" stroke="#38c4e4" stroke-width="0.95" fill="none" stroke-linejoin="round" stroke-linecap="round"/>
<path d="M328.80,313.00 L329.03,313.00 L329.26,312.85 L329.49,311.54 L329.72,312.09 L329.95,311.65 L330.19,311.34 L330.42,310.53 L330.65,310.28 L330.89,309.44 L331.13,308.34 L331.36,308.88 L331.60,308.18 L331.84,307.70 L332.09,305.63 L332.34,304.00 L332.59,302.37 L332.84,300.12 L333.09,299.69 L333.34,296.63 L333.58,294.62 L333.82,293.16 L334.04,292.10 L334.26,289.45 L334.47,286.76 L334.68,284.76 L334.87,283.17 L335.06,280.31 L335.25,277.48 L335.43,275.24 L335.61,273.25 L335.79,271.43 L335.98,267.25 L336.16,265.29 L336.35,263.05 L336.55,260.19 L336.75,258.99 L336.96,256.81 L337.17,255.82 L337.38,252.97 L337.59,250.07 L337.80,249.37 L338.02,247.06 L338.23,244.79 L338.43,244.23 L338.64,243.40 L338.84,242.85 L339.03,243.36 L339.21,242.34 L339.38,243.84 L339.55,245.11 L339.72,245.72 L339.88,246.67 L340.05,247.57 L340.23,248.75 L340.41,248.33 L340.60,250.46 L340.80,250.02 L341.02,251.75 L341.26,252.20 L341.53,255.20 L341.81,256.90 L342.12,257.73 L342.43,260.58 L342.75,261.05 L343.07,263.35 L343.39,265.16 L343.70,266.25 L343.99,268.73 L344.27,271.07 L344.53,270.80 L344.77,273.16 L345.00,273.84 L345.23,276.12 L345.45,276.60 L345.67,277.87 L345.88,278.98 L346.10,279.86 L346.31,280.03 L346.53,282.62 L346.75,282.14 L346.98,284.05 L347.21,285.26 L347.45,285.46 L347.68,286.98 L347.92,288.51 L348.15,288.80 L348.39,289.25 L348.64,289.04 L348.88,290.99 L349.13,292.05 L349.38,292.91 L349.63,293.46 L349.89,294.96 L350.14,295.18 L350.40,296.15 L350.66,297.29 L350.93,297.13 L351.20,298.10 L351.47,300.10 L351.74,300.03 L352.03,299.44 L352.32,300.70 L352.62,301.62 L352.92,302.54 L353.24,302.48 L353.57,302.63 L353.91,303.04 L354.26,304.30 L354.61,304.61 L354.98,304.62 L355.35,305.26 L355.73,305.58 L356.11,306.63 L356.49,306.25 L356.88,307.27 L357.26,307.83 L357.65,307.96 L358.04,307.55 L358.44,309.05 L358.84,308.23 L359.24,309.11 L359.65,308.73 L360.06,308.45 L360.49,309.79 L360.92,310.07 L361.36,310.11 L361.81,310.55 L362.27,310.28 L362.74,310.47 L363.23,311.02 L363.72,312.39 L364.22,312.01 L364.73,311.50 L365.26,312.31 L365.79,311.95 L366.33,312.17 L366.88,313.00 L367.43,312.52 L368.00,312.08" stroke="#e0605c" stroke-width="0.95" fill="none" stroke-linejoin="round" stroke-linecap="round"/>
<line x1="22.20" y1="310.50" x2="22.20" y2="241.00" stroke="#000" stroke-width="1.7"/>
<polygon points="22.2,237.3 18.9,243 22.2,241.6 25.5,243" fill="#000"/>
<text x="13.90" y="274.60" font-size="7.9" text-anchor="middle" font-weight="bold" stroke="#000" stroke-width="0.33" transform="rotate(-90 13.90 274.60)" fill="#000">Normalized to mode</text>
<line x1="40.00" y1="327.80" x2="372.00" y2="327.80" stroke="#000" stroke-width="1.7"/>
<polygon points="382,327.8 369,324.3 372,327.8 369,331.3" fill="#000"/>
<text x="209.50" y="338.30" font-size="7.6" text-anchor="middle" font-weight="bold" stroke="#000" stroke-width="0.32" fill="#000">DCFDA</text>
<line x1="409.70" y1="240.00" x2="409.70" y2="314.00" stroke="#000" stroke-width="1.3"/>
<line x1="409.10" y1="313.40" x2="516.50" y2="313.40" stroke="#000" stroke-width="1.3"/>
<line x1="407.30" y1="313.40" x2="409.70" y2="313.40" stroke="#000" stroke-width="1.0"/>
<text x="406.90" y="315.40" font-size="5.7" text-anchor="end" font-weight="bold" stroke="#000" stroke-width="0.24" fill="#000">0</text>
<line x1="407.30" y1="297.10" x2="409.70" y2="297.10" stroke="#000" stroke-width="1.0"/>
<text x="406.90" y="299.10" font-size="5.7" text-anchor="end" font-weight="bold" stroke="#000" stroke-width="0.24" fill="#000">1</text>
<line x1="407.30" y1="280.80" x2="409.70" y2="280.80" stroke="#000" stroke-width="1.0"/>
<text x="406.90" y="282.80" font-size="5.7" text-anchor="end" font-weight="bold" stroke="#000" stroke-width="0.24" fill="#000">2</text>
<line x1="407.30" y1="264.50" x2="409.70" y2="264.50" stroke="#000" stroke-width="1.0"/>
<text x="406.90" y="266.50" font-size="5.7" text-anchor="end" font-weight="bold" stroke="#000" stroke-width="0.24" fill="#000">3</text>
<line x1="407.30" y1="248.20" x2="409.70" y2="248.20" stroke="#000" stroke-width="1.0"/>
<text x="406.90" y="250.20" font-size="5.7" text-anchor="end" font-weight="bold" stroke="#000" stroke-width="0.24" fill="#000">4</text>
<rect x="416.20" y="297.10" width="14.50" height="16.30" fill="#000" stroke="none" stroke-width="0"/>
<line x1="423.45" y1="313.40" x2="423.45" y2="315.80" stroke="#000" stroke-width="1.0"/>
<text x="425.45" y="318.80" font-size="6.1" text-anchor="end" font-weight="bold" stroke="#000" stroke-width="0.26" transform="rotate(-45 425.45 318.80)" fill="#000">DMSO</text>
<rect x="437.00" y="258.47" width="14.40" height="54.93" fill="#b4b4b4" stroke="none" stroke-width="0"/>
<line x1="444.20" y1="258.47" x2="444.20" y2="250.32" stroke="#000" stroke-width="0.9"/>
<line x1="440.40" y1="250.32" x2="448.00" y2="250.32" stroke="#000" stroke-width="0.9"/>
<text x="444.20" y="250.12" font-size="5.2" text-anchor="middle" font-weight="bold" stroke="#555" stroke-width="0.22" fill="#555">**</text>
<line x1="444.20" y1="313.40" x2="444.20" y2="315.80" stroke="#000" stroke-width="1.0"/>
<text x="446.20" y="318.80" font-size="6.1" text-anchor="end" font-weight="bold" stroke="#000" stroke-width="0.26" transform="rotate(-45 446.20 318.80)" fill="#000">MiaPaCa2</text>
<rect x="457.70" y="269.06" width="14.60" height="44.34" fill="#8c8c8c" stroke="none" stroke-width="0"/>
<line x1="465.00" y1="269.06" x2="465.00" y2="263.20" stroke="#000" stroke-width="0.9"/>
<line x1="461.20" y1="263.20" x2="468.80" y2="263.20" stroke="#000" stroke-width="0.9"/>
<text x="465.00" y="263.00" font-size="5.2" text-anchor="middle" font-weight="bold" stroke="#555" stroke-width="0.22" fill="#555">**</text>
<line x1="465.00" y1="313.40" x2="465.00" y2="315.80" stroke="#000" stroke-width="1.0"/>
<text x="467.00" y="318.80" font-size="6.1" text-anchor="end" font-weight="bold" stroke="#000" stroke-width="0.26" transform="rotate(-45 467.00 318.80)" fill="#000">AsPc1</text>
<rect x="478.50" y="290.25" width="14.50" height="23.15" fill="#dedede" stroke="none" stroke-width="0"/>
<line x1="485.75" y1="290.25" x2="485.75" y2="289.11" stroke="#000" stroke-width="0.9"/>
<line x1="481.95" y1="289.11" x2="489.55" y2="289.11" stroke="#000" stroke-width="0.9"/>
<text x="485.75" y="288.91" font-size="5.2" text-anchor="middle" font-weight="bold" stroke="#555" stroke-width="0.22" fill="#555">****</text>
<line x1="485.75" y1="313.40" x2="485.75" y2="315.80" stroke="#000" stroke-width="1.0"/>
<text x="487.75" y="318.80" font-size="6.1" text-anchor="end" font-weight="bold" stroke="#000" stroke-width="0.26" transform="rotate(-45 487.75 318.80)" fill="#000">Suit2</text>
<rect x="498.80" y="291.07" width="14.60" height="22.33" fill="#7c7c7c" stroke="none" stroke-width="0"/>
<line x1="506.10" y1="291.07" x2="506.10" y2="288.95" stroke="#000" stroke-width="0.9"/>
<line x1="502.30" y1="288.95" x2="509.90" y2="288.95" stroke="#000" stroke-width="0.9"/>
<text x="506.10" y="288.75" font-size="5.2" text-anchor="middle" font-weight="bold" stroke="#555" stroke-width="0.22" fill="#555">**</text>
<line x1="506.10" y1="313.40" x2="506.10" y2="315.80" stroke="#000" stroke-width="1.0"/>
<text x="508.10" y="318.80" font-size="6.1" text-anchor="end" font-weight="bold" stroke="#000" stroke-width="0.26" transform="rotate(-45 508.10 318.80)" fill="#000">Panc1</text>
<text x="399.90" y="275.80" font-size="5.9" text-anchor="middle" font-weight="bold" stroke="#000" stroke-width="0.25" transform="rotate(-90 399.90 275.80)" fill="#000">Mean DCFDA</text>
<text x="3.80" y="358.30" font-size="12.6" text-anchor="start" font-weight="bold" stroke="#000" stroke-width="0.40" fill="#000">D</text>
<path d="M36.95,374.52 L37.44,374.52 L37.92,374.52 L38.41,374.52 L38.90,374.52 L39.39,374.53 L39.87,374.53 L40.36,374.53 L40.85,374.53 L41.34,374.53 L41.82,374.53 L42.31,374.53 L42.80,374.53 L43.28,374.53 L43.77,374.54 L44.26,374.54 L44.75,374.54 L45.23,374.54 L45.72,374.54 L46.21,374.54 L46.69,374.54 L47.18,374.55 L47.67,374.55 L48.16,374.55 L48.64,374.55 L49.13,374.55 L49.62,374.55 L50.11,374.56 L50.59,374.56 L51.08,374.56 L51.57,374.56 L52.05,374.57 L52.54,374.57 L53.03,374.57 L53.52,374.57 L54.00,374.58 L54.49,374.58 L54.98,374.58 L55.46,374.59 L55.95,374.59 L56.44,374.59 L56.93,374.60 L57.41,374.60 L57.90,374.60 L58.39,374.61 L58.88,374.61 L59.36,374.61 L59.85,374.62 L60.34,374.62 L60.82,374.63 L61.31,374.63 L61.80,374.64 L62.29,374.64 L62.77,374.65 L63.26,374.65 L63.75,374.66 L64.24,374.67 L64.72,374.67 L65.21,374.68 L65.70,374.69 L66.18,374.69 L66.67,374.70 L67.16,374.71 L67.65,374.72 L68.13,374.72 L68.62,374.73 L69.11,374.74 L69.59,374.75 L70.08,374.76 L70.57,374.77 L71.06,374.78 L71.54,374.79 L72.03,374.80 L72.52,374.81 L73.01,374.82 L73.49,374.83 L73.98,374.85 L74.47,374.86 L74.95,374.87 L75.44,374.89 L75.93,374.90 L76.42,374.92 L76.90,374.93 L77.39,374.95 L77.88,374.97 L78.37,374.98 L78.85,375.00 L79.34,375.02 L79.83,375.04 L80.31,375.06 L80.80,375.08 L81.29,375.10 L81.78,375.12 L82.26,375.15 L82.75,375.17 L83.24,375.19 L83.72,375.22 L84.21,375.25 L84.70,375.27 L85.19,375.30 L85.67,375.33 L86.16,375.36 L86.65,375.40 L87.14,375.43 L87.62,375.46 L88.11,375.50 L88.60,375.53 L89.08,375.57 L89.57,375.61 L90.06,375.65 L90.55,375.69 L91.03,375.74 L91.52,375.78 L92.01,375.83 L92.49,375.88 L92.98,375.93 L93.47,375.98 L93.96,376.03 L94.44,376.09 L94.93,376.15 L95.42,376.20 L95.91,376.27 L96.39,376.33 L96.88,376.39 L97.37,376.46 L97.85,376.53 L98.34,376.60 L98.83,376.68 L99.32,376.76 L99.80,376.84 L100.29,376.92 L100.78,377.00 L101.27,377.09 L101.75,377.18 L102.24,377.28 L102.73,377.37 L103.21,377.47 L103.70,377.58 L104.19,377.68 L104.68,377.79 L105.16,377.90 L105.65,378.02 L106.14,378.14 L106.62,378.26 L107.11,378.39 L107.60,378.52 L108.09,378.66 L108.57,378.80 L109.06,378.94 L109.55,379.09 L110.04,379.24 L110.52,379.39 L111.01,379.55 L111.50,379.72 L111.98,379.88 L112.47,380.06 L112.96,380.23 L113.45,380.42 L113.93,380.60 L114.42,380.79 L114.91,380.99 L115.40,381.19 L115.88,381.40 L116.37,381.61 L116.86,381.82 L117.34,382.04 L117.83,382.27 L118.32,382.50 L118.81,382.73 L119.29,382.97 L119.78,383.22 L120.27,383.47 L120.75,383.72 L121.24,383.98 L121.73,384.25 L122.22,384.52 L122.70,384.79 L123.19,385.07 L123.68,385.35 L124.17,385.64 L124.65,385.93 L125.14,386.23 L125.63,386.53 L126.11,386.83 L126.60,387.14 L127.09,387.45 L127.58,387.76 L128.06,388.08 L128.55,388.40 L129.04,388.73 L129.52,389.06 L130.01,389.39 L130.50,389.72 L130.99,390.06 L131.47,390.39 L131.96,390.73 L132.45,391.07 L132.94,391.41 L133.42,391.76 L133.91,392.10" stroke="#8a1212" stroke-width="1.4" fill="none" stroke-linejoin="round" stroke-linecap="round"/>
<path d="M36.95,374.54 L37.44,374.54 L37.92,374.54 L38.41,374.54 L38.90,374.55 L39.39,374.55 L39.87,374.55 L40.36,374.55 L40.85,374.55 L41.34,374.55 L41.82,374.56 L42.31,374.56 L42.80,374.56 L43.28,374.56 L43.77,374.56 L44.26,374.57 L44.75,374.57 L45.23,374.57 L45.72,374.57 L46.21,374.57 L46.69,374.58 L47.18,374.58 L47.67,374.58 L48.16,374.59 L48.64,374.59 L49.13,374.59 L49.62,374.59 L50.11,374.60 L50.59,374.60 L51.08,374.60 L51.57,374.61 L52.05,374.61 L52.54,374.62 L53.03,374.62 L53.52,374.62 L54.00,374.63 L54.49,374.63 L54.98,374.64 L55.46,374.64 L55.95,374.65 L56.44,374.65 L56.93,374.66 L57.41,374.66 L57.90,374.67 L58.39,374.67 L58.88,374.68 L59.36,374.68 L59.85,374.69 L60.34,374.70 L60.82,374.70 L61.31,374.71 L61.80,374.72 L62.29,374.72 L62.77,374.73 L63.26,374.74 L63.75,374.75 L64.24,374.76 L64.72,374.76 L65.21,374.77 L65.70,374.78 L66.18,374.79 L66.67,374.80 L67.16,374.81 L67.65,374.82 L68.13,374.83 L68.62,374.84 L69.11,374.86 L69.59,374.87 L70.08,374.88 L70.57,374.89 L71.06,374.91 L71.54,374.92 L72.03,374.93 L72.52,374.95 L73.01,374.96 L73.49,374.98 L73.98,375.00 L74.47,375.01 L74.95,375.03 L75.44,375.05 L75.93,375.06 L76.42,375.08 L76.90,375.10 L77.39,375.12 L77.88,375.14 L78.37,375.17 L78.85,375.19 L79.34,375.21 L79.83,375.23 L80.31,375.26 L80.80,375.28 L81.29,375.31 L81.78,375.34 L82.26,375.37 L82.75,375.39 L83.24,375.42 L83.72,375.45 L84.21,375.49 L84.70,375.52 L85.19,375.55 L85.67,375.59 L86.16,375.62 L86.65,375.66 L87.14,375.70 L87.62,375.74 L88.11,375.78 L88.60,375.82 L89.08,375.86 L89.57,375.91 L90.06,375.95 L90.55,376.00 L91.03,376.05 L91.52,376.10 L92.01,376.15 L92.49,376.21 L92.98,376.26 L93.47,376.32 L93.96,376.38 L94.44,376.44 L94.93,376.51 L95.42,376.57 L95.91,376.64 L96.39,376.71 L96.88,376.78 L97.37,376.85 L97.85,376.93 L98.34,377.00 L98.83,377.08 L99.32,377.17 L99.80,377.25 L100.29,377.34 L100.78,377.43 L101.27,377.52 L101.75,377.62 L102.24,377.71 L102.73,377.81 L103.21,377.92 L103.70,378.03 L104.19,378.14 L104.68,378.25 L105.16,378.37 L105.65,378.48 L106.14,378.61 L106.62,378.73 L107.11,378.86 L107.60,379.00 L108.09,379.13 L108.57,379.27 L109.06,379.42 L109.55,379.57 L110.04,379.72 L110.52,379.87 L111.01,380.03 L111.50,380.20 L111.98,380.37 L112.47,380.54 L112.96,380.72 L113.45,380.90 L113.93,381.08 L114.42,381.27 L114.91,381.47 L115.40,381.67 L115.88,381.87 L116.37,382.08 L116.86,382.29 L117.34,382.51 L117.83,382.73 L118.32,382.96 L118.81,383.19 L119.29,383.43 L119.78,383.67 L120.27,383.92 L120.75,384.17 L121.24,384.42 L121.73,384.69 L122.22,384.95 L122.70,385.22 L123.19,385.50 L123.68,385.78 L124.17,386.06 L124.65,386.35 L125.14,386.65 L125.63,386.95 L126.11,387.25 L126.60,387.56 L127.09,387.87 L127.58,388.19 L128.06,388.51 L128.55,388.84 L129.04,389.17 L129.52,389.50 L130.01,389.84 L130.50,390.18 L130.99,390.53 L131.47,390.87 L131.96,391.23 L132.45,391.58 L132.94,391.94 L133.42,392.30 L133.91,392.66" stroke="#ee3a22" stroke-width="1.4" fill="none" stroke-linejoin="round" stroke-linecap="round"/>
<path d="M36.95,374.50 L37.44,374.50 L37.92,374.50 L38.41,374.50 L38.90,374.50 L39.39,374.50 L39.87,374.50 L40.36,374.50 L40.85,374.50 L41.34,374.50 L41.82,374.50 L42.31,374.50 L42.80,374.50 L43.28,374.50 L43.77,374.50 L44.26,374.50 L44.75,374.50 L45.23,374.50 L45.72,374.50 L46.21,374.50 L46.69,374.50 L47.18,374.50 L47.67,374.50 L48.16,374.50 L48.64,374.50 L49.13,374.50 L49.62,374.50 L50.11,374.50 L50.59,374.50 L51.08,374.50 L51.57,374.50 L52.05,374.50 L52.54,374.50 L53.03,374.50 L53.52,374.50 L54.00,374.50 L54.49,374.50 L54.98,374.50 L55.46,374.50 L55.95,374.50 L56.44,374.50 L56.93,374.50 L57.41,374.50 L57.90,374.50 L58.39,374.50 L58.88,374.50 L59.36,374.50 L59.85,374.50 L60.34,374.50 L60.82,374.50 L61.31,374.50 L61.80,374.50 L62.29,374.50 L62.77,374.50 L63.26,374.50 L63.75,374.50 L64.24,374.50 L64.72,374.50 L65.21,374.50 L65.70,374.50 L66.18,374.50 L66.67,374.50 L67.16,374.50 L67.65,374.50 L68.13,374.50 L68.62,374.50 L69.11,374.50 L69.59,374.50 L70.08,374.50 L70.57,374.50 L71.06,374.50 L71.54,374.50 L72.03,374.50 L72.52,374.50 L73.01,374.50 L73.49,374.50 L73.98,374.50 L74.47,374.50 L74.95,374.50 L75.44,374.50 L75.93,374.50 L76.42,374.50 L76.90,374.50 L77.39,374.50 L77.88,374.50 L78.37,374.50 L78.85,374.50 L79.34,374.50 L79.83,374.50 L80.31,374.50 L80.80,374.50 L81.29,374.50 L81.78,374.50 L82.26,374.50 L82.75,374.50 L83.24,374.50 L83.72,374.50 L84.21,374.50 L84.70,374.50 L85.19,374.50 L85.67,374.50 L86.16,374.50 L86.65,374.50 L87.14,374.50 L87.62,374.50 L88.11,374.50 L88.60,374.50 L89.08,374.50 L89.57,374.50 L90.06,374.50 L90.55,374.50 L91.03,374.50 L91.52,374.50 L92.01,374.50 L92.49,374.50 L92.98,374.50 L93.47,374.50 L93.96,374.50 L94.44,374.50 L94.93,374.50 L95.42,374.50 L95.91,374.50 L96.39,374.50 L96.88,374.50 L97.37,374.50 L97.85,374.50 L98.34,374.50 L98.83,374.50 L99.32,374.50 L99.80,374.50 L100.29,374.50 L100.78,374.50 L101.27,374.50 L101.75,374.51 L102.24,374.51 L102.73,374.51 L103.21,374.51 L103.70,374.52 L104.19,374.52 L104.68,374.52 L105.16,374.53 L105.65,374.54 L106.14,374.55 L106.62,374.56 L107.11,374.58 L107.60,374.60 L108.09,374.63 L108.57,374.67 L109.06,374.71 L109.55,374.77 L110.04,374.84 L110.52,374.94 L111.01,375.05 L111.50,375.20 L111.98,375.39 L112.47,375.63 L112.96,375.93 L113.45,376.31 L113.93,376.79 L114.42,377.39 L114.91,378.13 L115.40,379.05 L115.88,380.19 L116.37,381.58 L116.86,383.26 L117.34,385.26 L117.83,387.63 L118.32,390.36 L118.81,393.48 L119.29,396.94 L119.78,400.69 L120.27,404.66 L120.75,408.74 L121.24,412.81 L121.73,416.76 L122.22,420.49 L122.70,423.92 L123.19,427.00 L123.68,429.70 L124.17,432.02 L124.65,433.99 L125.14,435.64 L125.63,437.00 L126.11,438.11 L126.60,439.01 L127.09,439.74 L127.58,440.32 L128.06,440.79 L128.55,441.16 L129.04,441.45 L129.52,441.69 L130.01,441.87 L130.50,442.02 L130.99,442.13 L131.47,442.22 L131.96,442.30 L132.45,442.35 L132.94,442.40 L133.42,442.43 L133.91,442.46" stroke="#4a1a9c" stroke-width="1.5" fill="none" stroke-linejoin="round" stroke-linecap="round"/>
<path d="M36.95,374.50 L37.38,374.50 L37.81,374.50 L38.24,374.50 L38.67,374.50 L39.10,374.50 L39.53,374.50 L39.96,374.50 L40.39,374.50 L40.81,374.50 L41.24,374.50 L41.67,374.50 L42.10,374.50 L42.53,374.50 L42.96,374.50 L43.39,374.50 L43.82,374.50 L44.25,374.50 L44.68,374.50 L45.11,374.50 L45.54,374.50 L45.97,374.50 L46.40,374.50 L46.83,374.50 L47.26,374.50 L47.68,374.50 L48.11,374.50 L48.54,374.50 L48.97,374.50 L49.40,374.50 L49.83,374.50 L50.26,374.50 L50.69,374.50 L51.12,374.50 L51.55,374.50 L51.98,374.50 L52.41,374.50 L52.84,374.50 L53.27,374.50 L53.70,374.50 L54.13,374.50 L54.55,374.50 L54.98,374.50 L55.41,374.50 L55.84,374.50 L56.27,374.50 L56.70,374.50 L57.13,374.50 L57.56,374.50 L57.99,374.50 L58.42,374.50 L58.85,374.50 L59.28,374.50 L59.71,374.50 L60.14,374.50 L60.57,374.50 L61.00,374.50 L61.42,374.50 L61.85,374.50 L62.28,374.50 L62.71,374.50 L63.14,374.50 L63.57,374.50 L64.00,374.50 L64.43,374.50 L64.86,374.50 L65.29,374.50 L65.72,374.50 L66.15,374.50 L66.58,374.50 L67.01,374.50 L67.44,374.50 L67.87,374.50 L68.29,374.50 L68.72,374.50 L69.15,374.50 L69.58,374.50 L70.01,374.50 L70.44,374.50 L70.87,374.50 L71.30,374.50 L71.73,374.50 L72.16,374.50 L72.59,374.50 L73.02,374.50 L73.45,374.50 L73.88,374.50 L74.31,374.50 L74.74,374.50 L75.16,374.50 L75.59,374.50 L76.02,374.50 L76.45,374.50 L76.88,374.50 L77.31,374.50 L77.74,374.50 L78.17,374.50 L78.60,374.50 L79.03,374.50 L79.46,374.50 L79.89,374.50 L80.32,374.50 L80.75,374.50 L81.18,374.50 L81.61,374.50 L82.03,374.50 L82.46,374.50 L82.89,374.50 L83.32,374.50 L83.75,374.50 L84.18,374.50 L84.61,374.50 L85.04,374.50 L85.47,374.50 L85.90,374.50 L86.33,374.50 L86.76,374.50 L87.19,374.50 L87.62,374.51 L88.05,374.51 L88.48,374.51 L88.90,374.51 L89.33,374.52 L89.76,374.52 L90.19,374.53 L90.62,374.54 L91.05,374.56 L91.48,374.58 L91.91,374.61 L92.34,374.64 L92.77,374.69 L93.20,374.75 L93.63,374.84 L94.06,374.96 L94.49,375.11 L94.92,375.32 L95.35,375.59 L95.77,375.95 L96.20,376.44 L96.63,377.08 L97.06,377.91 L97.49,379.01 L97.92,380.42 L98.35,382.23 L98.78,384.51 L99.21,387.34 L99.64,390.76 L100.07,394.78 L100.50,399.37 L100.93,404.42 L101.36,409.76 L101.79,415.17 L102.22,420.42 L102.64,425.32 L103.07,429.70 L103.50,433.49 L103.93,436.68 L104.36,439.29 L104.79,441.38 L105.22,443.03 L105.65,444.32 L106.08,445.30 L106.51,446.06 L106.94,446.67 L107.37,447.15 L107.80,447.52 L108.23,447.81 L108.66,448.05 L109.09,448.23 L109.51,448.38 L109.94,448.51 L110.37,448.61 L110.80,448.70 L111.23,448.78 L111.66,448.85 L112.09,448.91 L112.52,448.98 L112.95,449.03 L113.38,449.09 L113.81,449.14 L114.24,449.19 L114.67,449.24 L115.10,449.29 L115.53,449.34 L115.96,449.39 L116.38,449.43 L116.81,449.48 L117.24,449.53 L117.67,449.58 L118.10,449.63 L118.53,449.67 L118.96,449.72 L119.39,449.77 L119.82,449.81 L120.25,449.86 L120.68,449.91 L121.11,449.96 L121.54,450.00 L121.97,450.05 L122.40,450.10" stroke="#2fe22f" stroke-width="1.7" fill="none" stroke-linejoin="round" stroke-linecap="round"/>
<line x1="73.31" y1="375.59" x2="73.31" y2="378.39" stroke="#2fe22f" stroke-width="0.8"/>
<line x1="71.91" y1="375.59" x2="74.71" y2="375.59" stroke="#2fe22f" stroke-width="0.8"/>
<line x1="71.91" y1="378.39" x2="74.71" y2="378.39" stroke="#2fe22f" stroke-width="0.8"/>
<polygon points="73.31,378.94 75.18,375.55 71.44,375.55" fill="#2fe22f" stroke="#2fe22f" stroke-width="0.4"/>
<line x1="79.37" y1="378.50" x2="79.37" y2="381.29" stroke="#2fe22f" stroke-width="0.8"/>
<line x1="77.97" y1="378.50" x2="80.77" y2="378.50" stroke="#2fe22f" stroke-width="0.8"/>
<line x1="77.97" y1="381.29" x2="80.77" y2="381.29" stroke="#2fe22f" stroke-width="0.8"/>
<polygon points="79.37,381.85 81.24,378.45 77.50,378.45" fill="#2fe22f" stroke="#2fe22f" stroke-width="0.4"/>
<line x1="85.43" y1="377.25" x2="85.43" y2="380.05" stroke="#2fe22f" stroke-width="0.8"/>
<line x1="84.03" y1="377.25" x2="86.83" y2="377.25" stroke="#2fe22f" stroke-width="0.8"/>
<line x1="84.03" y1="380.05" x2="86.83" y2="380.05" stroke="#2fe22f" stroke-width="0.8"/>
<polygon points="85.43,380.60 87.30,377.20 83.56,377.20" fill="#2fe22f" stroke="#2fe22f" stroke-width="0.4"/>
<line x1="89.97" y1="375.59" x2="89.97" y2="378.39" stroke="#2fe22f" stroke-width="0.8"/>
<line x1="88.57" y1="375.59" x2="91.38" y2="375.59" stroke="#2fe22f" stroke-width="0.8"/>
<line x1="88.57" y1="378.39" x2="91.38" y2="378.39" stroke="#2fe22f" stroke-width="0.8"/>
<polygon points="89.97,378.94 91.84,375.55 88.10,375.55" fill="#2fe22f" stroke="#2fe22f" stroke-width="0.4"/>
<line x1="94.52" y1="375.59" x2="94.52" y2="378.39" stroke="#2fe22f" stroke-width="0.8"/>
<line x1="93.12" y1="375.59" x2="95.92" y2="375.59" stroke="#2fe22f" stroke-width="0.8"/>
<line x1="93.12" y1="378.39" x2="95.92" y2="378.39" stroke="#2fe22f" stroke-width="0.8"/>
<polygon points="94.52,378.94 96.39,375.55 92.65,375.55" fill="#2fe22f" stroke="#2fe22f" stroke-width="0.4"/>
<line x1="98.16" y1="379.74" x2="98.16" y2="382.54" stroke="#2fe22f" stroke-width="0.8"/>
<line x1="96.76" y1="379.74" x2="99.56" y2="379.74" stroke="#2fe22f" stroke-width="0.8"/>
<line x1="96.76" y1="382.54" x2="99.56" y2="382.54" stroke="#2fe22f" stroke-width="0.8"/>
<polygon points="98.16,383.09 100.03,379.69 96.29,379.69" fill="#2fe22f" stroke="#2fe22f" stroke-width="0.4"/>
<line x1="101.49" y1="410.45" x2="101.49" y2="413.25" stroke="#2fe22f" stroke-width="0.8"/>
<line x1="100.09" y1="410.45" x2="102.89" y2="410.45" stroke="#2fe22f" stroke-width="0.8"/>
<line x1="100.09" y1="413.25" x2="102.89" y2="413.25" stroke="#2fe22f" stroke-width="0.8"/>
<polygon points="101.49,413.81 103.36,410.41 99.62,410.41" fill="#2fe22f" stroke="#2fe22f" stroke-width="0.4"/>
<line x1="103.61" y1="424.56" x2="103.61" y2="427.36" stroke="#2fe22f" stroke-width="0.8"/>
<line x1="102.21" y1="424.56" x2="105.01" y2="424.56" stroke="#2fe22f" stroke-width="0.8"/>
<line x1="102.21" y1="427.36" x2="105.01" y2="427.36" stroke="#2fe22f" stroke-width="0.8"/>
<polygon points="103.61,427.91 105.48,424.51 101.74,424.51" fill="#2fe22f" stroke="#2fe22f" stroke-width="0.4"/>
<line x1="106.64" y1="446.11" x2="106.64" y2="447.31" stroke="#2fe22f" stroke-width="0.8"/>
<line x1="105.24" y1="446.11" x2="108.04" y2="446.11" stroke="#2fe22f" stroke-width="0.8"/>
<line x1="105.24" y1="447.31" x2="108.04" y2="447.31" stroke="#2fe22f" stroke-width="0.8"/>
<polygon points="106.64,448.09 107.96,445.69 105.32,445.69" fill="#2fe22f" stroke="#2fe22f" stroke-width="0.4"/>
<line x1="109.67" y1="447.35" x2="109.67" y2="448.56" stroke="#2fe22f" stroke-width="0.8"/>
<line x1="108.27" y1="447.35" x2="111.07" y2="447.35" stroke="#2fe22f" stroke-width="0.8"/>
<line x1="108.27" y1="448.56" x2="111.07" y2="448.56" stroke="#2fe22f" stroke-width="0.8"/>
<polygon points="109.67,449.33 110.99,446.94 108.35,446.94" fill="#2fe22f" stroke="#2fe22f" stroke-width="0.4"/>
<line x1="112.70" y1="447.77" x2="112.70" y2="448.97" stroke="#2fe22f" stroke-width="0.8"/>
<line x1="111.30" y1="447.77" x2="114.10" y2="447.77" stroke="#2fe22f" stroke-width="0.8"/>
<line x1="111.30" y1="448.97" x2="114.10" y2="448.97" stroke="#2fe22f" stroke-width="0.8"/>
<polygon points="112.70,449.75 114.02,447.35 111.38,447.35" fill="#2fe22f" stroke="#2fe22f" stroke-width="0.4"/>
<line x1="115.73" y1="448.19" x2="115.73" y2="449.39" stroke="#2fe22f" stroke-width="0.8"/>
<line x1="114.33" y1="448.19" x2="117.13" y2="448.19" stroke="#2fe22f" stroke-width="0.8"/>
<line x1="114.33" y1="449.39" x2="117.13" y2="449.39" stroke="#2fe22f" stroke-width="0.8"/>
<polygon points="115.73,450.17 117.05,447.77 114.41,447.77" fill="#2fe22f" stroke="#2fe22f" stroke-width="0.4"/>
<line x1="118.76" y1="448.60" x2="118.76" y2="449.80" stroke="#2fe22f" stroke-width="0.8"/>
<line x1="117.36" y1="448.60" x2="120.16" y2="448.60" stroke="#2fe22f" stroke-width="0.8"/>
<line x1="117.36" y1="449.80" x2="120.16" y2="449.80" stroke="#2fe22f" stroke-width="0.8"/>
<polygon points="118.76,450.58 120.08,448.18 117.44,448.18" fill="#2fe22f" stroke="#2fe22f" stroke-width="0.4"/>
<line x1="122.40" y1="449.01" x2="122.40" y2="450.22" stroke="#2fe22f" stroke-width="0.8"/>
<line x1="121.00" y1="449.01" x2="123.80" y2="449.01" stroke="#2fe22f" stroke-width="0.8"/>
<line x1="121.00" y1="450.22" x2="123.80" y2="450.22" stroke="#2fe22f" stroke-width="0.8"/>
<polygon points="122.40,451.00 123.72,448.60 121.08,448.60" fill="#2fe22f" stroke="#2fe22f" stroke-width="0.4"/>
<line x1="94.52" y1="379.14" x2="94.52" y2="383.14" stroke="#4a1a9c" stroke-width="0.8"/>
<line x1="93.02" y1="379.14" x2="96.02" y2="379.14" stroke="#4a1a9c" stroke-width="0.8"/>
<line x1="93.02" y1="383.14" x2="96.02" y2="383.14" stroke="#4a1a9c" stroke-width="0.8"/>
<polygon points="94.52,382.98 96.28,379.78 92.76,379.78" fill="#4a1a9c" stroke="#4a1a9c" stroke-width="0.4"/>
<line x1="100.58" y1="374.99" x2="100.58" y2="378.99" stroke="#4a1a9c" stroke-width="0.8"/>
<line x1="99.08" y1="374.99" x2="102.08" y2="374.99" stroke="#4a1a9c" stroke-width="0.8"/>
<line x1="99.08" y1="378.99" x2="102.08" y2="378.99" stroke="#4a1a9c" stroke-width="0.8"/>
<polygon points="100.58,378.83 102.34,375.63 98.82,375.63" fill="#4a1a9c" stroke="#4a1a9c" stroke-width="0.4"/>
<line x1="106.64" y1="375.82" x2="106.64" y2="379.82" stroke="#4a1a9c" stroke-width="0.8"/>
<line x1="105.14" y1="375.82" x2="108.14" y2="375.82" stroke="#4a1a9c" stroke-width="0.8"/>
<line x1="105.14" y1="379.82" x2="108.14" y2="379.82" stroke="#4a1a9c" stroke-width="0.8"/>
<polygon points="106.64,379.66 108.40,376.46 104.88,376.46" fill="#4a1a9c" stroke="#4a1a9c" stroke-width="0.4"/>
<line x1="112.70" y1="376.65" x2="112.70" y2="380.65" stroke="#4a1a9c" stroke-width="0.8"/>
<line x1="111.20" y1="376.65" x2="114.20" y2="376.65" stroke="#4a1a9c" stroke-width="0.8"/>
<line x1="111.20" y1="380.65" x2="114.20" y2="380.65" stroke="#4a1a9c" stroke-width="0.8"/>
<polygon points="112.70,380.49 114.46,377.29 110.94,377.29" fill="#4a1a9c" stroke="#4a1a9c" stroke-width="0.4"/>
<line x1="115.73" y1="379.14" x2="115.73" y2="383.14" stroke="#4a1a9c" stroke-width="0.8"/>
<line x1="114.23" y1="379.14" x2="117.23" y2="379.14" stroke="#4a1a9c" stroke-width="0.8"/>
<line x1="114.23" y1="383.14" x2="117.23" y2="383.14" stroke="#4a1a9c" stroke-width="0.8"/>
<polygon points="115.73,382.98 117.49,379.78 113.97,379.78" fill="#4a1a9c" stroke="#4a1a9c" stroke-width="0.4"/>
<line x1="118.76" y1="395.74" x2="118.76" y2="399.74" stroke="#4a1a9c" stroke-width="0.8"/>
<line x1="117.26" y1="395.74" x2="120.26" y2="395.74" stroke="#4a1a9c" stroke-width="0.8"/>
<line x1="117.26" y1="399.74" x2="120.26" y2="399.74" stroke="#4a1a9c" stroke-width="0.8"/>
<polygon points="118.76,399.58 120.52,396.38 117.00,396.38" fill="#4a1a9c" stroke="#4a1a9c" stroke-width="0.4"/>
<line x1="121.79" y1="418.15" x2="121.79" y2="422.15" stroke="#4a1a9c" stroke-width="0.8"/>
<line x1="120.29" y1="418.15" x2="123.29" y2="418.15" stroke="#4a1a9c" stroke-width="0.8"/>
<line x1="120.29" y1="422.15" x2="123.29" y2="422.15" stroke="#4a1a9c" stroke-width="0.8"/>
<polygon points="121.79,421.99 123.55,418.79 120.03,418.79" fill="#4a1a9c" stroke="#4a1a9c" stroke-width="0.4"/>
<line x1="124.82" y1="433.09" x2="124.82" y2="437.09" stroke="#4a1a9c" stroke-width="0.8"/>
<line x1="123.32" y1="433.09" x2="126.32" y2="433.09" stroke="#4a1a9c" stroke-width="0.8"/>
<line x1="123.32" y1="437.09" x2="126.32" y2="437.09" stroke="#4a1a9c" stroke-width="0.8"/>
<polygon points="124.82,436.93 126.58,433.73 123.06,433.73" fill="#4a1a9c" stroke="#4a1a9c" stroke-width="0.4"/>
<line x1="129.37" y1="439.73" x2="129.37" y2="443.73" stroke="#4a1a9c" stroke-width="0.8"/>
<line x1="127.87" y1="439.73" x2="130.87" y2="439.73" stroke="#4a1a9c" stroke-width="0.8"/>
<line x1="127.87" y1="443.73" x2="130.87" y2="443.73" stroke="#4a1a9c" stroke-width="0.8"/>
<polygon points="129.37,443.57 131.12,440.37 127.61,440.37" fill="#4a1a9c" stroke="#4a1a9c" stroke-width="0.4"/>
<line x1="133.91" y1="438.07" x2="133.91" y2="442.07" stroke="#4a1a9c" stroke-width="0.8"/>
<line x1="132.41" y1="438.07" x2="135.41" y2="438.07" stroke="#4a1a9c" stroke-width="0.8"/>
<line x1="132.41" y1="442.07" x2="135.41" y2="442.07" stroke="#4a1a9c" stroke-width="0.8"/>
<polygon points="133.91,441.91 135.67,438.71 132.15,438.71" fill="#4a1a9c" stroke="#4a1a9c" stroke-width="0.4"/>
<line x1="94.52" y1="373.56" x2="94.52" y2="378.76" stroke="#ee3a22" stroke-width="0.9"/>
<line x1="92.72" y1="373.56" x2="96.32" y2="373.56" stroke="#ee3a22" stroke-width="0.9"/>
<line x1="92.72" y1="378.76" x2="96.32" y2="378.76" stroke="#ee3a22" stroke-width="0.9"/>
<polygon points="94.52,374.44 96.17,377.44 92.87,377.44" fill="#ee3a22" stroke="#ee3a22" stroke-width="0.4"/>
<line x1="99.06" y1="375.22" x2="99.06" y2="380.42" stroke="#ee3a22" stroke-width="0.9"/>
<line x1="97.27" y1="375.22" x2="100.86" y2="375.22" stroke="#ee3a22" stroke-width="0.9"/>
<line x1="97.27" y1="380.42" x2="100.86" y2="380.42" stroke="#ee3a22" stroke-width="0.9"/>
<polygon points="99.06,376.09 100.72,379.09 97.41,379.09" fill="#ee3a22" stroke="#ee3a22" stroke-width="0.4"/>
<line x1="103.61" y1="376.88" x2="103.61" y2="382.08" stroke="#ee3a22" stroke-width="0.9"/>
<line x1="101.81" y1="376.88" x2="105.41" y2="376.88" stroke="#ee3a22" stroke-width="0.9"/>
<line x1="101.81" y1="382.08" x2="105.41" y2="382.08" stroke="#ee3a22" stroke-width="0.9"/>
<polygon points="103.61,377.75 105.26,380.75 101.96,380.75" fill="#ee3a22" stroke="#ee3a22" stroke-width="0.4"/>
<line x1="108.16" y1="380.20" x2="108.16" y2="385.40" stroke="#ee3a22" stroke-width="0.9"/>
<line x1="106.36" y1="380.20" x2="109.95" y2="380.20" stroke="#ee3a22" stroke-width="0.9"/>
<line x1="106.36" y1="385.40" x2="109.95" y2="385.40" stroke="#ee3a22" stroke-width="0.9"/>
<polygon points="108.16,381.07 109.81,384.07 106.50,384.07" fill="#ee3a22" stroke="#ee3a22" stroke-width="0.4"/>
<line x1="112.70" y1="381.03" x2="112.70" y2="386.23" stroke="#ee3a22" stroke-width="0.9"/>
<line x1="110.90" y1="381.03" x2="114.50" y2="381.03" stroke="#ee3a22" stroke-width="0.9"/>
<line x1="110.90" y1="386.23" x2="114.50" y2="386.23" stroke="#ee3a22" stroke-width="0.9"/>
<polygon points="112.70,381.90 114.35,384.90 111.05,384.90" fill="#ee3a22" stroke="#ee3a22" stroke-width="0.4"/>
<line x1="117.25" y1="383.52" x2="117.25" y2="388.72" stroke="#ee3a22" stroke-width="0.9"/>
<line x1="115.45" y1="383.52" x2="119.05" y2="383.52" stroke="#ee3a22" stroke-width="0.9"/>
<line x1="115.45" y1="388.72" x2="119.05" y2="388.72" stroke="#ee3a22" stroke-width="0.9"/>
<polygon points="117.25,384.39 118.90,387.39 115.59,387.39" fill="#ee3a22" stroke="#ee3a22" stroke-width="0.4"/>
<line x1="121.79" y1="386.01" x2="121.79" y2="391.21" stroke="#ee3a22" stroke-width="0.9"/>
<line x1="119.99" y1="386.01" x2="123.59" y2="386.01" stroke="#ee3a22" stroke-width="0.9"/>
<line x1="119.99" y1="391.21" x2="123.59" y2="391.21" stroke="#ee3a22" stroke-width="0.9"/>
<polygon points="121.79,386.88 123.44,389.88 120.14,389.88" fill="#ee3a22" stroke="#ee3a22" stroke-width="0.4"/>
<line x1="125.43" y1="388.50" x2="125.43" y2="393.70" stroke="#ee3a22" stroke-width="0.9"/>
<line x1="123.63" y1="388.50" x2="127.23" y2="388.50" stroke="#ee3a22" stroke-width="0.9"/>
<line x1="123.63" y1="393.70" x2="127.23" y2="393.70" stroke="#ee3a22" stroke-width="0.9"/>
<polygon points="125.43,389.38 127.08,392.38 123.78,392.38" fill="#ee3a22" stroke="#ee3a22" stroke-width="0.4"/>
<line x1="129.37" y1="391.82" x2="129.37" y2="397.02" stroke="#ee3a22" stroke-width="0.9"/>
<line x1="127.57" y1="391.82" x2="131.17" y2="391.82" stroke="#ee3a22" stroke-width="0.9"/>
<line x1="127.57" y1="397.02" x2="131.17" y2="397.02" stroke="#ee3a22" stroke-width="0.9"/>
<polygon points="129.37,392.69 131.02,395.69 127.72,395.69" fill="#ee3a22" stroke="#ee3a22" stroke-width="0.4"/>
<line x1="133.91" y1="397.63" x2="133.91" y2="402.83" stroke="#ee3a22" stroke-width="0.9"/>
<line x1="132.11" y1="397.63" x2="135.71" y2="397.63" stroke="#ee3a22" stroke-width="0.9"/>
<line x1="132.11" y1="402.83" x2="135.71" y2="402.83" stroke="#ee3a22" stroke-width="0.9"/>
<polygon points="133.91,398.50 135.56,401.50 132.26,401.50" fill="#ee3a22" stroke="#ee3a22" stroke-width="0.4"/>
<line x1="94.52" y1="372.50" x2="94.52" y2="376.50" stroke="#8a1212" stroke-width="0.9"/>
<line x1="92.72" y1="372.50" x2="96.32" y2="372.50" stroke="#8a1212" stroke-width="0.9"/>
<line x1="92.72" y1="376.50" x2="96.32" y2="376.50" stroke="#8a1212" stroke-width="0.9"/>
<rect x="92.92" y="372.90" width="3.20" height="3.20" fill="#8a1212" stroke="#8a1212" stroke-width="0"/>
<line x1="99.06" y1="373.33" x2="99.06" y2="377.33" stroke="#8a1212" stroke-width="0.9"/>
<line x1="97.27" y1="373.33" x2="100.86" y2="373.33" stroke="#8a1212" stroke-width="0.9"/>
<line x1="97.27" y1="377.33" x2="100.86" y2="377.33" stroke="#8a1212" stroke-width="0.9"/>
<rect x="97.47" y="373.73" width="3.20" height="3.20" fill="#8a1212" stroke="#8a1212" stroke-width="0"/>
<line x1="103.61" y1="374.16" x2="103.61" y2="378.16" stroke="#8a1212" stroke-width="0.9"/>
<line x1="101.81" y1="374.16" x2="105.41" y2="374.16" stroke="#8a1212" stroke-width="0.9"/>
<line x1="101.81" y1="378.16" x2="105.41" y2="378.16" stroke="#8a1212" stroke-width="0.9"/>
<rect x="102.01" y="374.56" width="3.20" height="3.20" fill="#8a1212" stroke="#8a1212" stroke-width="0"/>
<line x1="108.16" y1="376.65" x2="108.16" y2="380.65" stroke="#8a1212" stroke-width="0.9"/>
<line x1="106.36" y1="376.65" x2="109.95" y2="376.65" stroke="#8a1212" stroke-width="0.9"/>
<line x1="106.36" y1="380.65" x2="109.95" y2="380.65" stroke="#8a1212" stroke-width="0.9"/>
<rect x="106.56" y="377.05" width="3.20" height="3.20" fill="#8a1212" stroke="#8a1212" stroke-width="0"/>
<line x1="112.70" y1="378.31" x2="112.70" y2="382.31" stroke="#8a1212" stroke-width="0.9"/>
<line x1="110.90" y1="378.31" x2="114.50" y2="378.31" stroke="#8a1212" stroke-width="0.9"/>
<line x1="110.90" y1="382.31" x2="114.50" y2="382.31" stroke="#8a1212" stroke-width="0.9"/>
<rect x="111.10" y="378.71" width="3.20" height="3.20" fill="#8a1212" stroke="#8a1212" stroke-width="0"/>
<line x1="117.25" y1="380.80" x2="117.25" y2="384.80" stroke="#8a1212" stroke-width="0.9"/>
<line x1="115.45" y1="380.80" x2="119.05" y2="380.80" stroke="#8a1212" stroke-width="0.9"/>
<line x1="115.45" y1="384.80" x2="119.05" y2="384.80" stroke="#8a1212" stroke-width="0.9"/>
<rect x="115.65" y="381.20" width="3.20" height="3.20" fill="#8a1212" stroke="#8a1212" stroke-width="0"/>
<line x1="121.79" y1="384.12" x2="121.79" y2="388.12" stroke="#8a1212" stroke-width="0.9"/>
<line x1="119.99" y1="384.12" x2="123.59" y2="384.12" stroke="#8a1212" stroke-width="0.9"/>
<line x1="119.99" y1="388.12" x2="123.59" y2="388.12" stroke="#8a1212" stroke-width="0.9"/>
<rect x="120.19" y="384.52" width="3.20" height="3.20" fill="#8a1212" stroke="#8a1212" stroke-width="0"/>
<line x1="125.43" y1="387.44" x2="125.43" y2="391.44" stroke="#8a1212" stroke-width="0.9"/>
<line x1="123.63" y1="387.44" x2="127.23" y2="387.44" stroke="#8a1212" stroke-width="0.9"/>
<line x1="123.63" y1="391.44" x2="127.23" y2="391.44" stroke="#8a1212" stroke-width="0.9"/>
<rect x="123.83" y="387.84" width="3.20" height="3.20" fill="#8a1212" stroke="#8a1212" stroke-width="0"/>
<line x1="129.37" y1="389.10" x2="129.37" y2="393.10" stroke="#8a1212" stroke-width="0.9"/>
<line x1="127.57" y1="389.10" x2="131.17" y2="389.10" stroke="#8a1212" stroke-width="0.9"/>
<line x1="127.57" y1="393.10" x2="131.17" y2="393.10" stroke="#8a1212" stroke-width="0.9"/>
<rect x="127.77" y="389.50" width="3.20" height="3.20" fill="#8a1212" stroke="#8a1212" stroke-width="0"/>
<line x1="133.91" y1="390.76" x2="133.91" y2="394.76" stroke="#8a1212" stroke-width="0.9"/>
<line x1="132.11" y1="390.76" x2="135.71" y2="390.76" stroke="#8a1212" stroke-width="0.9"/>
<line x1="132.11" y1="394.76" x2="135.71" y2="394.76" stroke="#8a1212" stroke-width="0.9"/>
<rect x="132.31" y="391.16" width="3.20" height="3.20" fill="#8a1212" stroke="#8a1212" stroke-width="0"/>
<line x1="37.00" y1="366.00" x2="37.00" y2="458.10" stroke="#000" stroke-width="1.3"/>
<line x1="36.40" y1="457.50" x2="173.80" y2="457.50" stroke="#000" stroke-width="1.3"/>
<line x1="34.20" y1="457.50" x2="37.00" y2="457.50" stroke="#000" stroke-width="1.1"/>
<text x="33.80" y="460.30" font-size="7.8" text-anchor="end" font-weight="bold" stroke="#000" stroke-width="0.33" fill="#000">0</text>
<line x1="34.20" y1="436.75" x2="37.00" y2="436.75" stroke="#000" stroke-width="1.1"/>
<text x="33.80" y="439.55" font-size="7.8" text-anchor="end" font-weight="bold" stroke="#000" stroke-width="0.33" fill="#000">25</text>
<line x1="34.20" y1="416.00" x2="37.00" y2="416.00" stroke="#000" stroke-width="1.1"/>
<text x="33.80" y="418.80" font-size="7.8" text-anchor="end" font-weight="bold" stroke="#000" stroke-width="0.33" fill="#000">50</text>
<line x1="34.20" y1="395.25" x2="37.00" y2="395.25" stroke="#000" stroke-width="1.1"/>
<text x="33.80" y="398.05" font-size="7.8" text-anchor="end" font-weight="bold" stroke="#000" stroke-width="0.33" fill="#000">75</text>
<line x1="34.20" y1="374.50" x2="37.00" y2="374.50" stroke="#000" stroke-width="1.1"/>
<text x="33.80" y="377.30" font-size="7.8" text-anchor="end" font-weight="bold" stroke="#000" stroke-width="0.33" fill="#000">100</text>
<line x1="52.10" y1="457.50" x2="52.10" y2="460.50" stroke="#000" stroke-width="1.1"/>
<text x="52.10" y="467.80" font-size="7.8" text-anchor="middle" font-weight="bold" stroke="#000" stroke-width="0.33" fill="#000">-2</text>
<line x1="82.40" y1="457.50" x2="82.40" y2="460.50" stroke="#000" stroke-width="1.1"/>
<text x="82.40" y="467.80" font-size="7.8" text-anchor="middle" font-weight="bold" stroke="#000" stroke-width="0.33" fill="#000">-1</text>
<line x1="112.70" y1="457.50" x2="112.70" y2="460.50" stroke="#000" stroke-width="1.1"/>
<text x="112.70" y="467.80" font-size="7.8" text-anchor="middle" font-weight="bold" stroke="#000" stroke-width="0.33" fill="#000">0</text>
<line x1="143.00" y1="457.50" x2="143.00" y2="460.50" stroke="#000" stroke-width="1.1"/>
<text x="143.00" y="467.80" font-size="7.8" text-anchor="middle" font-weight="bold" stroke="#000" stroke-width="0.33" fill="#000">1</text>
<line x1="173.30" y1="457.50" x2="173.30" y2="460.50" stroke="#000" stroke-width="1.1"/>
<text x="173.30" y="467.80" font-size="7.8" text-anchor="middle" font-weight="bold" stroke="#000" stroke-width="0.33" fill="#000">2</text>
<line x1="40.04" y1="457.50" x2="40.04" y2="459.10" stroke="#000" stroke-width="0.7"/>
<line x1="42.98" y1="457.50" x2="42.98" y2="459.10" stroke="#000" stroke-width="0.7"/>
<line x1="45.38" y1="457.50" x2="45.38" y2="459.10" stroke="#000" stroke-width="0.7"/>
<line x1="47.41" y1="457.50" x2="47.41" y2="459.10" stroke="#000" stroke-width="0.7"/>
<line x1="49.16" y1="457.50" x2="49.16" y2="459.10" stroke="#000" stroke-width="0.7"/>
<line x1="50.71" y1="457.50" x2="50.71" y2="459.10" stroke="#000" stroke-width="0.7"/>
<line x1="61.22" y1="457.50" x2="61.22" y2="459.10" stroke="#000" stroke-width="0.7"/>
<line x1="66.56" y1="457.50" x2="66.56" y2="459.10" stroke="#000" stroke-width="0.7"/>
<line x1="70.34" y1="457.50" x2="70.34" y2="459.10" stroke="#000" stroke-width="0.7"/>
<line x1="73.28" y1="457.50" x2="73.28" y2="459.10" stroke="#000" stroke-width="0.7"/>
<line x1="75.68" y1="457.50" x2="75.68" y2="459.10" stroke="#000" stroke-width="0.7"/>
<line x1="77.71" y1="457.50" x2="77.71" y2="459.10" stroke="#000" stroke-width="0.7"/>
<line x1="79.46" y1="457.50" x2="79.46" y2="459.10" stroke="#000" stroke-width="0.7"/>
<line x1="81.01" y1="457.50" x2="81.01" y2="459.10" stroke="#000" stroke-width="0.7"/>
<line x1="91.52" y1="457.50" x2="91.52" y2="459.10" stroke="#000" stroke-width="0.7"/>
<line x1="96.86" y1="457.50" x2="96.86" y2="459.10" stroke="#000" stroke-width="0.7"/>
<line x1="100.64" y1="457.50" x2="100.64" y2="459.10" stroke="#000" stroke-width="0.7"/>
<line x1="103.58" y1="457.50" x2="103.58" y2="459.10" stroke="#000" stroke-width="0.7"/>
<line x1="105.98" y1="457.50" x2="105.98" y2="459.10" stroke="#000" stroke-width="0.7"/>
<line x1="108.01" y1="457.50" x2="108.01" y2="459.10" stroke="#000" stroke-width="0.7"/>
<line x1="109.76" y1="457.50" x2="109.76" y2="459.10" stroke="#000" stroke-width="0.7"/>
<line x1="111.31" y1="457.50" x2="111.31" y2="459.10" stroke="#000" stroke-width="0.7"/>
<line x1="121.82" y1="457.50" x2="121.82" y2="459.10" stroke="#000" stroke-width="0.7"/>
<line x1="127.16" y1="457.50" x2="127.16" y2="459.10" stroke="#000" stroke-width="0.7"/>
<line x1="130.94" y1="457.50" x2="130.94" y2="459.10" stroke="#000" stroke-width="0.7"/>
<line x1="133.88" y1="457.50" x2="133.88" y2="459.10" stroke="#000" stroke-width="0.7"/>
<line x1="136.28" y1="457.50" x2="136.28" y2="459.10" stroke="#000" stroke-width="0.7"/>
<line x1="138.31" y1="457.50" x2="138.31" y2="459.10" stroke="#000" stroke-width="0.7"/>
<line x1="140.06" y1="457.50" x2="140.06" y2="459.10" stroke="#000" stroke-width="0.7"/>
<line x1="141.61" y1="457.50" x2="141.61" y2="459.10" stroke="#000" stroke-width="0.7"/>
<line x1="152.12" y1="457.50" x2="152.12" y2="459.10" stroke="#000" stroke-width="0.7"/>
<line x1="157.46" y1="457.50" x2="157.46" y2="459.10" stroke="#000" stroke-width="0.7"/>
<line x1="161.24" y1="457.50" x2="161.24" y2="459.10" stroke="#000" stroke-width="0.7"/>
<line x1="164.18" y1="457.50" x2="164.18" y2="459.10" stroke="#000" stroke-width="0.7"/>
<line x1="166.58" y1="457.50" x2="166.58" y2="459.10" stroke="#000" stroke-width="0.7"/>
<line x1="168.61" y1="457.50" x2="168.61" y2="459.10" stroke="#000" stroke-width="0.7"/>
<line x1="170.36" y1="457.50" x2="170.36" y2="459.10" stroke="#000" stroke-width="0.7"/>
<line x1="171.91" y1="457.50" x2="171.91" y2="459.10" stroke="#000" stroke-width="0.7"/>
<text x="16.20" y="411.80" font-size="8.2" text-anchor="middle" font-weight="bold" stroke="#000" stroke-width="0.34" transform="rotate(-90 16.20 411.80)" fill="#000">% Cell viability</text>
<text x="101.50" y="479.10" font-size="8.6" text-anchor="middle" font-weight="bold" stroke="#000" stroke-width="0.36" fill="#000">Log (Napabucasin) μmol/L</text>
<line x1="40.50" y1="426.50" x2="48.50" y2="426.50" stroke="#2fe22f" stroke-width="1.3"/>
<polygon points="44.50,428.34 46.26,425.14 42.74,425.14" fill="#2fe22f" stroke="#2fe22f" stroke-width="0.4"/>
<text x="51.30" y="428.90" font-size="6.8" text-anchor="start" stroke="#000" stroke-width="0.20" fill="#000">MiaPaCa2</text>
<line x1="40.50" y1="435.40" x2="48.50" y2="435.40" stroke="#4a1a9c" stroke-width="1.3"/>
<polygon points="44.50,437.24 46.26,434.04 42.74,434.04" fill="#4a1a9c" stroke="#4a1a9c" stroke-width="0.4"/>
<text x="51.30" y="437.80" font-size="6.8" text-anchor="start" stroke="#000" stroke-width="0.20" fill="#000">AsPc1</text>
<line x1="40.50" y1="444.20" x2="48.50" y2="444.20" stroke="#ee3a22" stroke-width="1.3"/>
<polygon points="44.50,442.36 46.26,445.56 42.74,445.56" fill="#ee3a22" stroke="#ee3a22" stroke-width="0.4"/>
<text x="51.30" y="446.60" font-size="6.8" text-anchor="start" stroke="#000" stroke-width="0.20" fill="#000">Panc1</text>
<line x1="40.50" y1="453.00" x2="48.50" y2="453.00" stroke="#8a1212" stroke-width="1.3"/>
<rect x="42.90" y="451.40" width="3.20" height="3.20" fill="#8a1212" stroke="#8a1212" stroke-width="0"/>
<text x="51.30" y="455.40" font-size="6.8" text-anchor="start" stroke="#000" stroke-width="0.20" fill="#000">Suit2</text>
<text x="201.30" y="358.20" font-size="12.6" text-anchor="start" font-weight="bold" stroke="#000" stroke-width="0.40" fill="#000">E</text>
<path d="M232.62,451.13 L233.33,451.13 L234.04,451.13 L234.74,451.13 L235.45,451.13 L236.15,451.13 L236.86,451.13 L237.56,451.13 L238.27,451.13 L238.97,451.13 L239.68,451.13 L240.38,451.13 L241.09,451.13 L241.79,451.13 L242.50,451.13 L243.20,451.13 L243.91,451.13 L244.61,451.13 L245.32,451.13 L246.02,451.13 L246.73,451.13 L247.43,451.13 L248.14,451.13 L248.84,451.13 L249.55,451.13 L250.25,451.13 L250.96,451.13 L251.66,451.13 L252.37,451.13 L253.07,451.13 L253.78,451.13 L254.48,451.13 L255.19,451.13 L255.89,451.13 L256.60,451.13 L257.30,451.13 L258.01,451.13 L258.71,451.13 L259.42,451.13 L260.12,451.13 L260.83,451.13 L261.53,451.13 L262.24,451.13 L262.94,451.13 L263.65,451.13 L264.35,451.13 L265.06,451.13 L265.76,451.13 L266.47,451.13 L267.17,451.13 L267.88,451.13 L268.58,451.13 L269.29,451.13 L269.99,451.13 L270.70,451.13 L271.40,451.13 L272.11,451.13 L272.81,451.13 L273.52,451.13 L274.22,451.13 L274.93,451.13 L275.63,451.13 L276.34,451.13 L277.04,451.13 L277.75,451.13 L278.45,451.13 L279.16,451.13 L279.86,451.13 L280.57,451.13 L281.27,451.13 L281.98,451.13 L282.68,451.13 L283.39,451.13 L284.09,451.13 L284.80,451.13 L285.50,451.13 L286.21,451.13 L286.91,451.13 L287.62,451.13 L288.32,451.13 L289.03,451.13 L289.73,451.13 L290.44,451.13 L291.14,451.13 L291.85,451.13 L292.55,451.13 L293.26,451.13 L293.96,451.13 L294.67,451.13 L295.37,451.13 L296.08,451.13 L296.78,451.13 L297.49,451.13 L298.19,451.13 L298.90,451.13 L299.60,451.13 L300.31,451.13 L301.01,451.13 L301.72,451.13 L302.42,451.12 L303.13,451.11 L303.83,451.10 L304.54,451.08 L305.24,451.06 L305.95,451.04 L306.65,451.01 L307.36,450.98 L308.06,450.94 L308.77,450.91 L309.47,450.86 L310.18,450.82 L310.88,450.77 L311.59,450.72 L312.29,450.61 L313.00,450.36 L313.70,449.99 L314.41,449.52 L315.11,448.94 L315.82,448.28 L316.52,447.55 L317.23,446.76 L317.93,445.93 L318.64,445.06 L319.34,444.17 L320.05,443.27 L320.75,442.35 L321.46,441.30 L322.16,440.11 L322.87,438.80 L323.57,437.37 L324.28,435.85 L324.98,434.24 L325.69,432.55 L326.39,430.80 L327.10,428.89 L327.80,426.80 L328.51,424.54 L329.21,422.10 L329.92,419.50 L330.62,416.72 L331.33,413.54 L332.03,410.02 L332.74,406.31 L333.44,402.56 L334.15,398.90 L334.85,395.22 L335.56,391.49 L336.26,387.72 L336.97,383.89 L337.67,380.01" stroke="#4a1a9c" stroke-width="1.5" fill="none" stroke-linejoin="round" stroke-linecap="round"/>
<path d="M232.62,451.13 L233.40,451.13 L234.17,451.13 L234.94,451.13 L235.71,451.13 L236.48,451.13 L237.26,451.13 L238.03,451.13 L238.80,451.13 L239.57,451.13 L240.34,451.13 L241.11,451.13 L241.89,451.13 L242.66,451.12 L243.43,451.12 L244.20,451.12 L244.97,451.12 L245.75,451.12 L246.52,451.12 L247.29,451.12 L248.06,451.12 L248.83,451.12 L249.60,451.12 L250.38,451.11 L251.15,451.11 L251.92,451.11 L252.69,451.11 L253.46,451.11 L254.23,451.11 L255.01,451.10 L255.78,451.10 L256.55,451.10 L257.32,451.10 L258.09,451.10 L258.87,451.09 L259.64,451.09 L260.41,451.09 L261.18,451.09 L261.95,451.08 L262.72,451.08 L263.50,451.08 L264.27,451.08 L265.04,451.07 L265.81,451.07 L266.58,451.07 L267.36,451.07 L268.13,451.06 L268.90,451.06 L269.67,451.06 L270.44,451.05 L271.21,451.05 L271.99,451.05 L272.76,451.04 L273.53,451.04 L274.30,451.04 L275.07,451.03 L275.84,451.03 L276.62,451.02 L277.39,451.02 L278.16,451.02 L278.93,451.01 L279.70,451.01 L280.48,451.00 L281.25,451.00 L282.02,451.00 L282.79,450.99 L283.56,450.99 L284.33,450.98 L285.11,450.98 L285.88,450.97 L286.65,450.97 L287.42,450.96 L288.19,450.96 L288.96,450.95 L289.74,450.93 L290.51,450.92 L291.28,450.90 L292.05,450.88 L292.82,450.86 L293.60,450.84 L294.37,450.81 L295.14,450.78 L295.91,450.75 L296.68,450.72 L297.45,450.69 L298.23,450.65 L299.00,450.62 L299.77,450.58 L300.54,450.54 L301.31,450.50 L302.09,450.46 L302.86,450.42 L303.63,450.38 L304.40,450.33 L305.17,450.29 L305.94,450.24 L306.72,450.20 L307.49,450.15 L308.26,450.10 L309.03,450.05 L309.80,450.01 L310.57,449.96 L311.35,449.91 L312.12,449.86 L312.89,449.81 L313.66,449.75 L314.43,449.69 L315.21,449.63 L315.98,449.57 L316.75,449.50 L317.52,449.43 L318.29,449.36 L319.06,449.29 L319.84,449.21 L320.61,449.13 L321.38,449.04 L322.15,448.96 L322.92,448.87 L323.69,448.78 L324.47,448.69 L325.24,448.59 L326.01,448.50 L326.78,448.40 L327.55,448.30 L328.33,448.19 L329.10,448.08 L329.87,447.97 L330.64,447.86 L331.41,447.74 L332.18,447.61 L332.96,447.48 L333.73,447.34 L334.50,447.19 L335.27,447.04 L336.04,446.87 L336.82,446.70 L337.59,446.51 L338.36,446.31 L339.13,446.10 L339.90,445.86 L340.67,445.59 L341.45,445.28 L342.22,444.95 L342.99,444.59 L343.76,444.20 L344.53,443.80 L345.30,443.38 L346.08,442.94 L346.85,442.49 L347.62,442.03" stroke="#ee3a22" stroke-width="1.4" fill="none" stroke-linejoin="round" stroke-linecap="round"/>
<path d="M232.62,451.38 L233.40,451.38 L234.17,451.38 L234.94,451.38 L235.71,451.38 L236.48,451.38 L237.26,451.38 L238.03,451.38 L238.80,451.38 L239.57,451.38 L240.34,451.38 L241.11,451.37 L241.89,451.37 L242.66,451.37 L243.43,451.37 L244.20,451.37 L244.97,451.37 L245.75,451.37 L246.52,451.37 L247.29,451.37 L248.06,451.37 L248.83,451.36 L249.60,451.36 L250.38,451.36 L251.15,451.36 L251.92,451.36 L252.69,451.36 L253.46,451.36 L254.23,451.35 L255.01,451.35 L255.78,451.35 L256.55,451.35 L257.32,451.35 L258.09,451.34 L258.87,451.34 L259.64,451.34 L260.41,451.34 L261.18,451.33 L261.95,451.33 L262.72,451.33 L263.50,451.33 L264.27,451.32 L265.04,451.32 L265.81,451.32 L266.58,451.32 L267.36,451.31 L268.13,451.31 L268.90,451.31 L269.67,451.30 L270.44,451.30 L271.21,451.30 L271.99,451.29 L272.76,451.29 L273.53,451.29 L274.30,451.28 L275.07,451.28 L275.84,451.28 L276.62,451.27 L277.39,451.27 L278.16,451.26 L278.93,451.26 L279.70,451.26 L280.48,451.25 L281.25,451.25 L282.02,451.24 L282.79,451.24 L283.56,451.23 L284.33,451.23 L285.11,451.23 L285.88,451.22 L286.65,451.22 L287.42,451.21 L288.19,451.20 L288.96,451.19 L289.74,451.18 L290.51,451.17 L291.28,451.15 L292.05,451.13 L292.82,451.11 L293.60,451.08 L294.37,451.06 L295.14,451.03 L295.91,451.00 L296.68,450.97 L297.45,450.94 L298.23,450.90 L299.00,450.87 L299.77,450.83 L300.54,450.79 L301.31,450.75 L302.09,450.71 L302.86,450.67 L303.63,450.62 L304.40,450.58 L305.17,450.54 L305.94,450.49 L306.72,450.44 L307.49,450.40 L308.26,450.35 L309.03,450.30 L309.80,450.25 L310.57,450.21 L311.35,450.16 L312.12,450.11 L312.89,450.06 L313.66,450.00 L314.43,449.94 L315.21,449.88 L315.98,449.82 L316.75,449.75 L317.52,449.68 L318.29,449.61 L319.06,449.53 L319.84,449.46 L320.61,449.38 L321.38,449.29 L322.15,449.21 L322.92,449.12 L323.69,449.03 L324.47,448.94 L325.24,448.84 L326.01,448.74 L326.78,448.65 L327.55,448.54 L328.33,448.44 L329.10,448.33 L329.87,448.22 L330.64,448.11 L331.41,447.99 L332.18,447.86 L332.96,447.73 L333.73,447.59 L334.50,447.44 L335.27,447.29 L336.04,447.12 L336.82,446.95 L337.59,446.76 L338.36,446.56 L339.13,446.35 L339.90,446.11 L340.67,445.84 L341.45,445.53 L342.22,445.20 L342.99,444.84 L343.76,444.45 L344.53,444.05 L345.30,443.63 L346.08,443.19 L346.85,442.74 L347.62,442.28" stroke="#8a1212" stroke-width="1.6" fill="none" stroke-linejoin="round" stroke-linecap="round"/>
<path d="M315.82,448.28 L316.52,447.55 L317.23,446.76 L317.93,445.93 L318.64,445.06 L319.34,444.17 L320.05,443.27 L320.75,442.35 L321.46,441.30 L322.16,440.11 L322.87,438.80 L323.57,437.37 L324.28,435.85 L324.98,434.24 L325.69,432.55 L326.39,430.80 L327.10,428.89 L327.80,426.80 L328.51,424.54 L329.21,422.10 L329.92,419.50 L330.62,416.72 L331.33,413.54 L332.03,410.02 L332.74,406.31 L333.44,402.56 L334.15,398.90 L334.85,395.22 L335.56,391.49 L336.26,387.72 L336.97,383.89 L337.67,380.01" stroke="#4a1a9c" stroke-width="1.5" fill="none" stroke-linejoin="round" stroke-linecap="round"/>
<path d="M232.62,451.13 L233.33,451.13 L234.04,451.13 L234.74,451.13 L235.45,451.13 L236.15,451.13 L236.86,451.12 L237.56,451.12 L238.27,451.12 L238.97,451.12 L239.68,451.11 L240.38,451.11 L241.09,451.11 L241.79,451.10 L242.50,451.10 L243.20,451.09 L243.91,451.09 L244.61,451.08 L245.32,451.07 L246.02,451.07 L246.73,451.06 L247.43,451.05 L248.14,451.05 L248.84,451.04 L249.55,451.03 L250.25,451.02 L250.96,451.02 L251.66,451.01 L252.37,451.00 L253.07,450.99 L253.78,450.98 L254.48,450.97 L255.19,450.96 L255.89,450.95 L256.60,450.94 L257.30,450.93 L258.01,450.91 L258.71,450.90 L259.42,450.89 L260.12,450.88 L260.83,450.86 L261.53,450.84 L262.24,450.81 L262.94,450.78 L263.65,450.74 L264.35,450.70 L265.06,450.66 L265.76,450.61 L266.47,450.56 L267.17,450.50 L267.88,450.44 L268.58,450.38 L269.29,450.32 L269.99,450.25 L270.70,450.18 L271.40,450.11 L272.11,450.04 L272.81,449.96 L273.52,449.89 L274.22,449.81 L274.93,449.72 L275.63,449.62 L276.34,449.51 L277.04,449.39 L277.75,449.27 L278.45,449.13 L279.16,448.99 L279.86,448.85 L280.57,448.69 L281.27,448.53 L281.98,448.37 L282.68,448.19 L283.39,448.02 L284.09,447.83 L284.80,447.65 L285.50,447.45 L286.21,447.26 L286.91,447.06 L287.62,446.85 L288.32,446.64 L289.03,446.42 L289.73,446.19 L290.44,445.95 L291.14,445.70 L291.85,445.44 L292.55,445.17 L293.26,444.88 L293.96,444.59 L294.67,444.27 L295.37,443.95 L296.08,443.60 L296.78,443.24 L297.49,442.87 L298.19,442.47 L298.90,442.06 L299.60,441.62 L300.31,441.17 L301.01,440.69 L301.72,440.14 L302.42,439.50 L303.13,438.78 L303.83,438.00 L304.54,437.15 L305.24,436.25 L305.95,435.29 L306.65,434.29 L307.36,433.25 L308.06,432.17 L308.77,431.08 L309.47,429.96 L310.18,428.83 L310.88,427.69 L311.59,426.56 L312.29,425.43 L313.00,424.31 L313.70,423.21 L314.41,422.14 L315.11,421.07 L315.82,420.00 L316.52,418.91 L317.23,417.82 L317.93,416.72 L318.64,415.61 L319.34,414.48 L320.05,413.34 L320.75,412.19 L321.46,411.03 L322.16,409.85 L322.87,408.66 L323.57,407.46 L324.28,406.24 L324.98,405.00 L325.69,403.75 L326.39,402.48 L327.10,401.20 L327.80,399.89 L328.51,398.57 L329.21,397.21 L329.92,395.83 L330.62,394.43 L331.33,393.00 L332.03,391.54 L332.74,390.06 L333.44,388.56 L334.15,387.05 L334.85,385.51 L335.56,383.95 L336.26,382.38 L336.97,380.79 L337.67,379.18" stroke="#2fe22f" stroke-width="2.0" fill="none" stroke-linejoin="round" stroke-linecap="round"/>
<line x1="292.57" y1="445.68" x2="292.57" y2="447.48" stroke="#2fe22f" stroke-width="0.8"/>
<line x1="291.38" y1="445.68" x2="293.77" y2="445.68" stroke="#2fe22f" stroke-width="0.8"/>
<line x1="291.38" y1="447.48" x2="293.77" y2="447.48" stroke="#2fe22f" stroke-width="0.8"/>
<polygon points="292.57,448.65 294.56,445.05 290.59,445.05" fill="#2fe22f" stroke="#2fe22f" stroke-width="0.4"/>
<line x1="298.02" y1="443.61" x2="298.02" y2="445.41" stroke="#2fe22f" stroke-width="0.8"/>
<line x1="296.82" y1="443.61" x2="299.22" y2="443.61" stroke="#2fe22f" stroke-width="0.8"/>
<line x1="296.82" y1="445.41" x2="299.22" y2="445.41" stroke="#2fe22f" stroke-width="0.8"/>
<polygon points="298.02,446.58 300.00,442.98 296.04,442.98" fill="#2fe22f" stroke="#2fe22f" stroke-width="0.4"/>
<line x1="303.48" y1="440.31" x2="303.48" y2="442.11" stroke="#2fe22f" stroke-width="0.8"/>
<line x1="302.28" y1="440.31" x2="304.68" y2="440.31" stroke="#2fe22f" stroke-width="0.8"/>
<line x1="302.28" y1="442.11" x2="304.68" y2="442.11" stroke="#2fe22f" stroke-width="0.8"/>
<polygon points="303.48,443.28 305.46,439.68 301.50,439.68" fill="#2fe22f" stroke="#2fe22f" stroke-width="0.4"/>
<line x1="308.38" y1="431.21" x2="308.38" y2="433.01" stroke="#2fe22f" stroke-width="0.8"/>
<line x1="307.18" y1="431.21" x2="309.58" y2="431.21" stroke="#2fe22f" stroke-width="0.8"/>
<line x1="307.18" y1="433.01" x2="309.58" y2="433.01" stroke="#2fe22f" stroke-width="0.8"/>
<polygon points="308.38,434.18 310.36,430.58 306.40,430.58" fill="#2fe22f" stroke="#2fe22f" stroke-width="0.4"/>
<line x1="314.38" y1="417.98" x2="314.38" y2="419.78" stroke="#2fe22f" stroke-width="0.8"/>
<line x1="313.18" y1="417.98" x2="315.57" y2="417.98" stroke="#2fe22f" stroke-width="0.8"/>
<line x1="313.18" y1="419.78" x2="315.57" y2="419.78" stroke="#2fe22f" stroke-width="0.8"/>
<polygon points="314.38,420.95 316.36,417.35 312.39,417.35" fill="#2fe22f" stroke="#2fe22f" stroke-width="0.4"/>
<line x1="318.46" y1="410.53" x2="318.46" y2="412.33" stroke="#2fe22f" stroke-width="0.8"/>
<line x1="317.26" y1="410.53" x2="319.66" y2="410.53" stroke="#2fe22f" stroke-width="0.8"/>
<line x1="317.26" y1="412.33" x2="319.66" y2="412.33" stroke="#2fe22f" stroke-width="0.8"/>
<polygon points="318.46,413.50 320.44,409.90 316.48,409.90" fill="#2fe22f" stroke="#2fe22f" stroke-width="0.4"/>
<line x1="322.55" y1="407.23" x2="322.55" y2="409.03" stroke="#2fe22f" stroke-width="0.8"/>
<line x1="321.35" y1="407.23" x2="323.75" y2="407.23" stroke="#2fe22f" stroke-width="0.8"/>
<line x1="321.35" y1="409.03" x2="323.75" y2="409.03" stroke="#2fe22f" stroke-width="0.8"/>
<polygon points="322.55,410.20 324.53,406.60 320.57,406.60" fill="#2fe22f" stroke="#2fe22f" stroke-width="0.4"/>
<line x1="325.82" y1="401.44" x2="325.82" y2="403.24" stroke="#2fe22f" stroke-width="0.8"/>
<line x1="324.62" y1="401.44" x2="327.02" y2="401.44" stroke="#2fe22f" stroke-width="0.8"/>
<line x1="324.62" y1="403.24" x2="327.02" y2="403.24" stroke="#2fe22f" stroke-width="0.8"/>
<polygon points="325.82,404.41 327.80,400.81 323.84,400.81" fill="#2fe22f" stroke="#2fe22f" stroke-width="0.4"/>
<line x1="330.18" y1="392.34" x2="330.18" y2="394.14" stroke="#2fe22f" stroke-width="0.8"/>
<line x1="328.98" y1="392.34" x2="331.38" y2="392.34" stroke="#2fe22f" stroke-width="0.8"/>
<line x1="328.98" y1="394.14" x2="331.38" y2="394.14" stroke="#2fe22f" stroke-width="0.8"/>
<polygon points="330.18,395.31 332.16,391.71 328.20,391.71" fill="#2fe22f" stroke="#2fe22f" stroke-width="0.4"/>
<line x1="336.18" y1="378.28" x2="336.18" y2="380.08" stroke="#2fe22f" stroke-width="0.8"/>
<line x1="334.98" y1="378.28" x2="337.38" y2="378.28" stroke="#2fe22f" stroke-width="0.8"/>
<line x1="334.98" y1="380.08" x2="337.38" y2="380.08" stroke="#2fe22f" stroke-width="0.8"/>
<polygon points="336.18,381.25 338.16,377.65 334.19,377.65" fill="#2fe22f" stroke="#2fe22f" stroke-width="0.4"/>
<line x1="337.81" y1="379.11" x2="337.81" y2="380.91" stroke="#2fe22f" stroke-width="0.8"/>
<line x1="336.61" y1="379.11" x2="339.01" y2="379.11" stroke="#2fe22f" stroke-width="0.8"/>
<line x1="336.61" y1="380.91" x2="339.01" y2="380.91" stroke="#2fe22f" stroke-width="0.8"/>
<polygon points="337.81,382.08 339.79,378.48 335.83,378.48" fill="#2fe22f" stroke="#2fe22f" stroke-width="0.4"/>
<polygon points="314.38,450.60 316.25,447.20 312.50,447.20" fill="#4a1a9c" stroke="#4a1a9c" stroke-width="0.4"/>
<polygon points="319.28,445.64 321.15,442.24 317.41,442.24" fill="#4a1a9c" stroke="#4a1a9c" stroke-width="0.4"/>
<polygon points="326.09,433.24 327.96,429.84 324.22,429.84" fill="#4a1a9c" stroke="#4a1a9c" stroke-width="0.4"/>
<polygon points="329.91,421.66 331.78,418.26 328.04,418.26" fill="#4a1a9c" stroke="#4a1a9c" stroke-width="0.4"/>
<polygon points="333.45,401.81 335.32,398.41 331.58,398.41" fill="#4a1a9c" stroke="#4a1a9c" stroke-width="0.4"/>
<polygon points="337.81,382.38 339.68,378.98 335.94,378.98" fill="#4a1a9c" stroke="#4a1a9c" stroke-width="0.4"/>
<rect x="309.95" y="448.52" width="3.40" height="3.40" fill="#8a1212" stroke="#8a1212" stroke-width="0"/>
<polygon points="312.45,449.27 313.55,451.27 311.35,451.27" fill="#ee3a22" stroke="#ee3a22" stroke-width="0.4"/>
<rect x="313.49" y="447.52" width="3.40" height="3.40" fill="#8a1212" stroke="#8a1212" stroke-width="0"/>
<polygon points="315.99,448.27 317.09,450.27 314.89,450.27" fill="#ee3a22" stroke="#ee3a22" stroke-width="0.4"/>
<rect x="317.04" y="447.95" width="3.40" height="3.40" fill="#8a1212" stroke="#8a1212" stroke-width="0"/>
<polygon points="319.54,448.70 320.64,450.70 318.44,450.70" fill="#ee3a22" stroke="#ee3a22" stroke-width="0.4"/>
<rect x="320.58" y="446.83" width="3.40" height="3.40" fill="#8a1212" stroke="#8a1212" stroke-width="0"/>
<polygon points="323.08,447.58 324.18,449.58 321.98,449.58" fill="#ee3a22" stroke="#ee3a22" stroke-width="0.4"/>
<rect x="324.12" y="447.15" width="3.40" height="3.40" fill="#8a1212" stroke="#8a1212" stroke-width="0"/>
<polygon points="326.62,447.90 327.72,449.90 325.52,449.90" fill="#ee3a22" stroke="#ee3a22" stroke-width="0.4"/>
<rect x="327.66" y="445.93" width="3.40" height="3.40" fill="#8a1212" stroke="#8a1212" stroke-width="0"/>
<polygon points="330.16,446.68 331.26,448.68 329.06,448.68" fill="#ee3a22" stroke="#ee3a22" stroke-width="0.4"/>
<rect x="331.20" y="446.12" width="3.40" height="3.40" fill="#8a1212" stroke="#8a1212" stroke-width="0"/>
<polygon points="333.70,446.87 334.81,448.87 332.60,448.87" fill="#ee3a22" stroke="#ee3a22" stroke-width="0.4"/>
<rect x="334.75" y="444.67" width="3.40" height="3.40" fill="#8a1212" stroke="#8a1212" stroke-width="0"/>
<polygon points="337.25,445.42 338.35,447.42 336.15,447.42" fill="#ee3a22" stroke="#ee3a22" stroke-width="0.4"/>
<rect x="338.29" y="444.46" width="3.40" height="3.40" fill="#8a1212" stroke="#8a1212" stroke-width="0"/>
<polygon points="340.79,445.21 341.89,447.21 339.69,447.21" fill="#ee3a22" stroke="#ee3a22" stroke-width="0.4"/>
<rect x="341.83" y="442.21" width="3.40" height="3.40" fill="#8a1212" stroke="#8a1212" stroke-width="0"/>
<polygon points="344.33,442.96 345.43,444.96 343.23,444.96" fill="#ee3a22" stroke="#ee3a22" stroke-width="0.4"/>
<rect x="345.38" y="440.99" width="3.40" height="3.40" fill="#8a1212" stroke="#8a1212" stroke-width="0"/>
<polygon points="347.88,441.74 348.98,443.74 346.77,443.74" fill="#ee3a22" stroke="#ee3a22" stroke-width="0.4"/>
<line x1="232.30" y1="368.50" x2="232.30" y2="460.00" stroke="#000" stroke-width="1.3"/>
<line x1="231.70" y1="459.40" x2="368.80" y2="459.40" stroke="#000" stroke-width="1.3"/>
<line x1="229.50" y1="459.40" x2="232.30" y2="459.40" stroke="#000" stroke-width="1.1"/>
<text x="229.10" y="462.20" font-size="7.8" text-anchor="end" font-weight="bold" stroke="#000" stroke-width="0.33" fill="#000">0.0</text>
<line x1="229.50" y1="438.72" x2="232.30" y2="438.72" stroke="#000" stroke-width="1.1"/>
<text x="229.10" y="441.52" font-size="7.8" text-anchor="end" font-weight="bold" stroke="#000" stroke-width="0.33" fill="#000">2.5</text>
<line x1="229.50" y1="418.05" x2="232.30" y2="418.05" stroke="#000" stroke-width="1.1"/>
<text x="229.10" y="420.85" font-size="7.8" text-anchor="end" font-weight="bold" stroke="#000" stroke-width="0.33" fill="#000">5.0</text>
<line x1="229.50" y1="397.38" x2="232.30" y2="397.38" stroke="#000" stroke-width="1.1"/>
<text x="229.10" y="400.18" font-size="7.8" text-anchor="end" font-weight="bold" stroke="#000" stroke-width="0.33" fill="#000">7.5</text>
<line x1="229.50" y1="376.70" x2="232.30" y2="376.70" stroke="#000" stroke-width="1.1"/>
<text x="229.10" y="379.50" font-size="7.8" text-anchor="end" font-weight="bold" stroke="#000" stroke-width="0.33" fill="#000">10.0</text>
<line x1="246.25" y1="459.40" x2="246.25" y2="462.40" stroke="#000" stroke-width="1.1"/>
<text x="246.25" y="469.90" font-size="7.8" text-anchor="middle" font-weight="bold" stroke="#000" stroke-width="0.33" fill="#000">-3</text>
<line x1="273.50" y1="459.40" x2="273.50" y2="462.40" stroke="#000" stroke-width="1.1"/>
<text x="273.50" y="469.90" font-size="7.8" text-anchor="middle" font-weight="bold" stroke="#000" stroke-width="0.33" fill="#000">-2</text>
<line x1="300.75" y1="459.40" x2="300.75" y2="462.40" stroke="#000" stroke-width="1.1"/>
<text x="300.75" y="469.90" font-size="7.8" text-anchor="middle" font-weight="bold" stroke="#000" stroke-width="0.33" fill="#000">-1</text>
<line x1="328.00" y1="459.40" x2="328.00" y2="462.40" stroke="#000" stroke-width="1.1"/>
<text x="328.00" y="469.90" font-size="7.8" text-anchor="middle" font-weight="bold" stroke="#000" stroke-width="0.33" fill="#000">0</text>
<line x1="355.25" y1="459.40" x2="355.25" y2="462.40" stroke="#000" stroke-width="1.1"/>
<text x="355.25" y="469.90" font-size="7.8" text-anchor="middle" font-weight="bold" stroke="#000" stroke-width="0.33" fill="#000">1</text>
<line x1="235.41" y1="459.40" x2="235.41" y2="461.00" stroke="#000" stroke-width="0.7"/>
<line x1="238.05" y1="459.40" x2="238.05" y2="461.00" stroke="#000" stroke-width="0.7"/>
<line x1="240.20" y1="459.40" x2="240.20" y2="461.00" stroke="#000" stroke-width="0.7"/>
<line x1="242.03" y1="459.40" x2="242.03" y2="461.00" stroke="#000" stroke-width="0.7"/>
<line x1="243.61" y1="459.40" x2="243.61" y2="461.00" stroke="#000" stroke-width="0.7"/>
<line x1="245.00" y1="459.40" x2="245.00" y2="461.00" stroke="#000" stroke-width="0.7"/>
<line x1="254.45" y1="459.40" x2="254.45" y2="461.00" stroke="#000" stroke-width="0.7"/>
<line x1="259.25" y1="459.40" x2="259.25" y2="461.00" stroke="#000" stroke-width="0.7"/>
<line x1="262.66" y1="459.40" x2="262.66" y2="461.00" stroke="#000" stroke-width="0.7"/>
<line x1="265.30" y1="459.40" x2="265.30" y2="461.00" stroke="#000" stroke-width="0.7"/>
<line x1="267.45" y1="459.40" x2="267.45" y2="461.00" stroke="#000" stroke-width="0.7"/>
<line x1="269.28" y1="459.40" x2="269.28" y2="461.00" stroke="#000" stroke-width="0.7"/>
<line x1="270.86" y1="459.40" x2="270.86" y2="461.00" stroke="#000" stroke-width="0.7"/>
<line x1="272.25" y1="459.40" x2="272.25" y2="461.00" stroke="#000" stroke-width="0.7"/>
<line x1="281.70" y1="459.40" x2="281.70" y2="461.00" stroke="#000" stroke-width="0.7"/>
<line x1="286.50" y1="459.40" x2="286.50" y2="461.00" stroke="#000" stroke-width="0.7"/>
<line x1="289.91" y1="459.40" x2="289.91" y2="461.00" stroke="#000" stroke-width="0.7"/>
<line x1="292.55" y1="459.40" x2="292.55" y2="461.00" stroke="#000" stroke-width="0.7"/>
<line x1="294.70" y1="459.40" x2="294.70" y2="461.00" stroke="#000" stroke-width="0.7"/>
<line x1="296.53" y1="459.40" x2="296.53" y2="461.00" stroke="#000" stroke-width="0.7"/>
<line x1="298.11" y1="459.40" x2="298.11" y2="461.00" stroke="#000" stroke-width="0.7"/>
<line x1="299.50" y1="459.40" x2="299.50" y2="461.00" stroke="#000" stroke-width="0.7"/>
<line x1="308.95" y1="459.40" x2="308.95" y2="461.00" stroke="#000" stroke-width="0.7"/>
<line x1="313.75" y1="459.40" x2="313.75" y2="461.00" stroke="#000" stroke-width="0.7"/>
<line x1="317.16" y1="459.40" x2="317.16" y2="461.00" stroke="#000" stroke-width="0.7"/>
<line x1="319.80" y1="459.40" x2="319.80" y2="461.00" stroke="#000" stroke-width="0.7"/>
<line x1="321.95" y1="459.40" x2="321.95" y2="461.00" stroke="#000" stroke-width="0.7"/>
<line x1="323.78" y1="459.40" x2="323.78" y2="461.00" stroke="#000" stroke-width="0.7"/>
<line x1="325.36" y1="459.40" x2="325.36" y2="461.00" stroke="#000" stroke-width="0.7"/>
<line x1="326.75" y1="459.40" x2="326.75" y2="461.00" stroke="#000" stroke-width="0.7"/>
<line x1="336.20" y1="459.40" x2="336.20" y2="461.00" stroke="#000" stroke-width="0.7"/>
<line x1="341.00" y1="459.40" x2="341.00" y2="461.00" stroke="#000" stroke-width="0.7"/>
<line x1="344.41" y1="459.40" x2="344.41" y2="461.00" stroke="#000" stroke-width="0.7"/>
<line x1="347.05" y1="459.40" x2="347.05" y2="461.00" stroke="#000" stroke-width="0.7"/>
<line x1="349.20" y1="459.40" x2="349.20" y2="461.00" stroke="#000" stroke-width="0.7"/>
<line x1="351.03" y1="459.40" x2="351.03" y2="461.00" stroke="#000" stroke-width="0.7"/>
<line x1="352.61" y1="459.40" x2="352.61" y2="461.00" stroke="#000" stroke-width="0.7"/>
<line x1="354.00" y1="459.40" x2="354.00" y2="461.00" stroke="#000" stroke-width="0.7"/>
<line x1="363.45" y1="459.40" x2="363.45" y2="461.00" stroke="#000" stroke-width="0.7"/>
<line x1="368.25" y1="459.40" x2="368.25" y2="461.00" stroke="#000" stroke-width="0.7"/>
<text x="210.8" y="412.3" font-size="7.9" font-weight="bold" text-anchor="middle" transform="rotate(-90 210.8 412.3)">Relative H<tspan font-size="5.4" dy="1.6">2</tspan><tspan dy="-1.6">O</tspan><tspan font-size="5.4" dy="1.6">2</tspan><tspan dy="-1.6"> generation</tspan></text>
<text x="298.80" y="480.50" font-size="8.55" text-anchor="middle" font-weight="bold" stroke="#000" stroke-width="0.36" fill="#000">Log (Napabucasin) μmol/L</text>
<line x1="237.30" y1="372.00" x2="245.60" y2="372.00" stroke="#2fe22f" stroke-width="1.3"/>
<polygon points="241.40,373.84 243.16,370.64 239.64,370.64" fill="#2fe22f" stroke="#2fe22f" stroke-width="0.4"/>
<text x="248.80" y="374.40" font-size="6.8" text-anchor="start" stroke="#000" stroke-width="0.20" fill="#000">MiaPaCa2</text>
<line x1="237.30" y1="381.80" x2="245.60" y2="381.80" stroke="#4a1a9c" stroke-width="1.3"/>
<polygon points="241.40,383.64 243.16,380.44 239.64,380.44" fill="#4a1a9c" stroke="#4a1a9c" stroke-width="0.4"/>
<text x="248.80" y="384.20" font-size="6.8" text-anchor="start" stroke="#000" stroke-width="0.20" fill="#000">AsPc1</text>
<line x1="237.30" y1="391.60" x2="245.60" y2="391.60" stroke="#ee3a22" stroke-width="1.3"/>
<polygon points="241.40,389.76 243.16,392.96 239.64,392.96" fill="#ee3a22" stroke="#ee3a22" stroke-width="0.4"/>
<text x="248.80" y="394.00" font-size="6.8" text-anchor="start" stroke="#000" stroke-width="0.20" fill="#000">Panc1</text>
<line x1="237.30" y1="401.30" x2="245.60" y2="401.30" stroke="#8a1212" stroke-width="1.3"/>
<rect x="239.80" y="399.70" width="3.20" height="3.20" fill="#8a1212" stroke="#8a1212" stroke-width="0"/>
<text x="248.80" y="403.70" font-size="6.8" text-anchor="start" stroke="#000" stroke-width="0.20" fill="#000">Suit2</text>
<text x="4.50" y="495.60" font-size="12.5" text-anchor="start" font-weight="bold" stroke="#000" stroke-width="0.40" fill="#000">F</text>
<rect x="38.20" y="517.40" width="13.40" height="91.00" fill="#000" stroke="none" stroke-width="0"/>
<line x1="44.90" y1="517.40" x2="44.90" y2="515.40" stroke="#000" stroke-width="1.0"/>
<line x1="41.50" y1="515.40" x2="48.30" y2="515.40" stroke="#000" stroke-width="1.0"/>
<line x1="44.90" y1="608.40" x2="44.90" y2="611.20" stroke="#000" stroke-width="1.1"/>
<text x="47.50" y="615.80" font-size="8.7" text-anchor="end" font-weight="bold" stroke="#000" stroke-width="0.37" transform="rotate(-45 47.50 615.80)" fill="#000">DMSO</text>
<rect x="55.40" y="575.91" width="13.90" height="32.49" fill="#b6b6b6" stroke="none" stroke-width="0"/>
<line x1="62.35" y1="575.91" x2="62.35" y2="574.09" stroke="#000" stroke-width="1.0"/>
<line x1="58.95" y1="574.09" x2="65.75" y2="574.09" stroke="#000" stroke-width="1.0"/>
<text x="62.35" y="573.39" font-size="6.2" text-anchor="middle" font-weight="bold" stroke="#555" stroke-width="0.26" fill="#555">***</text>
<line x1="62.35" y1="608.40" x2="62.35" y2="611.20" stroke="#000" stroke-width="1.1"/>
<text x="64.95" y="615.80" font-size="8.7" text-anchor="end" font-weight="bold" stroke="#000" stroke-width="0.37" transform="rotate(-45 64.95 615.80)" fill="#000">hF2-2D</text>
<rect x="72.90" y="578.37" width="13.90" height="30.03" fill="#b6b6b6" stroke="none" stroke-width="0"/>
<line x1="79.85" y1="578.37" x2="79.85" y2="576.55" stroke="#000" stroke-width="1.0"/>
<line x1="76.45" y1="576.55" x2="83.25" y2="576.55" stroke="#000" stroke-width="1.0"/>
<text x="79.85" y="575.85" font-size="6.2" text-anchor="middle" font-weight="bold" stroke="#555" stroke-width="0.26" fill="#555">***</text>
<line x1="79.85" y1="608.40" x2="79.85" y2="611.20" stroke="#000" stroke-width="1.1"/>
<text x="82.45" y="615.80" font-size="8.7" text-anchor="end" font-weight="bold" stroke="#000" stroke-width="0.37" transform="rotate(-45 82.45 615.80)" fill="#000">MiaPaCa2</text>
<rect x="91.10" y="551.80" width="13.50" height="56.60" fill="#7e7e7e" stroke="none" stroke-width="0"/>
<line x1="97.85" y1="551.80" x2="97.85" y2="549.80" stroke="#000" stroke-width="1.0"/>
<line x1="94.45" y1="549.80" x2="101.25" y2="549.80" stroke="#000" stroke-width="1.0"/>
<text x="97.85" y="549.10" font-size="6.2" text-anchor="middle" font-weight="bold" stroke="#555" stroke-width="0.26" fill="#555">***</text>
<line x1="97.85" y1="608.40" x2="97.85" y2="611.20" stroke="#000" stroke-width="1.1"/>
<text x="100.45" y="615.80" font-size="8.7" text-anchor="end" font-weight="bold" stroke="#000" stroke-width="0.37" transform="rotate(-45 100.45 615.80)" fill="#000">hF3-2D</text>
<rect x="108.70" y="539.42" width="13.70" height="68.98" fill="#eeeeee" stroke="none" stroke-width="0"/>
<line x1="115.55" y1="539.42" x2="115.55" y2="536.69" stroke="#000" stroke-width="1.0"/>
<line x1="112.15" y1="536.69" x2="118.95" y2="536.69" stroke="#000" stroke-width="1.0"/>
<text x="115.55" y="535.99" font-size="6.2" text-anchor="middle" font-weight="bold" stroke="#555" stroke-width="0.26" fill="#555">***</text>
<line x1="115.55" y1="608.40" x2="115.55" y2="611.20" stroke="#000" stroke-width="1.1"/>
<text x="118.15" y="615.80" font-size="8.7" text-anchor="end" font-weight="bold" stroke="#000" stroke-width="0.37" transform="rotate(-45 118.15 615.80)" fill="#000">hT1-2D</text>
<rect x="126.70" y="511.94" width="13.20" height="96.46" fill="#b0b0b0" stroke="none" stroke-width="0"/>
<line x1="133.30" y1="511.94" x2="133.30" y2="510.12" stroke="#000" stroke-width="1.0"/>
<line x1="129.90" y1="510.12" x2="136.70" y2="510.12" stroke="#000" stroke-width="1.0"/>
<line x1="133.30" y1="608.40" x2="133.30" y2="611.20" stroke="#000" stroke-width="1.1"/>
<text x="135.90" y="615.80" font-size="8.7" text-anchor="end" font-weight="bold" stroke="#000" stroke-width="0.37" transform="rotate(-45 135.90 615.80)" fill="#000">hM6-2D</text>
<rect x="144.40" y="521.22" width="13.40" height="87.18" fill="#8e8e8e" stroke="none" stroke-width="0"/>
<line x1="151.10" y1="521.22" x2="151.10" y2="519.22" stroke="#000" stroke-width="1.0"/>
<line x1="147.70" y1="519.22" x2="154.50" y2="519.22" stroke="#000" stroke-width="1.0"/>
<line x1="151.10" y1="608.40" x2="151.10" y2="611.20" stroke="#000" stroke-width="1.1"/>
<text x="153.70" y="615.80" font-size="8.7" text-anchor="end" font-weight="bold" stroke="#000" stroke-width="0.37" transform="rotate(-45 153.70 615.80)" fill="#000">AsPc1</text>
<rect x="162.30" y="517.40" width="13.20" height="91.00" fill="#dedede" stroke="none" stroke-width="0"/>
<line x1="168.90" y1="517.40" x2="168.90" y2="513.21" stroke="#000" stroke-width="1.0"/>
<line x1="165.50" y1="513.21" x2="172.30" y2="513.21" stroke="#000" stroke-width="1.0"/>
<line x1="168.90" y1="608.40" x2="168.90" y2="611.20" stroke="#000" stroke-width="1.1"/>
<text x="171.50" y="615.80" font-size="8.7" text-anchor="end" font-weight="bold" stroke="#000" stroke-width="0.37" transform="rotate(-45 171.50 615.80)" fill="#000">Suit2</text>
<rect x="179.80" y="513.76" width="13.20" height="94.64" fill="#7a7a7a" stroke="none" stroke-width="0"/>
<line x1="186.40" y1="513.76" x2="186.40" y2="507.39" stroke="#000" stroke-width="1.0"/>
<line x1="183.00" y1="507.39" x2="189.80" y2="507.39" stroke="#000" stroke-width="1.0"/>
<line x1="186.40" y1="608.40" x2="186.40" y2="611.20" stroke="#000" stroke-width="1.1"/>
<text x="189.00" y="615.80" font-size="8.7" text-anchor="end" font-weight="bold" stroke="#000" stroke-width="0.37" transform="rotate(-45 189.00 615.80)" fill="#000">Panc1</text>
<line x1="33.10" y1="498.70" x2="33.10" y2="609.00" stroke="#000" stroke-width="1.3"/>
<line x1="32.50" y1="608.40" x2="197.80" y2="608.40" stroke="#000" stroke-width="1.3"/>
<line x1="30.30" y1="608.40" x2="33.10" y2="608.40" stroke="#000" stroke-width="1.1"/>
<text x="29.70" y="611.40" font-size="8.4" text-anchor="end" font-weight="bold" stroke="#000" stroke-width="0.35" fill="#000">0.00</text>
<line x1="30.30" y1="585.65" x2="33.10" y2="585.65" stroke="#000" stroke-width="1.1"/>
<text x="29.70" y="588.65" font-size="8.4" text-anchor="end" font-weight="bold" stroke="#000" stroke-width="0.35" fill="#000">0.25</text>
<line x1="30.30" y1="562.90" x2="33.10" y2="562.90" stroke="#000" stroke-width="1.1"/>
<text x="29.70" y="565.90" font-size="8.4" text-anchor="end" font-weight="bold" stroke="#000" stroke-width="0.35" fill="#000">0.50</text>
<line x1="30.30" y1="540.15" x2="33.10" y2="540.15" stroke="#000" stroke-width="1.1"/>
<text x="29.70" y="543.15" font-size="8.4" text-anchor="end" font-weight="bold" stroke="#000" stroke-width="0.35" fill="#000">0.75</text>
<line x1="30.30" y1="517.40" x2="33.10" y2="517.40" stroke="#000" stroke-width="1.1"/>
<text x="29.70" y="520.40" font-size="8.4" text-anchor="end" font-weight="bold" stroke="#000" stroke-width="0.35" fill="#000">1.00</text>
<text x="6.40" y="552.00" font-size="7.6" text-anchor="middle" font-weight="bold" stroke="#000" stroke-width="0.32" transform="rotate(-90 6.40 552.00)" fill="#000">GSH:GSSG</text>
<text x="225.50" y="495.20" font-size="12.5" text-anchor="start" font-weight="bold" stroke="#000" stroke-width="0.40" fill="#000">G</text>
<text x="316.50" y="525.50" font-size="9.8" text-anchor="middle" font-weight="bold" stroke="#000" stroke-width="0.40" fill="#000">MiaPaCa2</text>
<rect x="275.00" y="561.70" width="17.50" height="48.80" fill="#000" stroke="none" stroke-width="0"/>
<line x1="283.75" y1="561.70" x2="283.75" y2="559.99" stroke="#000" stroke-width="0.9"/>
<line x1="279.75" y1="559.99" x2="287.75" y2="559.99" stroke="#000" stroke-width="0.9"/>
<line x1="283.75" y1="610.50" x2="283.75" y2="612.90" stroke="#000" stroke-width="1.0"/>
<text x="285.75" y="616.10" font-size="6.0" text-anchor="end" font-weight="bold" stroke="#000" stroke-width="0.25" transform="rotate(-45 285.75 616.10)" fill="#000">DMSO</text>
<rect x="299.60" y="583.66" width="17.90" height="26.84" fill="#b4b4b4" stroke="none" stroke-width="0"/>
<line x1="308.55" y1="583.66" x2="308.55" y2="581.22" stroke="#000" stroke-width="0.9"/>
<line x1="304.55" y1="581.22" x2="312.55" y2="581.22" stroke="#000" stroke-width="0.9"/>
<line x1="308.55" y1="610.50" x2="308.55" y2="612.90" stroke="#000" stroke-width="1.0"/>
<text x="310.55" y="616.10" font-size="6.0" text-anchor="end" font-weight="bold" stroke="#000" stroke-width="0.25" transform="rotate(-45 310.55 616.10)" fill="#000">Napabucasin</text>
<rect x="324.80" y="558.77" width="17.90" height="51.73" fill="#8c8c8c" stroke="none" stroke-width="0"/>
<line x1="333.75" y1="558.77" x2="333.75" y2="555.84" stroke="#000" stroke-width="0.9"/>
<line x1="329.75" y1="555.84" x2="337.75" y2="555.84" stroke="#000" stroke-width="0.9"/>
<line x1="333.75" y1="610.50" x2="333.75" y2="612.90" stroke="#000" stroke-width="1.0"/>
<text x="335.75" y="616.10" font-size="6.0" text-anchor="end" font-weight="bold" stroke="#000" stroke-width="0.25" transform="rotate(-45 335.75 616.10)" fill="#000">Napa+NAC</text>
<rect x="350.40" y="557.31" width="17.80" height="53.19" fill="#dcdcdc" stroke="none" stroke-width="0"/>
<line x1="359.30" y1="557.31" x2="359.30" y2="556.09" stroke="#000" stroke-width="0.9"/>
<line x1="355.30" y1="556.09" x2="363.30" y2="556.09" stroke="#000" stroke-width="0.9"/>
<line x1="359.30" y1="610.50" x2="359.30" y2="612.90" stroke="#000" stroke-width="1.0"/>
<text x="361.30" y="616.10" font-size="6.0" text-anchor="end" font-weight="bold" stroke="#000" stroke-width="0.25" transform="rotate(-45 361.30 616.10)" fill="#000">NAC</text>
<line x1="267.30" y1="537.30" x2="267.30" y2="611.10" stroke="#000" stroke-width="1.3"/>
<line x1="266.70" y1="610.50" x2="373.50" y2="610.50" stroke="#000" stroke-width="1.3"/>
<line x1="264.90" y1="610.50" x2="267.30" y2="610.50" stroke="#000" stroke-width="1.0"/>
<text x="264.70" y="612.50" font-size="5.6" text-anchor="end" font-weight="bold" stroke="#000" stroke-width="0.24" fill="#000">0.0</text>
<line x1="264.90" y1="586.10" x2="267.30" y2="586.10" stroke="#000" stroke-width="1.0"/>
<text x="264.70" y="588.10" font-size="5.6" text-anchor="end" font-weight="bold" stroke="#000" stroke-width="0.24" fill="#000">0.5</text>
<line x1="264.90" y1="561.70" x2="267.30" y2="561.70" stroke="#000" stroke-width="1.0"/>
<text x="264.70" y="563.70" font-size="5.6" text-anchor="end" font-weight="bold" stroke="#000" stroke-width="0.24" fill="#000">1.0</text>
<line x1="264.90" y1="537.30" x2="267.30" y2="537.30" stroke="#000" stroke-width="1.0"/>
<text x="264.70" y="539.30" font-size="5.6" text-anchor="end" font-weight="bold" stroke="#000" stroke-width="0.24" fill="#000">1.5</text>
<path d="M283.30,553.60 L283.30,549.60 L308.40,549.60 L308.40,579.80" stroke="#111" stroke-width="0.9" fill="none" stroke-linejoin="round" stroke-linecap="round"/>
<text x="295.85" y="550.10" font-size="5.2" text-anchor="middle" font-weight="bold" stroke="#555" stroke-width="0.22" fill="#555">**</text>
<path d="M311.50,579.80 L311.50,549.60 L333.50,549.60 L333.50,553.60" stroke="#111" stroke-width="0.9" fill="none" stroke-linejoin="round" stroke-linecap="round"/>
<text x="322.50" y="550.10" font-size="5.2" text-anchor="middle" font-weight="bold" stroke="#555" stroke-width="0.22" fill="#555">*</text>
<text x="253.90" y="573.90" font-size="6.6" text-anchor="middle" font-weight="bold" stroke="#000" stroke-width="0.28" transform="rotate(-90 253.90 573.90)" fill="#000">Normalized cell viability</text>
<text x="452.00" y="525.50" font-size="9.8" text-anchor="middle" font-weight="bold" stroke="#000" stroke-width="0.40" fill="#000">AsPc1</text>
<rect x="412.40" y="559.23" width="17.60" height="49.27" fill="#000" stroke="none" stroke-width="0"/>
<line x1="421.20" y1="559.23" x2="421.20" y2="556.77" stroke="#000" stroke-width="0.9"/>
<line x1="417.20" y1="556.77" x2="425.20" y2="556.77" stroke="#000" stroke-width="0.9"/>
<line x1="421.20" y1="608.50" x2="421.20" y2="610.90" stroke="#000" stroke-width="1.0"/>
<text x="423.20" y="614.10" font-size="6.0" text-anchor="end" font-weight="bold" stroke="#000" stroke-width="0.25" transform="rotate(-45 423.20 614.10)" fill="#000">DMSO</text>
<rect x="437.20" y="589.78" width="18.50" height="18.72" fill="#b4b4b4" stroke="none" stroke-width="0"/>
<line x1="446.45" y1="589.78" x2="446.45" y2="587.56" stroke="#000" stroke-width="0.9"/>
<line x1="442.45" y1="587.56" x2="450.45" y2="587.56" stroke="#000" stroke-width="0.9"/>
<line x1="446.45" y1="608.50" x2="446.45" y2="610.90" stroke="#000" stroke-width="1.0"/>
<text x="448.45" y="614.10" font-size="6.0" text-anchor="end" font-weight="bold" stroke="#000" stroke-width="0.25" transform="rotate(-45 448.45 614.10)" fill="#000">Napabucasin</text>
<rect x="462.90" y="564.16" width="18.10" height="44.34" fill="#8c8c8c" stroke="none" stroke-width="0"/>
<line x1="471.95" y1="564.16" x2="471.95" y2="562.19" stroke="#000" stroke-width="0.9"/>
<line x1="467.95" y1="562.19" x2="475.95" y2="562.19" stroke="#000" stroke-width="0.9"/>
<line x1="471.95" y1="608.50" x2="471.95" y2="610.90" stroke="#000" stroke-width="1.0"/>
<text x="473.95" y="614.10" font-size="6.0" text-anchor="end" font-weight="bold" stroke="#000" stroke-width="0.25" transform="rotate(-45 473.95 614.10)" fill="#000">Napa+NAC</text>
<rect x="488.30" y="554.80" width="17.80" height="53.70" fill="#dcdcdc" stroke="none" stroke-width="0"/>
<line x1="497.20" y1="554.80" x2="497.20" y2="552.34" stroke="#000" stroke-width="0.9"/>
<line x1="493.20" y1="552.34" x2="501.20" y2="552.34" stroke="#000" stroke-width="0.9"/>
<line x1="497.20" y1="608.50" x2="497.20" y2="610.90" stroke="#000" stroke-width="1.0"/>
<text x="499.20" y="614.10" font-size="6.0" text-anchor="end" font-weight="bold" stroke="#000" stroke-width="0.25" transform="rotate(-45 499.20 614.10)" fill="#000">NAC</text>
<line x1="404.60" y1="534.60" x2="404.60" y2="609.10" stroke="#000" stroke-width="1.3"/>
<line x1="404.00" y1="608.50" x2="512.00" y2="608.50" stroke="#000" stroke-width="1.3"/>
<line x1="402.20" y1="608.50" x2="404.60" y2="608.50" stroke="#000" stroke-width="1.0"/>
<text x="402.00" y="610.50" font-size="5.6" text-anchor="end" font-weight="bold" stroke="#000" stroke-width="0.24" fill="#000">0.0</text>
<line x1="402.20" y1="583.87" x2="404.60" y2="583.87" stroke="#000" stroke-width="1.0"/>
<text x="402.00" y="585.87" font-size="5.6" text-anchor="end" font-weight="bold" stroke="#000" stroke-width="0.24" fill="#000">0.5</text>
<line x1="402.20" y1="559.23" x2="404.60" y2="559.23" stroke="#000" stroke-width="1.0"/>
<text x="402.00" y="561.23" font-size="5.6" text-anchor="end" font-weight="bold" stroke="#000" stroke-width="0.24" fill="#000">1.0</text>
<line x1="402.20" y1="534.60" x2="404.60" y2="534.60" stroke="#000" stroke-width="1.0"/>
<text x="402.00" y="536.60" font-size="5.6" text-anchor="end" font-weight="bold" stroke="#000" stroke-width="0.24" fill="#000">1.5</text>
<path d="M421.30,553.80 L421.30,549.40 L445.60,549.40 L445.60,586.00" stroke="#111" stroke-width="0.9" fill="none" stroke-linejoin="round" stroke-linecap="round"/>
<text x="433.45" y="549.90" font-size="5.2" text-anchor="middle" font-weight="bold" stroke="#555" stroke-width="0.22" fill="#555">***</text>
<path d="M448.50,586.00 L448.50,549.40 L472.40,549.40 L472.40,559.60" stroke="#111" stroke-width="0.9" fill="none" stroke-linejoin="round" stroke-linecap="round"/>
<text x="460.45" y="549.90" font-size="5.2" text-anchor="middle" font-weight="bold" stroke="#555" stroke-width="0.22" fill="#555">***</text>
<text x="391.60" y="571.55" font-size="6.6" text-anchor="middle" font-weight="bold" stroke="#000" stroke-width="0.28" transform="rotate(-90 391.60 571.55)" fill="#000">Normalized cell viability</text>
</g></svg></body></html>
